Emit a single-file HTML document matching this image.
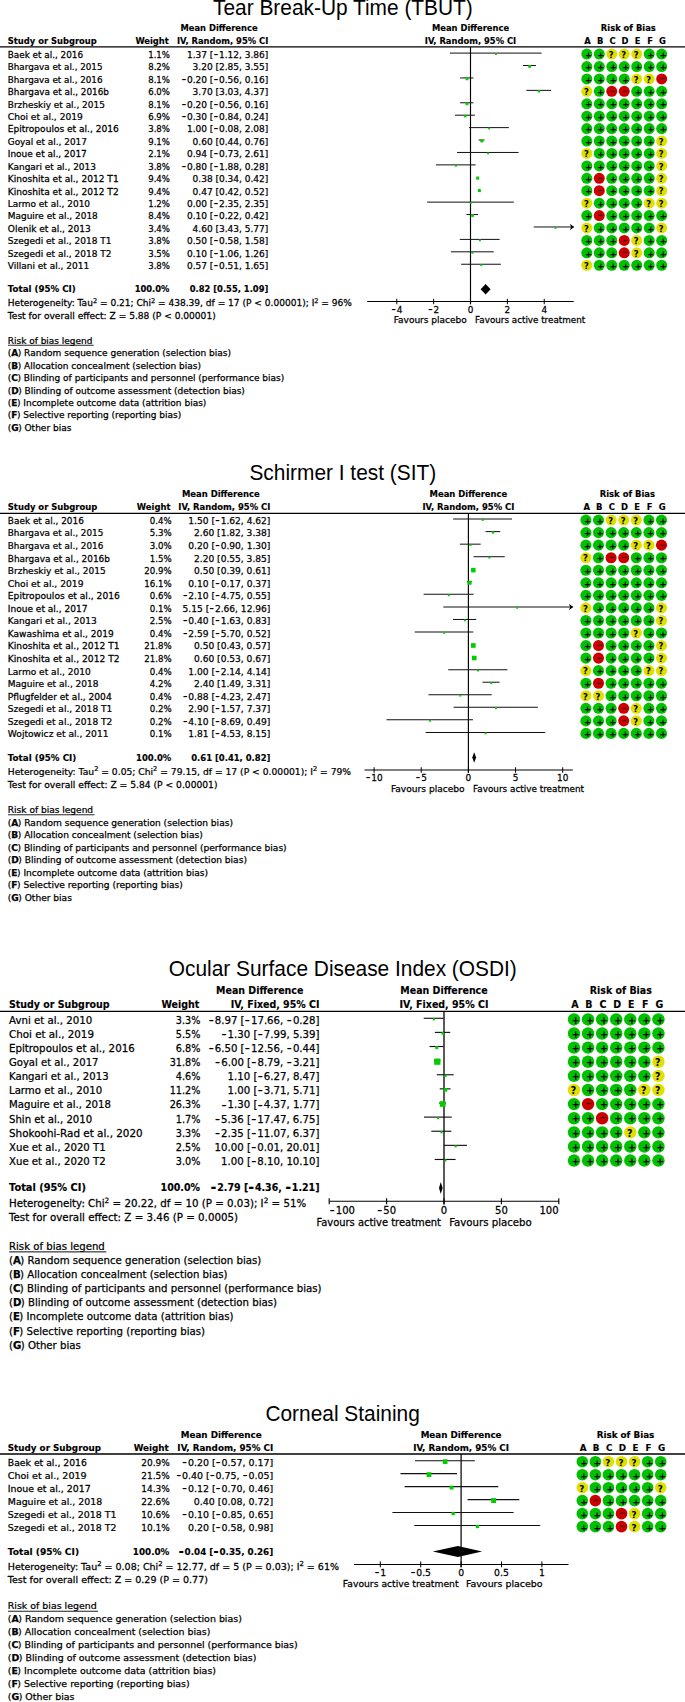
<!DOCTYPE html>
<html lang="en"><head><meta charset="utf-8"><title>Forest plots</title>
<style>html,body{margin:0;padding:0;background:#fff}svg{display:block}text{white-space:pre}</style></head>
<body><svg width="685" height="1702" viewBox="0 0 685 1702">
<rect width="685" height="1702" fill="#fff"/>
<text transform="translate(342.90 14.80) scale(0.9850 1)" font-size="21.20" text-anchor="middle" fill="#000" font-family="'Liberation Sans',sans-serif">Tear Break-Up Time (TBUT)</text>
<line x1="0.00" y1="46.95" x2="685.00" y2="46.95" stroke="#000" stroke-width="1.30"/>
<text transform="translate(7.80 43.70) scale(0.9300 1)" font-size="9.00" font-weight="bold" stroke="#000" stroke-width="0.15" fill="#000" font-family="'DejaVu Sans','Liberation Sans',sans-serif">Study or Subgroup</text>
<text transform="translate(168.80 43.70) scale(0.9300 1)" font-size="9.00" font-weight="bold" stroke="#000" stroke-width="0.15" text-anchor="end" fill="#000" font-family="'DejaVu Sans','Liberation Sans',sans-serif">Weight</text>
<text transform="translate(268.30 43.70) scale(0.9300 1)" font-size="9.00" font-weight="bold" stroke="#000" stroke-width="0.15" text-anchor="end" fill="#000" font-family="'DejaVu Sans','Liberation Sans',sans-serif">IV, Random, 95% CI</text>
<text transform="translate(219.00 31.30) scale(0.9300 1)" font-size="9.00" font-weight="bold" stroke="#000" stroke-width="0.15" text-anchor="middle" fill="#000" font-family="'DejaVu Sans','Liberation Sans',sans-serif">Mean Difference</text>
<text transform="translate(470.50 31.30) scale(0.9300 1)" font-size="9.00" font-weight="bold" stroke="#000" stroke-width="0.15" text-anchor="middle" fill="#000" font-family="'DejaVu Sans','Liberation Sans',sans-serif">Mean Difference</text>
<text transform="translate(470.50 43.70) scale(0.9300 1)" font-size="9.00" font-weight="bold" stroke="#000" stroke-width="0.15" text-anchor="middle" fill="#000" font-family="'DejaVu Sans','Liberation Sans',sans-serif">IV, Random, 95% CI</text>
<text transform="translate(628.30 31.30) scale(0.9300 1)" font-size="9.00" font-weight="bold" stroke="#000" stroke-width="0.15" text-anchor="middle" fill="#000" font-family="'DejaVu Sans','Liberation Sans',sans-serif">Risk of Bias</text>
<text transform="translate(587.60 43.70) scale(0.9300 1)" font-size="9.00" font-weight="bold" stroke="#000" stroke-width="0.15" text-anchor="middle" fill="#000" font-family="'DejaVu Sans','Liberation Sans',sans-serif">A</text>
<text transform="translate(600.08 43.70) scale(0.9300 1)" font-size="9.00" font-weight="bold" stroke="#000" stroke-width="0.15" text-anchor="middle" fill="#000" font-family="'DejaVu Sans','Liberation Sans',sans-serif">B</text>
<text transform="translate(612.56 43.70) scale(0.9300 1)" font-size="9.00" font-weight="bold" stroke="#000" stroke-width="0.15" text-anchor="middle" fill="#000" font-family="'DejaVu Sans','Liberation Sans',sans-serif">C</text>
<text transform="translate(625.04 43.70) scale(0.9300 1)" font-size="9.00" font-weight="bold" stroke="#000" stroke-width="0.15" text-anchor="middle" fill="#000" font-family="'DejaVu Sans','Liberation Sans',sans-serif">D</text>
<text transform="translate(637.52 43.70) scale(0.9300 1)" font-size="9.00" font-weight="bold" stroke="#000" stroke-width="0.15" text-anchor="middle" fill="#000" font-family="'DejaVu Sans','Liberation Sans',sans-serif">E</text>
<text transform="translate(650.00 43.70) scale(0.9300 1)" font-size="9.00" font-weight="bold" stroke="#000" stroke-width="0.15" text-anchor="middle" fill="#000" font-family="'DejaVu Sans','Liberation Sans',sans-serif">F</text>
<text transform="translate(662.48 43.70) scale(0.9300 1)" font-size="9.00" font-weight="bold" stroke="#000" stroke-width="0.15" text-anchor="middle" fill="#000" font-family="'DejaVu Sans','Liberation Sans',sans-serif">G</text>
<line x1="470.50" y1="46.95" x2="470.50" y2="304.30" stroke="#000" stroke-width="1.15"/>
<text transform="translate(7.80 57.90) scale(0.9827 1)" font-size="9.00" stroke="#000" stroke-width="0.25" fill="#000" font-family="'DejaVu Sans','Liberation Sans',sans-serif">Baek et al., 2016</text>
<text transform="translate(169.90 57.90) scale(0.9500 1)" font-size="9.00" stroke="#000" stroke-width="0.25" text-anchor="end" fill="#000" font-family="'DejaVu Sans','Liberation Sans',sans-serif">1.1%</text>
<text x="268.30" y="57.90" font-size="9.00" stroke="#000" stroke-width="0.25" text-anchor="end" fill="#000" font-family="'DejaVu Sans','Liberation Sans',sans-serif">1.37 [<tspan font-size="13.50" dy="1.04" stroke-width="0" letter-spacing="0.72">-</tspan><tspan dy="-1.04">1.12, 3.86]</tspan></text>
<line x1="449.86" y1="53.10" x2="541.64" y2="53.10" stroke="#111" stroke-width="1.00"/>
<rect x="495.00" y="53.05" width="1.90" height="1.90" fill="#00cc00"/>
<circle cx="586.80" cy="54.10" r="5.50" fill="#00c000"/>
<text transform="translate(588.40 57.80) scale(0.9300 1)" font-size="9.00" font-weight="bold" stroke="#000" stroke-width="0.05" text-anchor="middle" fill="#000" font-family="'DejaVu Sans','Liberation Sans',sans-serif">+</text>
<circle cx="599.28" cy="54.10" r="5.50" fill="#00c000"/>
<text transform="translate(600.88 57.80) scale(0.9300 1)" font-size="9.00" font-weight="bold" stroke="#000" stroke-width="0.05" text-anchor="middle" fill="#000" font-family="'DejaVu Sans','Liberation Sans',sans-serif">+</text>
<circle cx="611.76" cy="54.10" r="5.50" fill="#e0e000"/>
<text transform="translate(611.26 57.80) scale(0.9300 1)" font-size="9.00" font-weight="bold" stroke="#000" stroke-width="0.05" text-anchor="middle" fill="#000" font-family="'DejaVu Sans','Liberation Sans',sans-serif">?</text>
<circle cx="624.24" cy="54.10" r="5.50" fill="#e0e000"/>
<text transform="translate(623.74 57.80) scale(0.9300 1)" font-size="9.00" font-weight="bold" stroke="#000" stroke-width="0.05" text-anchor="middle" fill="#000" font-family="'DejaVu Sans','Liberation Sans',sans-serif">?</text>
<circle cx="636.72" cy="54.10" r="5.50" fill="#e0e000"/>
<text transform="translate(636.22 57.80) scale(0.9300 1)" font-size="9.00" font-weight="bold" stroke="#000" stroke-width="0.05" text-anchor="middle" fill="#000" font-family="'DejaVu Sans','Liberation Sans',sans-serif">?</text>
<circle cx="649.20" cy="54.10" r="5.50" fill="#00c000"/>
<text transform="translate(650.80 57.80) scale(0.9300 1)" font-size="9.00" font-weight="bold" stroke="#000" stroke-width="0.05" text-anchor="middle" fill="#000" font-family="'DejaVu Sans','Liberation Sans',sans-serif">+</text>
<circle cx="661.68" cy="54.10" r="5.50" fill="#00c000"/>
<text transform="translate(663.28 57.80) scale(0.9300 1)" font-size="9.00" font-weight="bold" stroke="#000" stroke-width="0.05" text-anchor="middle" fill="#000" font-family="'DejaVu Sans','Liberation Sans',sans-serif">+</text>
<text transform="translate(7.80 70.32) scale(0.9744 1)" font-size="9.00" stroke="#000" stroke-width="0.25" fill="#000" font-family="'DejaVu Sans','Liberation Sans',sans-serif">Bhargava et al., 2015</text>
<text transform="translate(169.90 70.32) scale(0.9500 1)" font-size="9.00" stroke="#000" stroke-width="0.25" text-anchor="end" fill="#000" font-family="'DejaVu Sans','Liberation Sans',sans-serif">8.2%</text>
<text x="268.30" y="70.32" font-size="9.00" stroke="#000" stroke-width="0.25" text-anchor="end" fill="#000" font-family="'DejaVu Sans','Liberation Sans',sans-serif">3.20 [2.85, 3.55]</text>
<line x1="523.03" y1="65.52" x2="535.93" y2="65.52" stroke="#111" stroke-width="1.00"/>
<rect x="528.27" y="65.02" width="2.81" height="2.81" fill="#00cc00"/>
<circle cx="586.80" cy="66.52" r="5.50" fill="#00c000"/>
<text transform="translate(588.40 70.22) scale(0.9300 1)" font-size="9.00" font-weight="bold" stroke="#000" stroke-width="0.05" text-anchor="middle" fill="#000" font-family="'DejaVu Sans','Liberation Sans',sans-serif">+</text>
<circle cx="599.28" cy="66.52" r="5.50" fill="#00c000"/>
<text transform="translate(600.88 70.22) scale(0.9300 1)" font-size="9.00" font-weight="bold" stroke="#000" stroke-width="0.05" text-anchor="middle" fill="#000" font-family="'DejaVu Sans','Liberation Sans',sans-serif">+</text>
<circle cx="611.76" cy="66.52" r="5.50" fill="#00c000"/>
<text transform="translate(613.36 70.22) scale(0.9300 1)" font-size="9.00" font-weight="bold" stroke="#000" stroke-width="0.05" text-anchor="middle" fill="#000" font-family="'DejaVu Sans','Liberation Sans',sans-serif">+</text>
<circle cx="624.24" cy="66.52" r="5.50" fill="#00c000"/>
<text transform="translate(625.84 70.22) scale(0.9300 1)" font-size="9.00" font-weight="bold" stroke="#000" stroke-width="0.05" text-anchor="middle" fill="#000" font-family="'DejaVu Sans','Liberation Sans',sans-serif">+</text>
<circle cx="636.72" cy="66.52" r="5.50" fill="#00c000"/>
<text transform="translate(638.32 70.22) scale(0.9300 1)" font-size="9.00" font-weight="bold" stroke="#000" stroke-width="0.05" text-anchor="middle" fill="#000" font-family="'DejaVu Sans','Liberation Sans',sans-serif">+</text>
<circle cx="649.20" cy="66.52" r="5.50" fill="#00c000"/>
<text transform="translate(650.80 70.22) scale(0.9300 1)" font-size="9.00" font-weight="bold" stroke="#000" stroke-width="0.05" text-anchor="middle" fill="#000" font-family="'DejaVu Sans','Liberation Sans',sans-serif">+</text>
<circle cx="661.68" cy="66.52" r="5.50" fill="#00c000"/>
<text transform="translate(663.28 70.22) scale(0.9300 1)" font-size="9.00" font-weight="bold" stroke="#000" stroke-width="0.05" text-anchor="middle" fill="#000" font-family="'DejaVu Sans','Liberation Sans',sans-serif">+</text>
<text transform="translate(7.80 82.74) scale(0.9744 1)" font-size="9.00" stroke="#000" stroke-width="0.25" fill="#000" font-family="'DejaVu Sans','Liberation Sans',sans-serif">Bhargava et al., 2016</text>
<text transform="translate(169.90 82.74) scale(0.9500 1)" font-size="9.00" stroke="#000" stroke-width="0.25" text-anchor="end" fill="#000" font-family="'DejaVu Sans','Liberation Sans',sans-serif">8.1%</text>
<text x="268.30" y="82.74" font-size="9.00" stroke="#000" stroke-width="0.25" text-anchor="end" fill="#000" font-family="'DejaVu Sans','Liberation Sans',sans-serif"><tspan font-size="13.50" dy="1.04" stroke-width="0" letter-spacing="0.72">-</tspan><tspan dy="-1.04">0.20 [</tspan><tspan font-size="13.50" dy="1.04" stroke-width="0" letter-spacing="0.72">-</tspan><tspan dy="-1.04">0.56, 0.16]</tspan></text>
<line x1="460.18" y1="77.94" x2="473.45" y2="77.94" stroke="#111" stroke-width="1.00"/>
<rect x="465.62" y="77.45" width="2.79" height="2.79" fill="#00cc00"/>
<circle cx="586.80" cy="78.94" r="5.50" fill="#00c000"/>
<text transform="translate(588.40 82.64) scale(0.9300 1)" font-size="9.00" font-weight="bold" stroke="#000" stroke-width="0.05" text-anchor="middle" fill="#000" font-family="'DejaVu Sans','Liberation Sans',sans-serif">+</text>
<circle cx="599.28" cy="78.94" r="5.50" fill="#00c000"/>
<text transform="translate(600.88 82.64) scale(0.9300 1)" font-size="9.00" font-weight="bold" stroke="#000" stroke-width="0.05" text-anchor="middle" fill="#000" font-family="'DejaVu Sans','Liberation Sans',sans-serif">+</text>
<circle cx="611.76" cy="78.94" r="5.50" fill="#00c000"/>
<text transform="translate(613.36 82.64) scale(0.9300 1)" font-size="9.00" font-weight="bold" stroke="#000" stroke-width="0.05" text-anchor="middle" fill="#000" font-family="'DejaVu Sans','Liberation Sans',sans-serif">+</text>
<circle cx="624.24" cy="78.94" r="5.50" fill="#00c000"/>
<text transform="translate(625.84 82.64) scale(0.9300 1)" font-size="9.00" font-weight="bold" stroke="#000" stroke-width="0.05" text-anchor="middle" fill="#000" font-family="'DejaVu Sans','Liberation Sans',sans-serif">+</text>
<circle cx="636.72" cy="78.94" r="5.50" fill="#e0e000"/>
<text transform="translate(636.22 82.64) scale(0.9300 1)" font-size="9.00" font-weight="bold" stroke="#000" stroke-width="0.05" text-anchor="middle" fill="#000" font-family="'DejaVu Sans','Liberation Sans',sans-serif">?</text>
<circle cx="649.20" cy="78.94" r="5.50" fill="#e0e000"/>
<text transform="translate(648.70 82.64) scale(0.9300 1)" font-size="9.00" font-weight="bold" stroke="#000" stroke-width="0.05" text-anchor="middle" fill="#000" font-family="'DejaVu Sans','Liberation Sans',sans-serif">?</text>
<circle cx="661.68" cy="78.94" r="5.50" fill="#cc0000"/>
<text transform="translate(662.38 81.44) scale(0.7800 1)" font-size="9.00" font-weight="bold" text-anchor="middle" fill="#400" font-family="'DejaVu Sans','Liberation Sans',sans-serif">−</text>
<text transform="translate(7.80 95.16) scale(0.9834 1)" font-size="9.00" stroke="#000" stroke-width="0.25" fill="#000" font-family="'DejaVu Sans','Liberation Sans',sans-serif">Bhargava et al., 2016b</text>
<text transform="translate(169.90 95.16) scale(0.9500 1)" font-size="9.00" stroke="#000" stroke-width="0.25" text-anchor="end" fill="#000" font-family="'DejaVu Sans','Liberation Sans',sans-serif">6.0%</text>
<text x="268.30" y="95.16" font-size="9.00" stroke="#000" stroke-width="0.25" text-anchor="end" fill="#000" font-family="'DejaVu Sans','Liberation Sans',sans-serif">3.70 [3.03, 4.37]</text>
<line x1="526.34" y1="90.36" x2="551.04" y2="90.36" stroke="#111" stroke-width="1.00"/>
<rect x="537.69" y="90.06" width="2.40" height="2.40" fill="#00cc00"/>
<circle cx="586.80" cy="91.36" r="5.50" fill="#e0e000"/>
<text transform="translate(586.30 95.06) scale(0.9300 1)" font-size="9.00" font-weight="bold" stroke="#000" stroke-width="0.05" text-anchor="middle" fill="#000" font-family="'DejaVu Sans','Liberation Sans',sans-serif">?</text>
<circle cx="599.28" cy="91.36" r="5.50" fill="#00c000"/>
<text transform="translate(600.88 95.06) scale(0.9300 1)" font-size="9.00" font-weight="bold" stroke="#000" stroke-width="0.05" text-anchor="middle" fill="#000" font-family="'DejaVu Sans','Liberation Sans',sans-serif">+</text>
<circle cx="611.76" cy="91.36" r="5.50" fill="#cc0000"/>
<text transform="translate(612.46 93.86) scale(0.7800 1)" font-size="9.00" font-weight="bold" text-anchor="middle" fill="#400" font-family="'DejaVu Sans','Liberation Sans',sans-serif">−</text>
<circle cx="624.24" cy="91.36" r="5.50" fill="#cc0000"/>
<text transform="translate(624.94 93.86) scale(0.7800 1)" font-size="9.00" font-weight="bold" text-anchor="middle" fill="#400" font-family="'DejaVu Sans','Liberation Sans',sans-serif">−</text>
<circle cx="636.72" cy="91.36" r="5.50" fill="#00c000"/>
<text transform="translate(638.32 95.06) scale(0.9300 1)" font-size="9.00" font-weight="bold" stroke="#000" stroke-width="0.05" text-anchor="middle" fill="#000" font-family="'DejaVu Sans','Liberation Sans',sans-serif">+</text>
<circle cx="649.20" cy="91.36" r="5.50" fill="#00c000"/>
<text transform="translate(650.80 95.06) scale(0.9300 1)" font-size="9.00" font-weight="bold" stroke="#000" stroke-width="0.05" text-anchor="middle" fill="#000" font-family="'DejaVu Sans','Liberation Sans',sans-serif">+</text>
<circle cx="661.68" cy="91.36" r="5.50" fill="#00c000"/>
<text transform="translate(663.28 95.06) scale(0.9300 1)" font-size="9.00" font-weight="bold" stroke="#000" stroke-width="0.05" text-anchor="middle" fill="#000" font-family="'DejaVu Sans','Liberation Sans',sans-serif">+</text>
<text transform="translate(7.80 107.58) scale(0.9933 1)" font-size="9.00" stroke="#000" stroke-width="0.25" fill="#000" font-family="'DejaVu Sans','Liberation Sans',sans-serif">Brzheskiy et al., 2015</text>
<text transform="translate(169.90 107.58) scale(0.9500 1)" font-size="9.00" stroke="#000" stroke-width="0.25" text-anchor="end" fill="#000" font-family="'DejaVu Sans','Liberation Sans',sans-serif">8.1%</text>
<text x="268.30" y="107.58" font-size="9.00" stroke="#000" stroke-width="0.25" text-anchor="end" fill="#000" font-family="'DejaVu Sans','Liberation Sans',sans-serif"><tspan font-size="13.50" dy="1.04" stroke-width="0" letter-spacing="0.72">-</tspan><tspan dy="-1.04">0.20 [</tspan><tspan font-size="13.50" dy="1.04" stroke-width="0" letter-spacing="0.72">-</tspan><tspan dy="-1.04">0.56, 0.16]</tspan></text>
<line x1="460.18" y1="102.78" x2="473.45" y2="102.78" stroke="#111" stroke-width="1.00"/>
<rect x="465.62" y="102.29" width="2.79" height="2.79" fill="#00cc00"/>
<circle cx="586.80" cy="103.78" r="5.50" fill="#00c000"/>
<text transform="translate(588.40 107.48) scale(0.9300 1)" font-size="9.00" font-weight="bold" stroke="#000" stroke-width="0.05" text-anchor="middle" fill="#000" font-family="'DejaVu Sans','Liberation Sans',sans-serif">+</text>
<circle cx="599.28" cy="103.78" r="5.50" fill="#00c000"/>
<text transform="translate(600.88 107.48) scale(0.9300 1)" font-size="9.00" font-weight="bold" stroke="#000" stroke-width="0.05" text-anchor="middle" fill="#000" font-family="'DejaVu Sans','Liberation Sans',sans-serif">+</text>
<circle cx="611.76" cy="103.78" r="5.50" fill="#00c000"/>
<text transform="translate(613.36 107.48) scale(0.9300 1)" font-size="9.00" font-weight="bold" stroke="#000" stroke-width="0.05" text-anchor="middle" fill="#000" font-family="'DejaVu Sans','Liberation Sans',sans-serif">+</text>
<circle cx="624.24" cy="103.78" r="5.50" fill="#00c000"/>
<text transform="translate(625.84 107.48) scale(0.9300 1)" font-size="9.00" font-weight="bold" stroke="#000" stroke-width="0.05" text-anchor="middle" fill="#000" font-family="'DejaVu Sans','Liberation Sans',sans-serif">+</text>
<circle cx="636.72" cy="103.78" r="5.50" fill="#00c000"/>
<text transform="translate(638.32 107.48) scale(0.9300 1)" font-size="9.00" font-weight="bold" stroke="#000" stroke-width="0.05" text-anchor="middle" fill="#000" font-family="'DejaVu Sans','Liberation Sans',sans-serif">+</text>
<circle cx="649.20" cy="103.78" r="5.50" fill="#00c000"/>
<text transform="translate(650.80 107.48) scale(0.9300 1)" font-size="9.00" font-weight="bold" stroke="#000" stroke-width="0.05" text-anchor="middle" fill="#000" font-family="'DejaVu Sans','Liberation Sans',sans-serif">+</text>
<circle cx="661.68" cy="103.78" r="5.50" fill="#00c000"/>
<text transform="translate(663.28 107.48) scale(0.9300 1)" font-size="9.00" font-weight="bold" stroke="#000" stroke-width="0.05" text-anchor="middle" fill="#000" font-family="'DejaVu Sans','Liberation Sans',sans-serif">+</text>
<text transform="translate(7.80 120.00) scale(1.0110 1)" font-size="9.00" stroke="#000" stroke-width="0.25" fill="#000" font-family="'DejaVu Sans','Liberation Sans',sans-serif">Choi et al., 2019</text>
<text transform="translate(169.90 120.00) scale(0.9500 1)" font-size="9.00" stroke="#000" stroke-width="0.25" text-anchor="end" fill="#000" font-family="'DejaVu Sans','Liberation Sans',sans-serif">6.9%</text>
<text x="268.30" y="120.00" font-size="9.00" stroke="#000" stroke-width="0.25" text-anchor="end" fill="#000" font-family="'DejaVu Sans','Liberation Sans',sans-serif"><tspan font-size="13.50" dy="1.04" stroke-width="0" letter-spacing="0.72">-</tspan><tspan dy="-1.04">0.30 [</tspan><tspan font-size="13.50" dy="1.04" stroke-width="0" letter-spacing="0.72">-</tspan><tspan dy="-1.04">0.84, 0.24]</tspan></text>
<line x1="455.02" y1="115.20" x2="474.92" y2="115.20" stroke="#111" stroke-width="1.00"/>
<rect x="463.88" y="114.81" width="2.57" height="2.57" fill="#00cc00"/>
<circle cx="586.80" cy="116.20" r="5.50" fill="#00c000"/>
<text transform="translate(588.40 119.90) scale(0.9300 1)" font-size="9.00" font-weight="bold" stroke="#000" stroke-width="0.05" text-anchor="middle" fill="#000" font-family="'DejaVu Sans','Liberation Sans',sans-serif">+</text>
<circle cx="599.28" cy="116.20" r="5.50" fill="#00c000"/>
<text transform="translate(600.88 119.90) scale(0.9300 1)" font-size="9.00" font-weight="bold" stroke="#000" stroke-width="0.05" text-anchor="middle" fill="#000" font-family="'DejaVu Sans','Liberation Sans',sans-serif">+</text>
<circle cx="611.76" cy="116.20" r="5.50" fill="#00c000"/>
<text transform="translate(613.36 119.90) scale(0.9300 1)" font-size="9.00" font-weight="bold" stroke="#000" stroke-width="0.05" text-anchor="middle" fill="#000" font-family="'DejaVu Sans','Liberation Sans',sans-serif">+</text>
<circle cx="624.24" cy="116.20" r="5.50" fill="#00c000"/>
<text transform="translate(625.84 119.90) scale(0.9300 1)" font-size="9.00" font-weight="bold" stroke="#000" stroke-width="0.05" text-anchor="middle" fill="#000" font-family="'DejaVu Sans','Liberation Sans',sans-serif">+</text>
<circle cx="636.72" cy="116.20" r="5.50" fill="#00c000"/>
<text transform="translate(638.32 119.90) scale(0.9300 1)" font-size="9.00" font-weight="bold" stroke="#000" stroke-width="0.05" text-anchor="middle" fill="#000" font-family="'DejaVu Sans','Liberation Sans',sans-serif">+</text>
<circle cx="649.20" cy="116.20" r="5.50" fill="#00c000"/>
<text transform="translate(650.80 119.90) scale(0.9300 1)" font-size="9.00" font-weight="bold" stroke="#000" stroke-width="0.05" text-anchor="middle" fill="#000" font-family="'DejaVu Sans','Liberation Sans',sans-serif">+</text>
<circle cx="661.68" cy="116.20" r="5.50" fill="#00c000"/>
<text transform="translate(663.28 119.90) scale(0.9300 1)" font-size="9.00" font-weight="bold" stroke="#000" stroke-width="0.05" text-anchor="middle" fill="#000" font-family="'DejaVu Sans','Liberation Sans',sans-serif">+</text>
<text transform="translate(7.80 132.42) scale(1.0068 1)" font-size="9.00" stroke="#000" stroke-width="0.25" fill="#000" font-family="'DejaVu Sans','Liberation Sans',sans-serif">Epitropoulos et al., 2016</text>
<text transform="translate(169.90 132.42) scale(0.9500 1)" font-size="9.00" stroke="#000" stroke-width="0.25" text-anchor="end" fill="#000" font-family="'DejaVu Sans','Liberation Sans',sans-serif">3.8%</text>
<text x="268.30" y="132.42" font-size="9.00" stroke="#000" stroke-width="0.25" text-anchor="end" fill="#000" font-family="'DejaVu Sans','Liberation Sans',sans-serif">1.00 [<tspan font-size="13.50" dy="1.04" stroke-width="0" letter-spacing="0.72">-</tspan><tspan dy="-1.04">0.08, 2.08]</tspan></text>
<line x1="469.03" y1="127.62" x2="508.83" y2="127.62" stroke="#111" stroke-width="1.00"/>
<rect x="488.17" y="127.56" width="1.91" height="1.91" fill="#00cc00"/>
<circle cx="586.80" cy="128.62" r="5.50" fill="#00c000"/>
<text transform="translate(588.40 132.32) scale(0.9300 1)" font-size="9.00" font-weight="bold" stroke="#000" stroke-width="0.05" text-anchor="middle" fill="#000" font-family="'DejaVu Sans','Liberation Sans',sans-serif">+</text>
<circle cx="599.28" cy="128.62" r="5.50" fill="#00c000"/>
<text transform="translate(600.88 132.32) scale(0.9300 1)" font-size="9.00" font-weight="bold" stroke="#000" stroke-width="0.05" text-anchor="middle" fill="#000" font-family="'DejaVu Sans','Liberation Sans',sans-serif">+</text>
<circle cx="611.76" cy="128.62" r="5.50" fill="#00c000"/>
<text transform="translate(613.36 132.32) scale(0.9300 1)" font-size="9.00" font-weight="bold" stroke="#000" stroke-width="0.05" text-anchor="middle" fill="#000" font-family="'DejaVu Sans','Liberation Sans',sans-serif">+</text>
<circle cx="624.24" cy="128.62" r="5.50" fill="#00c000"/>
<text transform="translate(625.84 132.32) scale(0.9300 1)" font-size="9.00" font-weight="bold" stroke="#000" stroke-width="0.05" text-anchor="middle" fill="#000" font-family="'DejaVu Sans','Liberation Sans',sans-serif">+</text>
<circle cx="636.72" cy="128.62" r="5.50" fill="#00c000"/>
<text transform="translate(638.32 132.32) scale(0.9300 1)" font-size="9.00" font-weight="bold" stroke="#000" stroke-width="0.05" text-anchor="middle" fill="#000" font-family="'DejaVu Sans','Liberation Sans',sans-serif">+</text>
<circle cx="649.20" cy="128.62" r="5.50" fill="#00c000"/>
<text transform="translate(650.80 132.32) scale(0.9300 1)" font-size="9.00" font-weight="bold" stroke="#000" stroke-width="0.05" text-anchor="middle" fill="#000" font-family="'DejaVu Sans','Liberation Sans',sans-serif">+</text>
<circle cx="661.68" cy="128.62" r="5.50" fill="#00c000"/>
<text transform="translate(663.28 132.32) scale(0.9300 1)" font-size="9.00" font-weight="bold" stroke="#000" stroke-width="0.05" text-anchor="middle" fill="#000" font-family="'DejaVu Sans','Liberation Sans',sans-serif">+</text>
<text transform="translate(7.80 144.84) scale(0.9874 1)" font-size="9.00" stroke="#000" stroke-width="0.25" fill="#000" font-family="'DejaVu Sans','Liberation Sans',sans-serif">Goyal et al., 2017</text>
<text transform="translate(169.90 144.84) scale(0.9500 1)" font-size="9.00" stroke="#000" stroke-width="0.25" text-anchor="end" fill="#000" font-family="'DejaVu Sans','Liberation Sans',sans-serif">9.1%</text>
<text x="268.30" y="144.84" font-size="9.00" stroke="#000" stroke-width="0.25" text-anchor="end" fill="#000" font-family="'DejaVu Sans','Liberation Sans',sans-serif">0.60 [0.44, 0.76]</text>
<line x1="478.61" y1="140.04" x2="484.51" y2="140.04" stroke="#111" stroke-width="1.00"/>
<rect x="480.28" y="139.46" width="2.96" height="2.96" fill="#00cc00"/>
<circle cx="586.80" cy="141.04" r="5.50" fill="#00c000"/>
<text transform="translate(588.40 144.74) scale(0.9300 1)" font-size="9.00" font-weight="bold" stroke="#000" stroke-width="0.05" text-anchor="middle" fill="#000" font-family="'DejaVu Sans','Liberation Sans',sans-serif">+</text>
<circle cx="599.28" cy="141.04" r="5.50" fill="#00c000"/>
<text transform="translate(600.88 144.74) scale(0.9300 1)" font-size="9.00" font-weight="bold" stroke="#000" stroke-width="0.05" text-anchor="middle" fill="#000" font-family="'DejaVu Sans','Liberation Sans',sans-serif">+</text>
<circle cx="611.76" cy="141.04" r="5.50" fill="#00c000"/>
<text transform="translate(613.36 144.74) scale(0.9300 1)" font-size="9.00" font-weight="bold" stroke="#000" stroke-width="0.05" text-anchor="middle" fill="#000" font-family="'DejaVu Sans','Liberation Sans',sans-serif">+</text>
<circle cx="624.24" cy="141.04" r="5.50" fill="#00c000"/>
<text transform="translate(625.84 144.74) scale(0.9300 1)" font-size="9.00" font-weight="bold" stroke="#000" stroke-width="0.05" text-anchor="middle" fill="#000" font-family="'DejaVu Sans','Liberation Sans',sans-serif">+</text>
<circle cx="636.72" cy="141.04" r="5.50" fill="#00c000"/>
<text transform="translate(638.32 144.74) scale(0.9300 1)" font-size="9.00" font-weight="bold" stroke="#000" stroke-width="0.05" text-anchor="middle" fill="#000" font-family="'DejaVu Sans','Liberation Sans',sans-serif">+</text>
<circle cx="649.20" cy="141.04" r="5.50" fill="#00c000"/>
<text transform="translate(650.80 144.74) scale(0.9300 1)" font-size="9.00" font-weight="bold" stroke="#000" stroke-width="0.05" text-anchor="middle" fill="#000" font-family="'DejaVu Sans','Liberation Sans',sans-serif">+</text>
<circle cx="661.68" cy="141.04" r="5.50" fill="#e0e000"/>
<text transform="translate(661.18 144.74) scale(0.9300 1)" font-size="9.00" font-weight="bold" stroke="#000" stroke-width="0.05" text-anchor="middle" fill="#000" font-family="'DejaVu Sans','Liberation Sans',sans-serif">?</text>
<text transform="translate(7.80 157.26) scale(0.9963 1)" font-size="9.00" stroke="#000" stroke-width="0.25" fill="#000" font-family="'DejaVu Sans','Liberation Sans',sans-serif">Inoue et al., 2017</text>
<text transform="translate(169.90 157.26) scale(0.9500 1)" font-size="9.00" stroke="#000" stroke-width="0.25" text-anchor="end" fill="#000" font-family="'DejaVu Sans','Liberation Sans',sans-serif">2.1%</text>
<text x="268.30" y="157.26" font-size="9.00" stroke="#000" stroke-width="0.25" text-anchor="end" fill="#000" font-family="'DejaVu Sans','Liberation Sans',sans-serif">0.94 [<tspan font-size="13.50" dy="1.04" stroke-width="0" letter-spacing="0.72">-</tspan><tspan dy="-1.04">0.73, 2.61]</tspan></text>
<line x1="457.05" y1="152.46" x2="518.60" y2="152.46" stroke="#111" stroke-width="1.00"/>
<rect x="487.07" y="152.41" width="1.90" height="1.90" fill="#00cc00"/>
<circle cx="586.80" cy="153.46" r="5.50" fill="#e0e000"/>
<text transform="translate(586.30 157.16) scale(0.9300 1)" font-size="9.00" font-weight="bold" stroke="#000" stroke-width="0.05" text-anchor="middle" fill="#000" font-family="'DejaVu Sans','Liberation Sans',sans-serif">?</text>
<circle cx="599.28" cy="153.46" r="5.50" fill="#00c000"/>
<text transform="translate(600.88 157.16) scale(0.9300 1)" font-size="9.00" font-weight="bold" stroke="#000" stroke-width="0.05" text-anchor="middle" fill="#000" font-family="'DejaVu Sans','Liberation Sans',sans-serif">+</text>
<circle cx="611.76" cy="153.46" r="5.50" fill="#00c000"/>
<text transform="translate(613.36 157.16) scale(0.9300 1)" font-size="9.00" font-weight="bold" stroke="#000" stroke-width="0.05" text-anchor="middle" fill="#000" font-family="'DejaVu Sans','Liberation Sans',sans-serif">+</text>
<circle cx="624.24" cy="153.46" r="5.50" fill="#00c000"/>
<text transform="translate(625.84 157.16) scale(0.9300 1)" font-size="9.00" font-weight="bold" stroke="#000" stroke-width="0.05" text-anchor="middle" fill="#000" font-family="'DejaVu Sans','Liberation Sans',sans-serif">+</text>
<circle cx="636.72" cy="153.46" r="5.50" fill="#00c000"/>
<text transform="translate(638.32 157.16) scale(0.9300 1)" font-size="9.00" font-weight="bold" stroke="#000" stroke-width="0.05" text-anchor="middle" fill="#000" font-family="'DejaVu Sans','Liberation Sans',sans-serif">+</text>
<circle cx="649.20" cy="153.46" r="5.50" fill="#00c000"/>
<text transform="translate(650.80 157.16) scale(0.9300 1)" font-size="9.00" font-weight="bold" stroke="#000" stroke-width="0.05" text-anchor="middle" fill="#000" font-family="'DejaVu Sans','Liberation Sans',sans-serif">+</text>
<circle cx="661.68" cy="153.46" r="5.50" fill="#e0e000"/>
<text transform="translate(661.18 157.16) scale(0.9300 1)" font-size="9.00" font-weight="bold" stroke="#000" stroke-width="0.05" text-anchor="middle" fill="#000" font-family="'DejaVu Sans','Liberation Sans',sans-serif">?</text>
<text transform="translate(7.80 169.68) scale(0.9934 1)" font-size="9.00" stroke="#000" stroke-width="0.25" fill="#000" font-family="'DejaVu Sans','Liberation Sans',sans-serif">Kangari et al., 2013</text>
<text transform="translate(169.90 169.68) scale(0.9500 1)" font-size="9.00" stroke="#000" stroke-width="0.25" text-anchor="end" fill="#000" font-family="'DejaVu Sans','Liberation Sans',sans-serif">3.8%</text>
<text x="268.30" y="169.68" font-size="9.00" stroke="#000" stroke-width="0.25" text-anchor="end" fill="#000" font-family="'DejaVu Sans','Liberation Sans',sans-serif"><tspan font-size="13.50" dy="1.04" stroke-width="0" letter-spacing="0.72">-</tspan><tspan dy="-1.04">0.80 [</tspan><tspan font-size="13.50" dy="1.04" stroke-width="0" letter-spacing="0.72">-</tspan><tspan dy="-1.04">1.88, 0.28]</tspan></text>
<line x1="435.85" y1="164.88" x2="475.66" y2="164.88" stroke="#111" stroke-width="1.00"/>
<rect x="455.00" y="164.82" width="1.91" height="1.91" fill="#00cc00"/>
<circle cx="586.80" cy="165.88" r="5.50" fill="#00c000"/>
<text transform="translate(588.40 169.58) scale(0.9300 1)" font-size="9.00" font-weight="bold" stroke="#000" stroke-width="0.05" text-anchor="middle" fill="#000" font-family="'DejaVu Sans','Liberation Sans',sans-serif">+</text>
<circle cx="599.28" cy="165.88" r="5.50" fill="#00c000"/>
<text transform="translate(600.88 169.58) scale(0.9300 1)" font-size="9.00" font-weight="bold" stroke="#000" stroke-width="0.05" text-anchor="middle" fill="#000" font-family="'DejaVu Sans','Liberation Sans',sans-serif">+</text>
<circle cx="611.76" cy="165.88" r="5.50" fill="#00c000"/>
<text transform="translate(613.36 169.58) scale(0.9300 1)" font-size="9.00" font-weight="bold" stroke="#000" stroke-width="0.05" text-anchor="middle" fill="#000" font-family="'DejaVu Sans','Liberation Sans',sans-serif">+</text>
<circle cx="624.24" cy="165.88" r="5.50" fill="#00c000"/>
<text transform="translate(625.84 169.58) scale(0.9300 1)" font-size="9.00" font-weight="bold" stroke="#000" stroke-width="0.05" text-anchor="middle" fill="#000" font-family="'DejaVu Sans','Liberation Sans',sans-serif">+</text>
<circle cx="636.72" cy="165.88" r="5.50" fill="#00c000"/>
<text transform="translate(638.32 169.58) scale(0.9300 1)" font-size="9.00" font-weight="bold" stroke="#000" stroke-width="0.05" text-anchor="middle" fill="#000" font-family="'DejaVu Sans','Liberation Sans',sans-serif">+</text>
<circle cx="649.20" cy="165.88" r="5.50" fill="#00c000"/>
<text transform="translate(650.80 169.58) scale(0.9300 1)" font-size="9.00" font-weight="bold" stroke="#000" stroke-width="0.05" text-anchor="middle" fill="#000" font-family="'DejaVu Sans','Liberation Sans',sans-serif">+</text>
<circle cx="661.68" cy="165.88" r="5.50" fill="#e0e000"/>
<text transform="translate(661.18 169.58) scale(0.9300 1)" font-size="9.00" font-weight="bold" stroke="#000" stroke-width="0.05" text-anchor="middle" fill="#000" font-family="'DejaVu Sans','Liberation Sans',sans-serif">?</text>
<text transform="translate(7.80 182.10) scale(1.0107 1)" font-size="9.00" stroke="#000" stroke-width="0.25" fill="#000" font-family="'DejaVu Sans','Liberation Sans',sans-serif">Kinoshita et al., 2012 T1</text>
<text transform="translate(169.90 182.10) scale(0.9500 1)" font-size="9.00" stroke="#000" stroke-width="0.25" text-anchor="end" fill="#000" font-family="'DejaVu Sans','Liberation Sans',sans-serif">9.4%</text>
<text x="268.30" y="182.10" font-size="9.00" stroke="#000" stroke-width="0.25" text-anchor="end" fill="#000" font-family="'DejaVu Sans','Liberation Sans',sans-serif">0.38 [0.34, 0.42]</text>
<line x1="476.77" y1="177.30" x2="478.24" y2="177.30" stroke="#111" stroke-width="1.00"/>
<rect x="476.20" y="176.70" width="3.00" height="3.00" fill="#00cc00"/>
<circle cx="586.80" cy="178.30" r="5.50" fill="#00c000"/>
<text transform="translate(588.40 182.00) scale(0.9300 1)" font-size="9.00" font-weight="bold" stroke="#000" stroke-width="0.05" text-anchor="middle" fill="#000" font-family="'DejaVu Sans','Liberation Sans',sans-serif">+</text>
<circle cx="599.28" cy="178.30" r="5.50" fill="#cc0000"/>
<text transform="translate(599.98 180.80) scale(0.7800 1)" font-size="9.00" font-weight="bold" text-anchor="middle" fill="#400" font-family="'DejaVu Sans','Liberation Sans',sans-serif">−</text>
<circle cx="611.76" cy="178.30" r="5.50" fill="#00c000"/>
<text transform="translate(613.36 182.00) scale(0.9300 1)" font-size="9.00" font-weight="bold" stroke="#000" stroke-width="0.05" text-anchor="middle" fill="#000" font-family="'DejaVu Sans','Liberation Sans',sans-serif">+</text>
<circle cx="624.24" cy="178.30" r="5.50" fill="#00c000"/>
<text transform="translate(625.84 182.00) scale(0.9300 1)" font-size="9.00" font-weight="bold" stroke="#000" stroke-width="0.05" text-anchor="middle" fill="#000" font-family="'DejaVu Sans','Liberation Sans',sans-serif">+</text>
<circle cx="636.72" cy="178.30" r="5.50" fill="#00c000"/>
<text transform="translate(638.32 182.00) scale(0.9300 1)" font-size="9.00" font-weight="bold" stroke="#000" stroke-width="0.05" text-anchor="middle" fill="#000" font-family="'DejaVu Sans','Liberation Sans',sans-serif">+</text>
<circle cx="649.20" cy="178.30" r="5.50" fill="#00c000"/>
<text transform="translate(650.80 182.00) scale(0.9300 1)" font-size="9.00" font-weight="bold" stroke="#000" stroke-width="0.05" text-anchor="middle" fill="#000" font-family="'DejaVu Sans','Liberation Sans',sans-serif">+</text>
<circle cx="661.68" cy="178.30" r="5.50" fill="#e0e000"/>
<text transform="translate(661.18 182.00) scale(0.9300 1)" font-size="9.00" font-weight="bold" stroke="#000" stroke-width="0.05" text-anchor="middle" fill="#000" font-family="'DejaVu Sans','Liberation Sans',sans-serif">?</text>
<text transform="translate(7.80 194.52) scale(1.0107 1)" font-size="9.00" stroke="#000" stroke-width="0.25" fill="#000" font-family="'DejaVu Sans','Liberation Sans',sans-serif">Kinoshita et al., 2012 T2</text>
<text transform="translate(169.90 194.52) scale(0.9500 1)" font-size="9.00" stroke="#000" stroke-width="0.25" text-anchor="end" fill="#000" font-family="'DejaVu Sans','Liberation Sans',sans-serif">9.4%</text>
<text x="268.30" y="194.52" font-size="9.00" stroke="#000" stroke-width="0.25" text-anchor="end" fill="#000" font-family="'DejaVu Sans','Liberation Sans',sans-serif">0.47 [0.42, 0.52]</text>
<line x1="478.24" y1="189.72" x2="480.08" y2="189.72" stroke="#111" stroke-width="1.00"/>
<rect x="477.86" y="189.12" width="3.00" height="3.00" fill="#00cc00"/>
<circle cx="586.80" cy="190.72" r="5.50" fill="#00c000"/>
<text transform="translate(588.40 194.42) scale(0.9300 1)" font-size="9.00" font-weight="bold" stroke="#000" stroke-width="0.05" text-anchor="middle" fill="#000" font-family="'DejaVu Sans','Liberation Sans',sans-serif">+</text>
<circle cx="599.28" cy="190.72" r="5.50" fill="#cc0000"/>
<text transform="translate(599.98 193.22) scale(0.7800 1)" font-size="9.00" font-weight="bold" text-anchor="middle" fill="#400" font-family="'DejaVu Sans','Liberation Sans',sans-serif">−</text>
<circle cx="611.76" cy="190.72" r="5.50" fill="#00c000"/>
<text transform="translate(613.36 194.42) scale(0.9300 1)" font-size="9.00" font-weight="bold" stroke="#000" stroke-width="0.05" text-anchor="middle" fill="#000" font-family="'DejaVu Sans','Liberation Sans',sans-serif">+</text>
<circle cx="624.24" cy="190.72" r="5.50" fill="#00c000"/>
<text transform="translate(625.84 194.42) scale(0.9300 1)" font-size="9.00" font-weight="bold" stroke="#000" stroke-width="0.05" text-anchor="middle" fill="#000" font-family="'DejaVu Sans','Liberation Sans',sans-serif">+</text>
<circle cx="636.72" cy="190.72" r="5.50" fill="#00c000"/>
<text transform="translate(638.32 194.42) scale(0.9300 1)" font-size="9.00" font-weight="bold" stroke="#000" stroke-width="0.05" text-anchor="middle" fill="#000" font-family="'DejaVu Sans','Liberation Sans',sans-serif">+</text>
<circle cx="649.20" cy="190.72" r="5.50" fill="#00c000"/>
<text transform="translate(650.80 194.42) scale(0.9300 1)" font-size="9.00" font-weight="bold" stroke="#000" stroke-width="0.05" text-anchor="middle" fill="#000" font-family="'DejaVu Sans','Liberation Sans',sans-serif">+</text>
<circle cx="661.68" cy="190.72" r="5.50" fill="#e0e000"/>
<text transform="translate(661.18 194.42) scale(0.9300 1)" font-size="9.00" font-weight="bold" stroke="#000" stroke-width="0.05" text-anchor="middle" fill="#000" font-family="'DejaVu Sans','Liberation Sans',sans-serif">?</text>
<text transform="translate(7.80 206.94) scale(0.9972 1)" font-size="9.00" stroke="#000" stroke-width="0.25" fill="#000" font-family="'DejaVu Sans','Liberation Sans',sans-serif">Larmo et al., 2010</text>
<text transform="translate(169.90 206.94) scale(0.9500 1)" font-size="9.00" stroke="#000" stroke-width="0.25" text-anchor="end" fill="#000" font-family="'DejaVu Sans','Liberation Sans',sans-serif">1.2%</text>
<text x="268.30" y="206.94" font-size="9.00" stroke="#000" stroke-width="0.25" text-anchor="end" fill="#000" font-family="'DejaVu Sans','Liberation Sans',sans-serif">0.00 [<tspan font-size="13.50" dy="1.04" stroke-width="0" letter-spacing="0.72">-</tspan><tspan dy="-1.04">2.35, 2.35]</tspan></text>
<line x1="427.19" y1="202.14" x2="513.81" y2="202.14" stroke="#111" stroke-width="1.00"/>
<rect x="469.75" y="202.09" width="1.90" height="1.90" fill="#00cc00"/>
<circle cx="586.80" cy="203.14" r="5.50" fill="#e0e000"/>
<text transform="translate(586.30 206.84) scale(0.9300 1)" font-size="9.00" font-weight="bold" stroke="#000" stroke-width="0.05" text-anchor="middle" fill="#000" font-family="'DejaVu Sans','Liberation Sans',sans-serif">?</text>
<circle cx="599.28" cy="203.14" r="5.50" fill="#00c000"/>
<text transform="translate(600.88 206.84) scale(0.9300 1)" font-size="9.00" font-weight="bold" stroke="#000" stroke-width="0.05" text-anchor="middle" fill="#000" font-family="'DejaVu Sans','Liberation Sans',sans-serif">+</text>
<circle cx="611.76" cy="203.14" r="5.50" fill="#00c000"/>
<text transform="translate(613.36 206.84) scale(0.9300 1)" font-size="9.00" font-weight="bold" stroke="#000" stroke-width="0.05" text-anchor="middle" fill="#000" font-family="'DejaVu Sans','Liberation Sans',sans-serif">+</text>
<circle cx="624.24" cy="203.14" r="5.50" fill="#00c000"/>
<text transform="translate(625.84 206.84) scale(0.9300 1)" font-size="9.00" font-weight="bold" stroke="#000" stroke-width="0.05" text-anchor="middle" fill="#000" font-family="'DejaVu Sans','Liberation Sans',sans-serif">+</text>
<circle cx="636.72" cy="203.14" r="5.50" fill="#00c000"/>
<text transform="translate(638.32 206.84) scale(0.9300 1)" font-size="9.00" font-weight="bold" stroke="#000" stroke-width="0.05" text-anchor="middle" fill="#000" font-family="'DejaVu Sans','Liberation Sans',sans-serif">+</text>
<circle cx="649.20" cy="203.14" r="5.50" fill="#e0e000"/>
<text transform="translate(648.70 206.84) scale(0.9300 1)" font-size="9.00" font-weight="bold" stroke="#000" stroke-width="0.05" text-anchor="middle" fill="#000" font-family="'DejaVu Sans','Liberation Sans',sans-serif">?</text>
<circle cx="661.68" cy="203.14" r="5.50" fill="#e0e000"/>
<text transform="translate(661.18 206.84) scale(0.9300 1)" font-size="9.00" font-weight="bold" stroke="#000" stroke-width="0.05" text-anchor="middle" fill="#000" font-family="'DejaVu Sans','Liberation Sans',sans-serif">?</text>
<text transform="translate(7.80 219.36) scale(0.9953 1)" font-size="9.00" stroke="#000" stroke-width="0.25" fill="#000" font-family="'DejaVu Sans','Liberation Sans',sans-serif">Maguire et al., 2018</text>
<text transform="translate(169.90 219.36) scale(0.9500 1)" font-size="9.00" stroke="#000" stroke-width="0.25" text-anchor="end" fill="#000" font-family="'DejaVu Sans','Liberation Sans',sans-serif">8.4%</text>
<text x="268.30" y="219.36" font-size="9.00" stroke="#000" stroke-width="0.25" text-anchor="end" fill="#000" font-family="'DejaVu Sans','Liberation Sans',sans-serif">0.10 [<tspan font-size="13.50" dy="1.04" stroke-width="0" letter-spacing="0.72">-</tspan><tspan dy="-1.04">0.22, 0.42]</tspan></text>
<line x1="466.45" y1="214.56" x2="478.24" y2="214.56" stroke="#111" stroke-width="1.00"/>
<rect x="471.12" y="214.04" width="2.84" height="2.84" fill="#00cc00"/>
<circle cx="586.80" cy="215.56" r="5.50" fill="#00c000"/>
<text transform="translate(588.40 219.26) scale(0.9300 1)" font-size="9.00" font-weight="bold" stroke="#000" stroke-width="0.05" text-anchor="middle" fill="#000" font-family="'DejaVu Sans','Liberation Sans',sans-serif">+</text>
<circle cx="599.28" cy="215.56" r="5.50" fill="#cc0000"/>
<text transform="translate(599.98 218.06) scale(0.7800 1)" font-size="9.00" font-weight="bold" text-anchor="middle" fill="#400" font-family="'DejaVu Sans','Liberation Sans',sans-serif">−</text>
<circle cx="611.76" cy="215.56" r="5.50" fill="#00c000"/>
<text transform="translate(613.36 219.26) scale(0.9300 1)" font-size="9.00" font-weight="bold" stroke="#000" stroke-width="0.05" text-anchor="middle" fill="#000" font-family="'DejaVu Sans','Liberation Sans',sans-serif">+</text>
<circle cx="624.24" cy="215.56" r="5.50" fill="#00c000"/>
<text transform="translate(625.84 219.26) scale(0.9300 1)" font-size="9.00" font-weight="bold" stroke="#000" stroke-width="0.05" text-anchor="middle" fill="#000" font-family="'DejaVu Sans','Liberation Sans',sans-serif">+</text>
<circle cx="636.72" cy="215.56" r="5.50" fill="#00c000"/>
<text transform="translate(638.32 219.26) scale(0.9300 1)" font-size="9.00" font-weight="bold" stroke="#000" stroke-width="0.05" text-anchor="middle" fill="#000" font-family="'DejaVu Sans','Liberation Sans',sans-serif">+</text>
<circle cx="649.20" cy="215.56" r="5.50" fill="#00c000"/>
<text transform="translate(650.80 219.26) scale(0.9300 1)" font-size="9.00" font-weight="bold" stroke="#000" stroke-width="0.05" text-anchor="middle" fill="#000" font-family="'DejaVu Sans','Liberation Sans',sans-serif">+</text>
<circle cx="661.68" cy="215.56" r="5.50" fill="#00c000"/>
<text transform="translate(663.28 219.26) scale(0.9300 1)" font-size="9.00" font-weight="bold" stroke="#000" stroke-width="0.05" text-anchor="middle" fill="#000" font-family="'DejaVu Sans','Liberation Sans',sans-serif">+</text>
<text transform="translate(7.80 231.78) scale(1.0009 1)" font-size="9.00" stroke="#000" stroke-width="0.25" fill="#000" font-family="'DejaVu Sans','Liberation Sans',sans-serif">Olenik et al., 2013</text>
<text transform="translate(169.90 231.78) scale(0.9500 1)" font-size="9.00" stroke="#000" stroke-width="0.25" text-anchor="end" fill="#000" font-family="'DejaVu Sans','Liberation Sans',sans-serif">3.4%</text>
<text x="268.30" y="231.78" font-size="9.00" stroke="#000" stroke-width="0.25" text-anchor="end" fill="#000" font-family="'DejaVu Sans','Liberation Sans',sans-serif">4.60 [3.43, 5.77]</text>
<line x1="533.71" y1="226.98" x2="573.70" y2="226.98" stroke="#111" stroke-width="1.00"/>
<path d="M574.10 226.98 l-4.20 -3.20 l1.20 3.20 l-1.20 3.20 z" fill="#000"/>
<rect x="554.53" y="226.93" width="1.90" height="1.90" fill="#00cc00"/>
<circle cx="586.80" cy="227.98" r="5.50" fill="#e0e000"/>
<text transform="translate(586.30 231.68) scale(0.9300 1)" font-size="9.00" font-weight="bold" stroke="#000" stroke-width="0.05" text-anchor="middle" fill="#000" font-family="'DejaVu Sans','Liberation Sans',sans-serif">?</text>
<circle cx="599.28" cy="227.98" r="5.50" fill="#00c000"/>
<text transform="translate(600.88 231.68) scale(0.9300 1)" font-size="9.00" font-weight="bold" stroke="#000" stroke-width="0.05" text-anchor="middle" fill="#000" font-family="'DejaVu Sans','Liberation Sans',sans-serif">+</text>
<circle cx="611.76" cy="227.98" r="5.50" fill="#00c000"/>
<text transform="translate(613.36 231.68) scale(0.9300 1)" font-size="9.00" font-weight="bold" stroke="#000" stroke-width="0.05" text-anchor="middle" fill="#000" font-family="'DejaVu Sans','Liberation Sans',sans-serif">+</text>
<circle cx="624.24" cy="227.98" r="5.50" fill="#00c000"/>
<text transform="translate(625.84 231.68) scale(0.9300 1)" font-size="9.00" font-weight="bold" stroke="#000" stroke-width="0.05" text-anchor="middle" fill="#000" font-family="'DejaVu Sans','Liberation Sans',sans-serif">+</text>
<circle cx="636.72" cy="227.98" r="5.50" fill="#00c000"/>
<text transform="translate(638.32 231.68) scale(0.9300 1)" font-size="9.00" font-weight="bold" stroke="#000" stroke-width="0.05" text-anchor="middle" fill="#000" font-family="'DejaVu Sans','Liberation Sans',sans-serif">+</text>
<circle cx="649.20" cy="227.98" r="5.50" fill="#00c000"/>
<text transform="translate(650.80 231.68) scale(0.9300 1)" font-size="9.00" font-weight="bold" stroke="#000" stroke-width="0.05" text-anchor="middle" fill="#000" font-family="'DejaVu Sans','Liberation Sans',sans-serif">+</text>
<circle cx="661.68" cy="227.98" r="5.50" fill="#e0e000"/>
<text transform="translate(661.18 231.68) scale(0.9300 1)" font-size="9.00" font-weight="bold" stroke="#000" stroke-width="0.05" text-anchor="middle" fill="#000" font-family="'DejaVu Sans','Liberation Sans',sans-serif">?</text>
<text transform="translate(7.80 244.20) scale(0.9999 1)" font-size="9.00" stroke="#000" stroke-width="0.25" fill="#000" font-family="'DejaVu Sans','Liberation Sans',sans-serif">Szegedi et al., 2018 T1</text>
<text transform="translate(169.90 244.20) scale(0.9500 1)" font-size="9.00" stroke="#000" stroke-width="0.25" text-anchor="end" fill="#000" font-family="'DejaVu Sans','Liberation Sans',sans-serif">3.8%</text>
<text x="268.30" y="244.20" font-size="9.00" stroke="#000" stroke-width="0.25" text-anchor="end" fill="#000" font-family="'DejaVu Sans','Liberation Sans',sans-serif">0.50 [<tspan font-size="13.50" dy="1.04" stroke-width="0" letter-spacing="0.72">-</tspan><tspan dy="-1.04">0.58, 1.58]</tspan></text>
<line x1="459.81" y1="239.40" x2="499.62" y2="239.40" stroke="#111" stroke-width="1.00"/>
<rect x="478.96" y="239.34" width="1.91" height="1.91" fill="#00cc00"/>
<circle cx="586.80" cy="240.40" r="5.50" fill="#00c000"/>
<text transform="translate(588.40 244.10) scale(0.9300 1)" font-size="9.00" font-weight="bold" stroke="#000" stroke-width="0.05" text-anchor="middle" fill="#000" font-family="'DejaVu Sans','Liberation Sans',sans-serif">+</text>
<circle cx="599.28" cy="240.40" r="5.50" fill="#00c000"/>
<text transform="translate(600.88 244.10) scale(0.9300 1)" font-size="9.00" font-weight="bold" stroke="#000" stroke-width="0.05" text-anchor="middle" fill="#000" font-family="'DejaVu Sans','Liberation Sans',sans-serif">+</text>
<circle cx="611.76" cy="240.40" r="5.50" fill="#00c000"/>
<text transform="translate(613.36 244.10) scale(0.9300 1)" font-size="9.00" font-weight="bold" stroke="#000" stroke-width="0.05" text-anchor="middle" fill="#000" font-family="'DejaVu Sans','Liberation Sans',sans-serif">+</text>
<circle cx="624.24" cy="240.40" r="5.50" fill="#cc0000"/>
<text transform="translate(624.94 242.90) scale(0.7800 1)" font-size="9.00" font-weight="bold" text-anchor="middle" fill="#400" font-family="'DejaVu Sans','Liberation Sans',sans-serif">−</text>
<circle cx="636.72" cy="240.40" r="5.50" fill="#e0e000"/>
<text transform="translate(636.22 244.10) scale(0.9300 1)" font-size="9.00" font-weight="bold" stroke="#000" stroke-width="0.05" text-anchor="middle" fill="#000" font-family="'DejaVu Sans','Liberation Sans',sans-serif">?</text>
<circle cx="649.20" cy="240.40" r="5.50" fill="#00c000"/>
<text transform="translate(650.80 244.10) scale(0.9300 1)" font-size="9.00" font-weight="bold" stroke="#000" stroke-width="0.05" text-anchor="middle" fill="#000" font-family="'DejaVu Sans','Liberation Sans',sans-serif">+</text>
<circle cx="661.68" cy="240.40" r="5.50" fill="#00c000"/>
<text transform="translate(663.28 244.10) scale(0.9300 1)" font-size="9.00" font-weight="bold" stroke="#000" stroke-width="0.05" text-anchor="middle" fill="#000" font-family="'DejaVu Sans','Liberation Sans',sans-serif">+</text>
<text transform="translate(7.80 256.62) scale(0.9999 1)" font-size="9.00" stroke="#000" stroke-width="0.25" fill="#000" font-family="'DejaVu Sans','Liberation Sans',sans-serif">Szegedi et al., 2018 T2</text>
<text transform="translate(169.90 256.62) scale(0.9500 1)" font-size="9.00" stroke="#000" stroke-width="0.25" text-anchor="end" fill="#000" font-family="'DejaVu Sans','Liberation Sans',sans-serif">3.5%</text>
<text x="268.30" y="256.62" font-size="9.00" stroke="#000" stroke-width="0.25" text-anchor="end" fill="#000" font-family="'DejaVu Sans','Liberation Sans',sans-serif">0.10 [<tspan font-size="13.50" dy="1.04" stroke-width="0" letter-spacing="0.72">-</tspan><tspan dy="-1.04">1.06, 1.26]</tspan></text>
<line x1="450.96" y1="251.82" x2="493.72" y2="251.82" stroke="#111" stroke-width="1.00"/>
<rect x="471.59" y="251.77" width="1.90" height="1.90" fill="#00cc00"/>
<circle cx="586.80" cy="252.82" r="5.50" fill="#00c000"/>
<text transform="translate(588.40 256.52) scale(0.9300 1)" font-size="9.00" font-weight="bold" stroke="#000" stroke-width="0.05" text-anchor="middle" fill="#000" font-family="'DejaVu Sans','Liberation Sans',sans-serif">+</text>
<circle cx="599.28" cy="252.82" r="5.50" fill="#00c000"/>
<text transform="translate(600.88 256.52) scale(0.9300 1)" font-size="9.00" font-weight="bold" stroke="#000" stroke-width="0.05" text-anchor="middle" fill="#000" font-family="'DejaVu Sans','Liberation Sans',sans-serif">+</text>
<circle cx="611.76" cy="252.82" r="5.50" fill="#00c000"/>
<text transform="translate(613.36 256.52) scale(0.9300 1)" font-size="9.00" font-weight="bold" stroke="#000" stroke-width="0.05" text-anchor="middle" fill="#000" font-family="'DejaVu Sans','Liberation Sans',sans-serif">+</text>
<circle cx="624.24" cy="252.82" r="5.50" fill="#cc0000"/>
<text transform="translate(624.94 255.32) scale(0.7800 1)" font-size="9.00" font-weight="bold" text-anchor="middle" fill="#400" font-family="'DejaVu Sans','Liberation Sans',sans-serif">−</text>
<circle cx="636.72" cy="252.82" r="5.50" fill="#e0e000"/>
<text transform="translate(636.22 256.52) scale(0.9300 1)" font-size="9.00" font-weight="bold" stroke="#000" stroke-width="0.05" text-anchor="middle" fill="#000" font-family="'DejaVu Sans','Liberation Sans',sans-serif">?</text>
<circle cx="649.20" cy="252.82" r="5.50" fill="#00c000"/>
<text transform="translate(650.80 256.52) scale(0.9300 1)" font-size="9.00" font-weight="bold" stroke="#000" stroke-width="0.05" text-anchor="middle" fill="#000" font-family="'DejaVu Sans','Liberation Sans',sans-serif">+</text>
<circle cx="661.68" cy="252.82" r="5.50" fill="#00c000"/>
<text transform="translate(663.28 256.52) scale(0.9300 1)" font-size="9.00" font-weight="bold" stroke="#000" stroke-width="0.05" text-anchor="middle" fill="#000" font-family="'DejaVu Sans','Liberation Sans',sans-serif">+</text>
<text transform="translate(7.80 269.04) scale(0.9991 1)" font-size="9.00" stroke="#000" stroke-width="0.25" fill="#000" font-family="'DejaVu Sans','Liberation Sans',sans-serif">Villani et al., 2011</text>
<text transform="translate(169.90 269.04) scale(0.9500 1)" font-size="9.00" stroke="#000" stroke-width="0.25" text-anchor="end" fill="#000" font-family="'DejaVu Sans','Liberation Sans',sans-serif">3.8%</text>
<text x="268.30" y="269.04" font-size="9.00" stroke="#000" stroke-width="0.25" text-anchor="end" fill="#000" font-family="'DejaVu Sans','Liberation Sans',sans-serif">0.57 [<tspan font-size="13.50" dy="1.04" stroke-width="0" letter-spacing="0.72">-</tspan><tspan dy="-1.04">0.51, 1.65]</tspan></text>
<line x1="461.10" y1="264.24" x2="500.91" y2="264.24" stroke="#111" stroke-width="1.00"/>
<rect x="480.25" y="264.18" width="1.91" height="1.91" fill="#00cc00"/>
<circle cx="586.80" cy="265.24" r="5.50" fill="#e0e000"/>
<text transform="translate(586.30 268.94) scale(0.9300 1)" font-size="9.00" font-weight="bold" stroke="#000" stroke-width="0.05" text-anchor="middle" fill="#000" font-family="'DejaVu Sans','Liberation Sans',sans-serif">?</text>
<circle cx="599.28" cy="265.24" r="5.50" fill="#00c000"/>
<text transform="translate(600.88 268.94) scale(0.9300 1)" font-size="9.00" font-weight="bold" stroke="#000" stroke-width="0.05" text-anchor="middle" fill="#000" font-family="'DejaVu Sans','Liberation Sans',sans-serif">+</text>
<circle cx="611.76" cy="265.24" r="5.50" fill="#00c000"/>
<text transform="translate(613.36 268.94) scale(0.9300 1)" font-size="9.00" font-weight="bold" stroke="#000" stroke-width="0.05" text-anchor="middle" fill="#000" font-family="'DejaVu Sans','Liberation Sans',sans-serif">+</text>
<circle cx="624.24" cy="265.24" r="5.50" fill="#00c000"/>
<text transform="translate(625.84 268.94) scale(0.9300 1)" font-size="9.00" font-weight="bold" stroke="#000" stroke-width="0.05" text-anchor="middle" fill="#000" font-family="'DejaVu Sans','Liberation Sans',sans-serif">+</text>
<circle cx="636.72" cy="265.24" r="5.50" fill="#00c000"/>
<text transform="translate(638.32 268.94) scale(0.9300 1)" font-size="9.00" font-weight="bold" stroke="#000" stroke-width="0.05" text-anchor="middle" fill="#000" font-family="'DejaVu Sans','Liberation Sans',sans-serif">+</text>
<circle cx="649.20" cy="265.24" r="5.50" fill="#00c000"/>
<text transform="translate(650.80 268.94) scale(0.9300 1)" font-size="9.00" font-weight="bold" stroke="#000" stroke-width="0.05" text-anchor="middle" fill="#000" font-family="'DejaVu Sans','Liberation Sans',sans-serif">+</text>
<circle cx="661.68" cy="265.24" r="5.50" fill="#00c000"/>
<text transform="translate(663.28 268.94) scale(0.9300 1)" font-size="9.00" font-weight="bold" stroke="#000" stroke-width="0.05" text-anchor="middle" fill="#000" font-family="'DejaVu Sans','Liberation Sans',sans-serif">+</text>
<text transform="translate(7.80 292.10) scale(0.9630 1)" font-size="9.00" font-weight="bold" stroke="#000" stroke-width="0.15" fill="#000" font-family="'DejaVu Sans','Liberation Sans',sans-serif">Total (95% CI)</text>
<text transform="translate(169.50 292.10) scale(0.9300 1)" font-size="9.00" font-weight="bold" stroke="#000" stroke-width="0.15" text-anchor="end" fill="#000" font-family="'DejaVu Sans','Liberation Sans',sans-serif">100.0%</text>
<text transform="translate(268.30 292.10) scale(0.9300 1)" font-size="9.00" font-weight="bold" stroke="#000" stroke-width="0.15" text-anchor="end" fill="#000" font-family="'DejaVu Sans','Liberation Sans',sans-serif">0.82 [0.55, 1.09]</text>
<text transform="translate(7.80 306.40) scale(1.0060 1)" font-size="9.00" stroke="#000" stroke-width="0.25" fill="#000" font-family="'DejaVu Sans','Liberation Sans',sans-serif">Heterogeneity: Tau<tspan dy="-3.70" font-size="6.48">2</tspan><tspan dy="3.70" font-size="6.48">​</tspan> = 0.21; Chi<tspan dy="-3.70" font-size="6.48">2</tspan><tspan dy="3.70" font-size="6.48">​</tspan> = 438.39, df = 17 (P &lt; 0.00001); I<tspan dy="-3.70" font-size="6.48">2</tspan><tspan dy="3.70" font-size="6.48">​</tspan> = 96%</text>
<text transform="translate(7.80 318.70) scale(1.0100 1)" font-size="9.00" stroke="#000" stroke-width="0.25" fill="#000" font-family="'DejaVu Sans','Liberation Sans',sans-serif">Test for overall effect: Z = 5.88 (P &lt; 0.00001)</text>
<line x1="367.20" y1="301.50" x2="573.70" y2="301.50" stroke="#000" stroke-width="1.00"/>
<line x1="396.78" y1="298.80" x2="396.78" y2="304.20" stroke="#000" stroke-width="1.00"/>
<text transform="translate(396.78 312.50) scale(0.9850 1)" font-size="9.00" stroke="#000" stroke-width="0.25" text-anchor="middle" fill="#000" font-family="'DejaVu Sans','Liberation Sans',sans-serif"><tspan font-size="13.50" dy="1.04" stroke-width="0" letter-spacing="0.72">-</tspan><tspan dy="-1.04">4</tspan></text>
<line x1="433.64" y1="298.80" x2="433.64" y2="304.20" stroke="#000" stroke-width="1.00"/>
<text transform="translate(433.64 312.50) scale(0.9850 1)" font-size="9.00" stroke="#000" stroke-width="0.25" text-anchor="middle" fill="#000" font-family="'DejaVu Sans','Liberation Sans',sans-serif"><tspan font-size="13.50" dy="1.04" stroke-width="0" letter-spacing="0.72">-</tspan><tspan dy="-1.04">2</tspan></text>
<line x1="470.50" y1="298.80" x2="470.50" y2="304.20" stroke="#000" stroke-width="1.00"/>
<text transform="translate(470.50 312.50) scale(0.9850 1)" font-size="9.00" stroke="#000" stroke-width="0.25" text-anchor="middle" fill="#000" font-family="'DejaVu Sans','Liberation Sans',sans-serif">0</text>
<line x1="507.36" y1="298.80" x2="507.36" y2="304.20" stroke="#000" stroke-width="1.00"/>
<text transform="translate(507.36 312.50) scale(0.9850 1)" font-size="9.00" stroke="#000" stroke-width="0.25" text-anchor="middle" fill="#000" font-family="'DejaVu Sans','Liberation Sans',sans-serif">2</text>
<line x1="544.22" y1="298.80" x2="544.22" y2="304.20" stroke="#000" stroke-width="1.00"/>
<text transform="translate(544.22 312.50) scale(0.9850 1)" font-size="9.00" stroke="#000" stroke-width="0.25" text-anchor="middle" fill="#000" font-family="'DejaVu Sans','Liberation Sans',sans-serif">4</text>
<text x="466.80" y="323.10" font-size="9.00" stroke="#000" stroke-width="0.25" text-anchor="end" fill="#000" font-family="'DejaVu Sans','Liberation Sans',sans-serif">Favours placebo</text>
<text transform="translate(475.10 323.10) scale(0.9750 1)" font-size="9.00" stroke="#000" stroke-width="0.25" fill="#000" font-family="'DejaVu Sans','Liberation Sans',sans-serif">Favours active treatment</text>
<path d="M480.64 289.20 L485.61 283.90 L490.59 289.20 L485.61 294.50 Z" fill="#000"/>
<text transform="translate(7.80 343.50) scale(0.9960 1)" font-size="9.00" stroke="#000" stroke-width="0.25" fill="#000" font-family="'DejaVu Sans','Liberation Sans',sans-serif">Risk of bias legend</text>
<line x1="8.00" y1="345.25" x2="93.70" y2="345.25" stroke="#000" stroke-width="0.85"/>
<text x="7.80" y="356.30" font-size="9.00" stroke="#000" stroke-width="0.25" fill="#000" font-family="'DejaVu Sans','Liberation Sans',sans-serif">(<tspan font-weight="bold" letter-spacing="-0.55">A</tspan>) Random sequence generation (selection bias)</text>
<text x="7.80" y="368.73" font-size="9.00" stroke="#000" stroke-width="0.25" fill="#000" font-family="'DejaVu Sans','Liberation Sans',sans-serif">(<tspan font-weight="bold" letter-spacing="-0.55">B</tspan>) Allocation concealment (selection bias)</text>
<text x="7.80" y="381.16" font-size="9.00" stroke="#000" stroke-width="0.25" fill="#000" font-family="'DejaVu Sans','Liberation Sans',sans-serif">(<tspan font-weight="bold" letter-spacing="-0.55">C</tspan>) Blinding of participants and personnel (performance bias)</text>
<text x="7.80" y="393.59" font-size="9.00" stroke="#000" stroke-width="0.25" fill="#000" font-family="'DejaVu Sans','Liberation Sans',sans-serif">(<tspan font-weight="bold" letter-spacing="-0.55">D</tspan>) Blinding of outcome assessment (detection bias)</text>
<text x="7.80" y="406.02" font-size="9.00" stroke="#000" stroke-width="0.25" fill="#000" font-family="'DejaVu Sans','Liberation Sans',sans-serif">(<tspan font-weight="bold" letter-spacing="-0.55">E</tspan>) Incomplete outcome data (attrition bias)</text>
<text x="7.80" y="418.45" font-size="9.00" stroke="#000" stroke-width="0.25" fill="#000" font-family="'DejaVu Sans','Liberation Sans',sans-serif">(<tspan font-weight="bold" letter-spacing="-0.55">F</tspan>) Selective reporting (reporting bias)</text>
<text x="7.80" y="430.88" font-size="9.00" stroke="#000" stroke-width="0.25" fill="#000" font-family="'DejaVu Sans','Liberation Sans',sans-serif">(<tspan font-weight="bold" letter-spacing="-0.55">G</tspan>) Other bias</text>
<text transform="translate(342.80 480.20) scale(0.9850 1)" font-size="21.20" text-anchor="middle" fill="#000" font-family="'Liberation Sans',sans-serif">Schirmer I test (SIT)</text>
<line x1="0.00" y1="513.30" x2="685.00" y2="513.30" stroke="#000" stroke-width="1.30"/>
<text transform="translate(7.80 509.70) scale(0.9300 1)" font-size="9.08" font-weight="bold" stroke="#000" stroke-width="0.15" fill="#000" font-family="'DejaVu Sans','Liberation Sans',sans-serif">Study or Subgroup</text>
<text transform="translate(170.50 509.70) scale(0.9300 1)" font-size="9.08" font-weight="bold" stroke="#000" stroke-width="0.15" text-anchor="end" fill="#000" font-family="'DejaVu Sans','Liberation Sans',sans-serif">Weight</text>
<text transform="translate(270.40 509.70) scale(0.9300 1)" font-size="9.08" font-weight="bold" stroke="#000" stroke-width="0.15" text-anchor="end" fill="#000" font-family="'DejaVu Sans','Liberation Sans',sans-serif">IV, Random, 95% CI</text>
<text transform="translate(220.80 497.19) scale(0.9300 1)" font-size="9.08" font-weight="bold" stroke="#000" stroke-width="0.15" text-anchor="middle" fill="#000" font-family="'DejaVu Sans','Liberation Sans',sans-serif">Mean Difference</text>
<text transform="translate(468.40 497.19) scale(0.9300 1)" font-size="9.08" font-weight="bold" stroke="#000" stroke-width="0.15" text-anchor="middle" fill="#000" font-family="'DejaVu Sans','Liberation Sans',sans-serif">Mean Difference</text>
<text transform="translate(468.40 509.70) scale(0.9300 1)" font-size="9.08" font-weight="bold" stroke="#000" stroke-width="0.15" text-anchor="middle" fill="#000" font-family="'DejaVu Sans','Liberation Sans',sans-serif">IV, Random, 95% CI</text>
<text transform="translate(627.40 497.19) scale(0.9300 1)" font-size="9.08" font-weight="bold" stroke="#000" stroke-width="0.15" text-anchor="middle" fill="#000" font-family="'DejaVu Sans','Liberation Sans',sans-serif">Risk of Bias</text>
<text transform="translate(586.71 509.70) scale(0.9300 1)" font-size="9.08" font-weight="bold" stroke="#000" stroke-width="0.15" text-anchor="middle" fill="#000" font-family="'DejaVu Sans','Liberation Sans',sans-serif">A</text>
<text transform="translate(599.31 509.70) scale(0.9300 1)" font-size="9.08" font-weight="bold" stroke="#000" stroke-width="0.15" text-anchor="middle" fill="#000" font-family="'DejaVu Sans','Liberation Sans',sans-serif">B</text>
<text transform="translate(611.91 509.70) scale(0.9300 1)" font-size="9.08" font-weight="bold" stroke="#000" stroke-width="0.15" text-anchor="middle" fill="#000" font-family="'DejaVu Sans','Liberation Sans',sans-serif">C</text>
<text transform="translate(624.51 509.70) scale(0.9300 1)" font-size="9.08" font-weight="bold" stroke="#000" stroke-width="0.15" text-anchor="middle" fill="#000" font-family="'DejaVu Sans','Liberation Sans',sans-serif">D</text>
<text transform="translate(637.11 509.70) scale(0.9300 1)" font-size="9.08" font-weight="bold" stroke="#000" stroke-width="0.15" text-anchor="middle" fill="#000" font-family="'DejaVu Sans','Liberation Sans',sans-serif">E</text>
<text transform="translate(649.71 509.70) scale(0.9300 1)" font-size="9.08" font-weight="bold" stroke="#000" stroke-width="0.15" text-anchor="middle" fill="#000" font-family="'DejaVu Sans','Liberation Sans',sans-serif">F</text>
<text transform="translate(662.31 509.70) scale(0.9300 1)" font-size="9.08" font-weight="bold" stroke="#000" stroke-width="0.15" text-anchor="middle" fill="#000" font-family="'DejaVu Sans','Liberation Sans',sans-serif">G</text>
<line x1="468.40" y1="513.30" x2="468.40" y2="772.83" stroke="#000" stroke-width="1.16"/>
<text transform="translate(7.80 523.90) scale(0.9827 1)" font-size="9.08" stroke="#000" stroke-width="0.25" fill="#000" font-family="'DejaVu Sans','Liberation Sans',sans-serif">Baek et al., 2016</text>
<text transform="translate(171.60 523.90) scale(0.9500 1)" font-size="9.08" stroke="#000" stroke-width="0.25" text-anchor="end" fill="#000" font-family="'DejaVu Sans','Liberation Sans',sans-serif">0.4%</text>
<text x="270.40" y="523.90" font-size="9.08" stroke="#000" stroke-width="0.25" text-anchor="end" fill="#000" font-family="'DejaVu Sans','Liberation Sans',sans-serif">1.50 [<tspan font-size="13.62" dy="1.04" stroke-width="0" letter-spacing="0.73">-</tspan><tspan dy="-1.04">1.62, 4.62]</tspan></text>
<line x1="453.12" y1="519.06" x2="511.97" y2="519.06" stroke="#111" stroke-width="1.01"/>
<rect x="481.79" y="519.01" width="1.92" height="1.92" fill="#00cc00"/>
<circle cx="585.90" cy="520.07" r="5.55" fill="#00c000"/>
<text transform="translate(587.51 523.80) scale(0.9300 1)" font-size="9.08" font-weight="bold" stroke="#000" stroke-width="0.05" text-anchor="middle" fill="#000" font-family="'DejaVu Sans','Liberation Sans',sans-serif">+</text>
<circle cx="598.50" cy="520.07" r="5.55" fill="#00c000"/>
<text transform="translate(600.11 523.80) scale(0.9300 1)" font-size="9.08" font-weight="bold" stroke="#000" stroke-width="0.05" text-anchor="middle" fill="#000" font-family="'DejaVu Sans','Liberation Sans',sans-serif">+</text>
<circle cx="611.10" cy="520.07" r="5.55" fill="#e0e000"/>
<text transform="translate(610.60 523.80) scale(0.9300 1)" font-size="9.08" font-weight="bold" stroke="#000" stroke-width="0.05" text-anchor="middle" fill="#000" font-family="'DejaVu Sans','Liberation Sans',sans-serif">?</text>
<circle cx="623.70" cy="520.07" r="5.55" fill="#e0e000"/>
<text transform="translate(623.20 523.80) scale(0.9300 1)" font-size="9.08" font-weight="bold" stroke="#000" stroke-width="0.05" text-anchor="middle" fill="#000" font-family="'DejaVu Sans','Liberation Sans',sans-serif">?</text>
<circle cx="636.30" cy="520.07" r="5.55" fill="#e0e000"/>
<text transform="translate(635.80 523.80) scale(0.9300 1)" font-size="9.08" font-weight="bold" stroke="#000" stroke-width="0.05" text-anchor="middle" fill="#000" font-family="'DejaVu Sans','Liberation Sans',sans-serif">?</text>
<circle cx="648.90" cy="520.07" r="5.55" fill="#00c000"/>
<text transform="translate(650.51 523.80) scale(0.9300 1)" font-size="9.08" font-weight="bold" stroke="#000" stroke-width="0.05" text-anchor="middle" fill="#000" font-family="'DejaVu Sans','Liberation Sans',sans-serif">+</text>
<circle cx="661.50" cy="520.07" r="5.55" fill="#00c000"/>
<text transform="translate(663.11 523.80) scale(0.9300 1)" font-size="9.08" font-weight="bold" stroke="#000" stroke-width="0.05" text-anchor="middle" fill="#000" font-family="'DejaVu Sans','Liberation Sans',sans-serif">+</text>
<text transform="translate(7.80 536.45) scale(0.9744 1)" font-size="9.08" stroke="#000" stroke-width="0.25" fill="#000" font-family="'DejaVu Sans','Liberation Sans',sans-serif">Bhargava et al., 2015</text>
<text transform="translate(171.60 536.45) scale(0.9500 1)" font-size="9.08" stroke="#000" stroke-width="0.25" text-anchor="end" fill="#000" font-family="'DejaVu Sans','Liberation Sans',sans-serif">5.3%</text>
<text x="270.40" y="536.45" font-size="9.08" stroke="#000" stroke-width="0.25" text-anchor="end" fill="#000" font-family="'DejaVu Sans','Liberation Sans',sans-serif">2.60 [1.82, 3.38]</text>
<line x1="485.56" y1="531.61" x2="500.27" y2="531.61" stroke="#111" stroke-width="1.01"/>
<rect x="491.98" y="531.38" width="2.28" height="2.28" fill="#00cc00"/>
<circle cx="585.90" cy="532.62" r="5.55" fill="#00c000"/>
<text transform="translate(587.51 536.35) scale(0.9300 1)" font-size="9.08" font-weight="bold" stroke="#000" stroke-width="0.05" text-anchor="middle" fill="#000" font-family="'DejaVu Sans','Liberation Sans',sans-serif">+</text>
<circle cx="598.50" cy="532.62" r="5.55" fill="#00c000"/>
<text transform="translate(600.11 536.35) scale(0.9300 1)" font-size="9.08" font-weight="bold" stroke="#000" stroke-width="0.05" text-anchor="middle" fill="#000" font-family="'DejaVu Sans','Liberation Sans',sans-serif">+</text>
<circle cx="611.10" cy="532.62" r="5.55" fill="#00c000"/>
<text transform="translate(612.71 536.35) scale(0.9300 1)" font-size="9.08" font-weight="bold" stroke="#000" stroke-width="0.05" text-anchor="middle" fill="#000" font-family="'DejaVu Sans','Liberation Sans',sans-serif">+</text>
<circle cx="623.70" cy="532.62" r="5.55" fill="#00c000"/>
<text transform="translate(625.31 536.35) scale(0.9300 1)" font-size="9.08" font-weight="bold" stroke="#000" stroke-width="0.05" text-anchor="middle" fill="#000" font-family="'DejaVu Sans','Liberation Sans',sans-serif">+</text>
<circle cx="636.30" cy="532.62" r="5.55" fill="#00c000"/>
<text transform="translate(637.91 536.35) scale(0.9300 1)" font-size="9.08" font-weight="bold" stroke="#000" stroke-width="0.05" text-anchor="middle" fill="#000" font-family="'DejaVu Sans','Liberation Sans',sans-serif">+</text>
<circle cx="648.90" cy="532.62" r="5.55" fill="#00c000"/>
<text transform="translate(650.51 536.35) scale(0.9300 1)" font-size="9.08" font-weight="bold" stroke="#000" stroke-width="0.05" text-anchor="middle" fill="#000" font-family="'DejaVu Sans','Liberation Sans',sans-serif">+</text>
<circle cx="661.50" cy="532.62" r="5.55" fill="#00c000"/>
<text transform="translate(663.11 536.35) scale(0.9300 1)" font-size="9.08" font-weight="bold" stroke="#000" stroke-width="0.05" text-anchor="middle" fill="#000" font-family="'DejaVu Sans','Liberation Sans',sans-serif">+</text>
<text transform="translate(7.80 549.00) scale(0.9744 1)" font-size="9.08" stroke="#000" stroke-width="0.25" fill="#000" font-family="'DejaVu Sans','Liberation Sans',sans-serif">Bhargava et al., 2016</text>
<text transform="translate(171.60 549.00) scale(0.9500 1)" font-size="9.08" stroke="#000" stroke-width="0.25" text-anchor="end" fill="#000" font-family="'DejaVu Sans','Liberation Sans',sans-serif">3.0%</text>
<text x="270.40" y="549.00" font-size="9.08" stroke="#000" stroke-width="0.25" text-anchor="end" fill="#000" font-family="'DejaVu Sans','Liberation Sans',sans-serif">0.20 [<tspan font-size="13.62" dy="1.04" stroke-width="0" letter-spacing="0.73">-</tspan><tspan dy="-1.04">0.90, 1.30]</tspan></text>
<line x1="459.91" y1="544.16" x2="480.66" y2="544.16" stroke="#111" stroke-width="1.01"/>
<rect x="469.53" y="544.11" width="1.92" height="1.92" fill="#00cc00"/>
<circle cx="585.90" cy="545.17" r="5.55" fill="#00c000"/>
<text transform="translate(587.51 548.90) scale(0.9300 1)" font-size="9.08" font-weight="bold" stroke="#000" stroke-width="0.05" text-anchor="middle" fill="#000" font-family="'DejaVu Sans','Liberation Sans',sans-serif">+</text>
<circle cx="598.50" cy="545.17" r="5.55" fill="#00c000"/>
<text transform="translate(600.11 548.90) scale(0.9300 1)" font-size="9.08" font-weight="bold" stroke="#000" stroke-width="0.05" text-anchor="middle" fill="#000" font-family="'DejaVu Sans','Liberation Sans',sans-serif">+</text>
<circle cx="611.10" cy="545.17" r="5.55" fill="#00c000"/>
<text transform="translate(612.71 548.90) scale(0.9300 1)" font-size="9.08" font-weight="bold" stroke="#000" stroke-width="0.05" text-anchor="middle" fill="#000" font-family="'DejaVu Sans','Liberation Sans',sans-serif">+</text>
<circle cx="623.70" cy="545.17" r="5.55" fill="#00c000"/>
<text transform="translate(625.31 548.90) scale(0.9300 1)" font-size="9.08" font-weight="bold" stroke="#000" stroke-width="0.05" text-anchor="middle" fill="#000" font-family="'DejaVu Sans','Liberation Sans',sans-serif">+</text>
<circle cx="636.30" cy="545.17" r="5.55" fill="#e0e000"/>
<text transform="translate(635.80 548.90) scale(0.9300 1)" font-size="9.08" font-weight="bold" stroke="#000" stroke-width="0.05" text-anchor="middle" fill="#000" font-family="'DejaVu Sans','Liberation Sans',sans-serif">?</text>
<circle cx="648.90" cy="545.17" r="5.55" fill="#e0e000"/>
<text transform="translate(648.40 548.90) scale(0.9300 1)" font-size="9.08" font-weight="bold" stroke="#000" stroke-width="0.05" text-anchor="middle" fill="#000" font-family="'DejaVu Sans','Liberation Sans',sans-serif">?</text>
<circle cx="661.50" cy="545.17" r="5.55" fill="#cc0000"/>
<text transform="translate(662.21 547.69) scale(0.7800 1)" font-size="9.08" font-weight="bold" text-anchor="middle" fill="#400" font-family="'DejaVu Sans','Liberation Sans',sans-serif">−</text>
<text transform="translate(7.80 561.55) scale(0.9834 1)" font-size="9.08" stroke="#000" stroke-width="0.25" fill="#000" font-family="'DejaVu Sans','Liberation Sans',sans-serif">Bhargava et al., 2016b</text>
<text transform="translate(171.60 561.55) scale(0.9500 1)" font-size="9.08" stroke="#000" stroke-width="0.25" text-anchor="end" fill="#000" font-family="'DejaVu Sans','Liberation Sans',sans-serif">1.5%</text>
<text x="270.40" y="561.55" font-size="9.08" stroke="#000" stroke-width="0.25" text-anchor="end" fill="#000" font-family="'DejaVu Sans','Liberation Sans',sans-serif">2.20 [0.55, 3.85]</text>
<line x1="473.59" y1="556.71" x2="504.71" y2="556.71" stroke="#111" stroke-width="1.01"/>
<rect x="488.39" y="556.66" width="1.92" height="1.92" fill="#00cc00"/>
<circle cx="585.90" cy="557.72" r="5.55" fill="#e0e000"/>
<text transform="translate(585.40 561.45) scale(0.9300 1)" font-size="9.08" font-weight="bold" stroke="#000" stroke-width="0.05" text-anchor="middle" fill="#000" font-family="'DejaVu Sans','Liberation Sans',sans-serif">?</text>
<circle cx="598.50" cy="557.72" r="5.55" fill="#00c000"/>
<text transform="translate(600.11 561.45) scale(0.9300 1)" font-size="9.08" font-weight="bold" stroke="#000" stroke-width="0.05" text-anchor="middle" fill="#000" font-family="'DejaVu Sans','Liberation Sans',sans-serif">+</text>
<circle cx="611.10" cy="557.72" r="5.55" fill="#cc0000"/>
<text transform="translate(611.81 560.24) scale(0.7800 1)" font-size="9.08" font-weight="bold" text-anchor="middle" fill="#400" font-family="'DejaVu Sans','Liberation Sans',sans-serif">−</text>
<circle cx="623.70" cy="557.72" r="5.55" fill="#cc0000"/>
<text transform="translate(624.41 560.24) scale(0.7800 1)" font-size="9.08" font-weight="bold" text-anchor="middle" fill="#400" font-family="'DejaVu Sans','Liberation Sans',sans-serif">−</text>
<circle cx="636.30" cy="557.72" r="5.55" fill="#00c000"/>
<text transform="translate(637.91 561.45) scale(0.9300 1)" font-size="9.08" font-weight="bold" stroke="#000" stroke-width="0.05" text-anchor="middle" fill="#000" font-family="'DejaVu Sans','Liberation Sans',sans-serif">+</text>
<circle cx="648.90" cy="557.72" r="5.55" fill="#00c000"/>
<text transform="translate(650.51 561.45) scale(0.9300 1)" font-size="9.08" font-weight="bold" stroke="#000" stroke-width="0.05" text-anchor="middle" fill="#000" font-family="'DejaVu Sans','Liberation Sans',sans-serif">+</text>
<circle cx="661.50" cy="557.72" r="5.55" fill="#00c000"/>
<text transform="translate(663.11 561.45) scale(0.9300 1)" font-size="9.08" font-weight="bold" stroke="#000" stroke-width="0.05" text-anchor="middle" fill="#000" font-family="'DejaVu Sans','Liberation Sans',sans-serif">+</text>
<text transform="translate(7.80 574.10) scale(0.9933 1)" font-size="9.08" stroke="#000" stroke-width="0.25" fill="#000" font-family="'DejaVu Sans','Liberation Sans',sans-serif">Brzheskiy et al., 2015</text>
<text transform="translate(171.60 574.10) scale(0.9500 1)" font-size="9.08" stroke="#000" stroke-width="0.25" text-anchor="end" fill="#000" font-family="'DejaVu Sans','Liberation Sans',sans-serif">20.9%</text>
<text x="270.40" y="574.10" font-size="9.08" stroke="#000" stroke-width="0.25" text-anchor="end" fill="#000" font-family="'DejaVu Sans','Liberation Sans',sans-serif">0.50 [0.39, 0.61]</text>
<line x1="472.08" y1="569.26" x2="474.15" y2="569.26" stroke="#111" stroke-width="1.01"/>
<rect x="471.05" y="567.90" width="4.52" height="4.52" fill="#00cc00"/>
<circle cx="585.90" cy="570.27" r="5.55" fill="#00c000"/>
<text transform="translate(587.51 574.00) scale(0.9300 1)" font-size="9.08" font-weight="bold" stroke="#000" stroke-width="0.05" text-anchor="middle" fill="#000" font-family="'DejaVu Sans','Liberation Sans',sans-serif">+</text>
<circle cx="598.50" cy="570.27" r="5.55" fill="#00c000"/>
<text transform="translate(600.11 574.00) scale(0.9300 1)" font-size="9.08" font-weight="bold" stroke="#000" stroke-width="0.05" text-anchor="middle" fill="#000" font-family="'DejaVu Sans','Liberation Sans',sans-serif">+</text>
<circle cx="611.10" cy="570.27" r="5.55" fill="#00c000"/>
<text transform="translate(612.71 574.00) scale(0.9300 1)" font-size="9.08" font-weight="bold" stroke="#000" stroke-width="0.05" text-anchor="middle" fill="#000" font-family="'DejaVu Sans','Liberation Sans',sans-serif">+</text>
<circle cx="623.70" cy="570.27" r="5.55" fill="#00c000"/>
<text transform="translate(625.31 574.00) scale(0.9300 1)" font-size="9.08" font-weight="bold" stroke="#000" stroke-width="0.05" text-anchor="middle" fill="#000" font-family="'DejaVu Sans','Liberation Sans',sans-serif">+</text>
<circle cx="636.30" cy="570.27" r="5.55" fill="#00c000"/>
<text transform="translate(637.91 574.00) scale(0.9300 1)" font-size="9.08" font-weight="bold" stroke="#000" stroke-width="0.05" text-anchor="middle" fill="#000" font-family="'DejaVu Sans','Liberation Sans',sans-serif">+</text>
<circle cx="648.90" cy="570.27" r="5.55" fill="#00c000"/>
<text transform="translate(650.51 574.00) scale(0.9300 1)" font-size="9.08" font-weight="bold" stroke="#000" stroke-width="0.05" text-anchor="middle" fill="#000" font-family="'DejaVu Sans','Liberation Sans',sans-serif">+</text>
<circle cx="661.50" cy="570.27" r="5.55" fill="#00c000"/>
<text transform="translate(663.11 574.00) scale(0.9300 1)" font-size="9.08" font-weight="bold" stroke="#000" stroke-width="0.05" text-anchor="middle" fill="#000" font-family="'DejaVu Sans','Liberation Sans',sans-serif">+</text>
<text transform="translate(7.80 586.65) scale(1.0110 1)" font-size="9.08" stroke="#000" stroke-width="0.25" fill="#000" font-family="'DejaVu Sans','Liberation Sans',sans-serif">Choi et al., 2019</text>
<text transform="translate(171.60 586.65) scale(0.9500 1)" font-size="9.08" stroke="#000" stroke-width="0.25" text-anchor="end" fill="#000" font-family="'DejaVu Sans','Liberation Sans',sans-serif">16.1%</text>
<text x="270.40" y="586.65" font-size="9.08" stroke="#000" stroke-width="0.25" text-anchor="end" fill="#000" font-family="'DejaVu Sans','Liberation Sans',sans-serif">0.10 [<tspan font-size="13.62" dy="1.04" stroke-width="0" letter-spacing="0.73">-</tspan><tspan dy="-1.04">0.17, 0.37]</tspan></text>
<line x1="466.80" y1="581.81" x2="471.89" y2="581.81" stroke="#111" stroke-width="1.01"/>
<rect x="467.56" y="580.73" width="3.97" height="3.97" fill="#00cc00"/>
<circle cx="585.90" cy="582.82" r="5.55" fill="#00c000"/>
<text transform="translate(587.51 586.55) scale(0.9300 1)" font-size="9.08" font-weight="bold" stroke="#000" stroke-width="0.05" text-anchor="middle" fill="#000" font-family="'DejaVu Sans','Liberation Sans',sans-serif">+</text>
<circle cx="598.50" cy="582.82" r="5.55" fill="#00c000"/>
<text transform="translate(600.11 586.55) scale(0.9300 1)" font-size="9.08" font-weight="bold" stroke="#000" stroke-width="0.05" text-anchor="middle" fill="#000" font-family="'DejaVu Sans','Liberation Sans',sans-serif">+</text>
<circle cx="611.10" cy="582.82" r="5.55" fill="#00c000"/>
<text transform="translate(612.71 586.55) scale(0.9300 1)" font-size="9.08" font-weight="bold" stroke="#000" stroke-width="0.05" text-anchor="middle" fill="#000" font-family="'DejaVu Sans','Liberation Sans',sans-serif">+</text>
<circle cx="623.70" cy="582.82" r="5.55" fill="#00c000"/>
<text transform="translate(625.31 586.55) scale(0.9300 1)" font-size="9.08" font-weight="bold" stroke="#000" stroke-width="0.05" text-anchor="middle" fill="#000" font-family="'DejaVu Sans','Liberation Sans',sans-serif">+</text>
<circle cx="636.30" cy="582.82" r="5.55" fill="#00c000"/>
<text transform="translate(637.91 586.55) scale(0.9300 1)" font-size="9.08" font-weight="bold" stroke="#000" stroke-width="0.05" text-anchor="middle" fill="#000" font-family="'DejaVu Sans','Liberation Sans',sans-serif">+</text>
<circle cx="648.90" cy="582.82" r="5.55" fill="#00c000"/>
<text transform="translate(650.51 586.55) scale(0.9300 1)" font-size="9.08" font-weight="bold" stroke="#000" stroke-width="0.05" text-anchor="middle" fill="#000" font-family="'DejaVu Sans','Liberation Sans',sans-serif">+</text>
<circle cx="661.50" cy="582.82" r="5.55" fill="#00c000"/>
<text transform="translate(663.11 586.55) scale(0.9300 1)" font-size="9.08" font-weight="bold" stroke="#000" stroke-width="0.05" text-anchor="middle" fill="#000" font-family="'DejaVu Sans','Liberation Sans',sans-serif">+</text>
<text transform="translate(7.80 599.20) scale(1.0068 1)" font-size="9.08" stroke="#000" stroke-width="0.25" fill="#000" font-family="'DejaVu Sans','Liberation Sans',sans-serif">Epitropoulos et al., 2016</text>
<text transform="translate(171.60 599.20) scale(0.9500 1)" font-size="9.08" stroke="#000" stroke-width="0.25" text-anchor="end" fill="#000" font-family="'DejaVu Sans','Liberation Sans',sans-serif">0.6%</text>
<text x="270.40" y="599.20" font-size="9.08" stroke="#000" stroke-width="0.25" text-anchor="end" fill="#000" font-family="'DejaVu Sans','Liberation Sans',sans-serif"><tspan font-size="13.62" dy="1.04" stroke-width="0" letter-spacing="0.73">-</tspan><tspan dy="-1.04">2.10 [</tspan><tspan font-size="13.62" dy="1.04" stroke-width="0" letter-spacing="0.73">-</tspan><tspan dy="-1.04">4.75, 0.55]</tspan></text>
<line x1="423.61" y1="594.36" x2="473.59" y2="594.36" stroke="#111" stroke-width="1.01"/>
<rect x="447.84" y="594.31" width="1.92" height="1.92" fill="#00cc00"/>
<circle cx="585.90" cy="595.37" r="5.55" fill="#00c000"/>
<text transform="translate(587.51 599.10) scale(0.9300 1)" font-size="9.08" font-weight="bold" stroke="#000" stroke-width="0.05" text-anchor="middle" fill="#000" font-family="'DejaVu Sans','Liberation Sans',sans-serif">+</text>
<circle cx="598.50" cy="595.37" r="5.55" fill="#00c000"/>
<text transform="translate(600.11 599.10) scale(0.9300 1)" font-size="9.08" font-weight="bold" stroke="#000" stroke-width="0.05" text-anchor="middle" fill="#000" font-family="'DejaVu Sans','Liberation Sans',sans-serif">+</text>
<circle cx="611.10" cy="595.37" r="5.55" fill="#00c000"/>
<text transform="translate(612.71 599.10) scale(0.9300 1)" font-size="9.08" font-weight="bold" stroke="#000" stroke-width="0.05" text-anchor="middle" fill="#000" font-family="'DejaVu Sans','Liberation Sans',sans-serif">+</text>
<circle cx="623.70" cy="595.37" r="5.55" fill="#00c000"/>
<text transform="translate(625.31 599.10) scale(0.9300 1)" font-size="9.08" font-weight="bold" stroke="#000" stroke-width="0.05" text-anchor="middle" fill="#000" font-family="'DejaVu Sans','Liberation Sans',sans-serif">+</text>
<circle cx="636.30" cy="595.37" r="5.55" fill="#00c000"/>
<text transform="translate(637.91 599.10) scale(0.9300 1)" font-size="9.08" font-weight="bold" stroke="#000" stroke-width="0.05" text-anchor="middle" fill="#000" font-family="'DejaVu Sans','Liberation Sans',sans-serif">+</text>
<circle cx="648.90" cy="595.37" r="5.55" fill="#00c000"/>
<text transform="translate(650.51 599.10) scale(0.9300 1)" font-size="9.08" font-weight="bold" stroke="#000" stroke-width="0.05" text-anchor="middle" fill="#000" font-family="'DejaVu Sans','Liberation Sans',sans-serif">+</text>
<circle cx="661.50" cy="595.37" r="5.55" fill="#00c000"/>
<text transform="translate(663.11 599.10) scale(0.9300 1)" font-size="9.08" font-weight="bold" stroke="#000" stroke-width="0.05" text-anchor="middle" fill="#000" font-family="'DejaVu Sans','Liberation Sans',sans-serif">+</text>
<text transform="translate(7.80 611.75) scale(0.9963 1)" font-size="9.08" stroke="#000" stroke-width="0.25" fill="#000" font-family="'DejaVu Sans','Liberation Sans',sans-serif">Inoue et al., 2017</text>
<text transform="translate(171.60 611.75) scale(0.9500 1)" font-size="9.08" stroke="#000" stroke-width="0.25" text-anchor="end" fill="#000" font-family="'DejaVu Sans','Liberation Sans',sans-serif">0.1%</text>
<text x="270.40" y="611.75" font-size="9.08" stroke="#000" stroke-width="0.25" text-anchor="end" fill="#000" font-family="'DejaVu Sans','Liberation Sans',sans-serif">5.15 [<tspan font-size="13.62" dy="1.04" stroke-width="0" letter-spacing="0.73">-</tspan><tspan dy="-1.04">2.66, 12.96]</tspan></text>
<line x1="443.32" y1="606.91" x2="572.80" y2="606.91" stroke="#111" stroke-width="1.01"/>
<path d="M573.20 606.91 l-4.24 -3.23 l1.21 3.23 l-1.21 3.23 z" fill="#000"/>
<rect x="516.21" y="606.86" width="1.92" height="1.92" fill="#00cc00"/>
<circle cx="585.90" cy="607.92" r="5.55" fill="#e0e000"/>
<text transform="translate(585.40 611.65) scale(0.9300 1)" font-size="9.08" font-weight="bold" stroke="#000" stroke-width="0.05" text-anchor="middle" fill="#000" font-family="'DejaVu Sans','Liberation Sans',sans-serif">?</text>
<circle cx="598.50" cy="607.92" r="5.55" fill="#00c000"/>
<text transform="translate(600.11 611.65) scale(0.9300 1)" font-size="9.08" font-weight="bold" stroke="#000" stroke-width="0.05" text-anchor="middle" fill="#000" font-family="'DejaVu Sans','Liberation Sans',sans-serif">+</text>
<circle cx="611.10" cy="607.92" r="5.55" fill="#00c000"/>
<text transform="translate(612.71 611.65) scale(0.9300 1)" font-size="9.08" font-weight="bold" stroke="#000" stroke-width="0.05" text-anchor="middle" fill="#000" font-family="'DejaVu Sans','Liberation Sans',sans-serif">+</text>
<circle cx="623.70" cy="607.92" r="5.55" fill="#00c000"/>
<text transform="translate(625.31 611.65) scale(0.9300 1)" font-size="9.08" font-weight="bold" stroke="#000" stroke-width="0.05" text-anchor="middle" fill="#000" font-family="'DejaVu Sans','Liberation Sans',sans-serif">+</text>
<circle cx="636.30" cy="607.92" r="5.55" fill="#00c000"/>
<text transform="translate(637.91 611.65) scale(0.9300 1)" font-size="9.08" font-weight="bold" stroke="#000" stroke-width="0.05" text-anchor="middle" fill="#000" font-family="'DejaVu Sans','Liberation Sans',sans-serif">+</text>
<circle cx="648.90" cy="607.92" r="5.55" fill="#00c000"/>
<text transform="translate(650.51 611.65) scale(0.9300 1)" font-size="9.08" font-weight="bold" stroke="#000" stroke-width="0.05" text-anchor="middle" fill="#000" font-family="'DejaVu Sans','Liberation Sans',sans-serif">+</text>
<circle cx="661.50" cy="607.92" r="5.55" fill="#e0e000"/>
<text transform="translate(661.00 611.65) scale(0.9300 1)" font-size="9.08" font-weight="bold" stroke="#000" stroke-width="0.05" text-anchor="middle" fill="#000" font-family="'DejaVu Sans','Liberation Sans',sans-serif">?</text>
<text transform="translate(7.80 624.30) scale(0.9934 1)" font-size="9.08" stroke="#000" stroke-width="0.25" fill="#000" font-family="'DejaVu Sans','Liberation Sans',sans-serif">Kangari et al., 2013</text>
<text transform="translate(171.60 624.30) scale(0.9500 1)" font-size="9.08" stroke="#000" stroke-width="0.25" text-anchor="end" fill="#000" font-family="'DejaVu Sans','Liberation Sans',sans-serif">2.5%</text>
<text x="270.40" y="624.30" font-size="9.08" stroke="#000" stroke-width="0.25" text-anchor="end" fill="#000" font-family="'DejaVu Sans','Liberation Sans',sans-serif"><tspan font-size="13.62" dy="1.04" stroke-width="0" letter-spacing="0.73">-</tspan><tspan dy="-1.04">0.40 [</tspan><tspan font-size="13.62" dy="1.04" stroke-width="0" letter-spacing="0.73">-</tspan><tspan dy="-1.04">1.63, 0.83]</tspan></text>
<line x1="453.03" y1="619.46" x2="476.23" y2="619.46" stroke="#111" stroke-width="1.01"/>
<rect x="463.87" y="619.41" width="1.92" height="1.92" fill="#00cc00"/>
<circle cx="585.90" cy="620.47" r="5.55" fill="#00c000"/>
<text transform="translate(587.51 624.20) scale(0.9300 1)" font-size="9.08" font-weight="bold" stroke="#000" stroke-width="0.05" text-anchor="middle" fill="#000" font-family="'DejaVu Sans','Liberation Sans',sans-serif">+</text>
<circle cx="598.50" cy="620.47" r="5.55" fill="#00c000"/>
<text transform="translate(600.11 624.20) scale(0.9300 1)" font-size="9.08" font-weight="bold" stroke="#000" stroke-width="0.05" text-anchor="middle" fill="#000" font-family="'DejaVu Sans','Liberation Sans',sans-serif">+</text>
<circle cx="611.10" cy="620.47" r="5.55" fill="#00c000"/>
<text transform="translate(612.71 624.20) scale(0.9300 1)" font-size="9.08" font-weight="bold" stroke="#000" stroke-width="0.05" text-anchor="middle" fill="#000" font-family="'DejaVu Sans','Liberation Sans',sans-serif">+</text>
<circle cx="623.70" cy="620.47" r="5.55" fill="#00c000"/>
<text transform="translate(625.31 624.20) scale(0.9300 1)" font-size="9.08" font-weight="bold" stroke="#000" stroke-width="0.05" text-anchor="middle" fill="#000" font-family="'DejaVu Sans','Liberation Sans',sans-serif">+</text>
<circle cx="636.30" cy="620.47" r="5.55" fill="#00c000"/>
<text transform="translate(637.91 624.20) scale(0.9300 1)" font-size="9.08" font-weight="bold" stroke="#000" stroke-width="0.05" text-anchor="middle" fill="#000" font-family="'DejaVu Sans','Liberation Sans',sans-serif">+</text>
<circle cx="648.90" cy="620.47" r="5.55" fill="#00c000"/>
<text transform="translate(650.51 624.20) scale(0.9300 1)" font-size="9.08" font-weight="bold" stroke="#000" stroke-width="0.05" text-anchor="middle" fill="#000" font-family="'DejaVu Sans','Liberation Sans',sans-serif">+</text>
<circle cx="661.50" cy="620.47" r="5.55" fill="#e0e000"/>
<text transform="translate(661.00 624.20) scale(0.9300 1)" font-size="9.08" font-weight="bold" stroke="#000" stroke-width="0.05" text-anchor="middle" fill="#000" font-family="'DejaVu Sans','Liberation Sans',sans-serif">?</text>
<text transform="translate(7.80 636.85) scale(0.9962 1)" font-size="9.08" stroke="#000" stroke-width="0.25" fill="#000" font-family="'DejaVu Sans','Liberation Sans',sans-serif">Kawashima et al., 2019</text>
<text transform="translate(171.60 636.85) scale(0.9500 1)" font-size="9.08" stroke="#000" stroke-width="0.25" text-anchor="end" fill="#000" font-family="'DejaVu Sans','Liberation Sans',sans-serif">0.4%</text>
<text x="270.40" y="636.85" font-size="9.08" stroke="#000" stroke-width="0.25" text-anchor="end" fill="#000" font-family="'DejaVu Sans','Liberation Sans',sans-serif"><tspan font-size="13.62" dy="1.04" stroke-width="0" letter-spacing="0.73">-</tspan><tspan dy="-1.04">2.59 [</tspan><tspan font-size="13.62" dy="1.04" stroke-width="0" letter-spacing="0.73">-</tspan><tspan dy="-1.04">5.70, 0.52]</tspan></text>
<line x1="414.65" y1="632.01" x2="473.30" y2="632.01" stroke="#111" stroke-width="1.01"/>
<rect x="443.22" y="631.96" width="1.92" height="1.92" fill="#00cc00"/>
<circle cx="585.90" cy="633.02" r="5.55" fill="#00c000"/>
<text transform="translate(587.51 636.75) scale(0.9300 1)" font-size="9.08" font-weight="bold" stroke="#000" stroke-width="0.05" text-anchor="middle" fill="#000" font-family="'DejaVu Sans','Liberation Sans',sans-serif">+</text>
<circle cx="598.50" cy="633.02" r="5.55" fill="#00c000"/>
<text transform="translate(600.11 636.75) scale(0.9300 1)" font-size="9.08" font-weight="bold" stroke="#000" stroke-width="0.05" text-anchor="middle" fill="#000" font-family="'DejaVu Sans','Liberation Sans',sans-serif">+</text>
<circle cx="611.10" cy="633.02" r="5.55" fill="#00c000"/>
<text transform="translate(612.71 636.75) scale(0.9300 1)" font-size="9.08" font-weight="bold" stroke="#000" stroke-width="0.05" text-anchor="middle" fill="#000" font-family="'DejaVu Sans','Liberation Sans',sans-serif">+</text>
<circle cx="623.70" cy="633.02" r="5.55" fill="#00c000"/>
<text transform="translate(625.31 636.75) scale(0.9300 1)" font-size="9.08" font-weight="bold" stroke="#000" stroke-width="0.05" text-anchor="middle" fill="#000" font-family="'DejaVu Sans','Liberation Sans',sans-serif">+</text>
<circle cx="636.30" cy="633.02" r="5.55" fill="#e0e000"/>
<text transform="translate(635.80 636.75) scale(0.9300 1)" font-size="9.08" font-weight="bold" stroke="#000" stroke-width="0.05" text-anchor="middle" fill="#000" font-family="'DejaVu Sans','Liberation Sans',sans-serif">?</text>
<circle cx="648.90" cy="633.02" r="5.55" fill="#00c000"/>
<text transform="translate(650.51 636.75) scale(0.9300 1)" font-size="9.08" font-weight="bold" stroke="#000" stroke-width="0.05" text-anchor="middle" fill="#000" font-family="'DejaVu Sans','Liberation Sans',sans-serif">+</text>
<circle cx="661.50" cy="633.02" r="5.55" fill="#00c000"/>
<text transform="translate(663.11 636.75) scale(0.9300 1)" font-size="9.08" font-weight="bold" stroke="#000" stroke-width="0.05" text-anchor="middle" fill="#000" font-family="'DejaVu Sans','Liberation Sans',sans-serif">+</text>
<text transform="translate(7.80 649.40) scale(1.0107 1)" font-size="9.08" stroke="#000" stroke-width="0.25" fill="#000" font-family="'DejaVu Sans','Liberation Sans',sans-serif">Kinoshita et al., 2012 T1</text>
<text transform="translate(171.60 649.40) scale(0.9500 1)" font-size="9.08" stroke="#000" stroke-width="0.25" text-anchor="end" fill="#000" font-family="'DejaVu Sans','Liberation Sans',sans-serif">21.8%</text>
<text x="270.40" y="649.40" font-size="9.08" stroke="#000" stroke-width="0.25" text-anchor="end" fill="#000" font-family="'DejaVu Sans','Liberation Sans',sans-serif">0.50 [0.43, 0.57]</text>
<line x1="472.45" y1="644.56" x2="473.78" y2="644.56" stroke="#111" stroke-width="1.01"/>
<rect x="471.01" y="643.16" width="4.62" height="4.62" fill="#00cc00"/>
<circle cx="585.90" cy="645.57" r="5.55" fill="#00c000"/>
<text transform="translate(587.51 649.30) scale(0.9300 1)" font-size="9.08" font-weight="bold" stroke="#000" stroke-width="0.05" text-anchor="middle" fill="#000" font-family="'DejaVu Sans','Liberation Sans',sans-serif">+</text>
<circle cx="598.50" cy="645.57" r="5.55" fill="#cc0000"/>
<text transform="translate(599.21 648.09) scale(0.7800 1)" font-size="9.08" font-weight="bold" text-anchor="middle" fill="#400" font-family="'DejaVu Sans','Liberation Sans',sans-serif">−</text>
<circle cx="611.10" cy="645.57" r="5.55" fill="#00c000"/>
<text transform="translate(612.71 649.30) scale(0.9300 1)" font-size="9.08" font-weight="bold" stroke="#000" stroke-width="0.05" text-anchor="middle" fill="#000" font-family="'DejaVu Sans','Liberation Sans',sans-serif">+</text>
<circle cx="623.70" cy="645.57" r="5.55" fill="#00c000"/>
<text transform="translate(625.31 649.30) scale(0.9300 1)" font-size="9.08" font-weight="bold" stroke="#000" stroke-width="0.05" text-anchor="middle" fill="#000" font-family="'DejaVu Sans','Liberation Sans',sans-serif">+</text>
<circle cx="636.30" cy="645.57" r="5.55" fill="#00c000"/>
<text transform="translate(637.91 649.30) scale(0.9300 1)" font-size="9.08" font-weight="bold" stroke="#000" stroke-width="0.05" text-anchor="middle" fill="#000" font-family="'DejaVu Sans','Liberation Sans',sans-serif">+</text>
<circle cx="648.90" cy="645.57" r="5.55" fill="#00c000"/>
<text transform="translate(650.51 649.30) scale(0.9300 1)" font-size="9.08" font-weight="bold" stroke="#000" stroke-width="0.05" text-anchor="middle" fill="#000" font-family="'DejaVu Sans','Liberation Sans',sans-serif">+</text>
<circle cx="661.50" cy="645.57" r="5.55" fill="#e0e000"/>
<text transform="translate(661.00 649.30) scale(0.9300 1)" font-size="9.08" font-weight="bold" stroke="#000" stroke-width="0.05" text-anchor="middle" fill="#000" font-family="'DejaVu Sans','Liberation Sans',sans-serif">?</text>
<text transform="translate(7.80 661.95) scale(1.0107 1)" font-size="9.08" stroke="#000" stroke-width="0.25" fill="#000" font-family="'DejaVu Sans','Liberation Sans',sans-serif">Kinoshita et al., 2012 T2</text>
<text transform="translate(171.60 661.95) scale(0.9500 1)" font-size="9.08" stroke="#000" stroke-width="0.25" text-anchor="end" fill="#000" font-family="'DejaVu Sans','Liberation Sans',sans-serif">21.8%</text>
<text x="270.40" y="661.95" font-size="9.08" stroke="#000" stroke-width="0.25" text-anchor="end" fill="#000" font-family="'DejaVu Sans','Liberation Sans',sans-serif">0.60 [0.53, 0.67]</text>
<line x1="473.40" y1="657.11" x2="474.72" y2="657.11" stroke="#111" stroke-width="1.01"/>
<rect x="471.95" y="655.71" width="4.62" height="4.62" fill="#00cc00"/>
<circle cx="585.90" cy="658.12" r="5.55" fill="#00c000"/>
<text transform="translate(587.51 661.85) scale(0.9300 1)" font-size="9.08" font-weight="bold" stroke="#000" stroke-width="0.05" text-anchor="middle" fill="#000" font-family="'DejaVu Sans','Liberation Sans',sans-serif">+</text>
<circle cx="598.50" cy="658.12" r="5.55" fill="#cc0000"/>
<text transform="translate(599.21 660.64) scale(0.7800 1)" font-size="9.08" font-weight="bold" text-anchor="middle" fill="#400" font-family="'DejaVu Sans','Liberation Sans',sans-serif">−</text>
<circle cx="611.10" cy="658.12" r="5.55" fill="#00c000"/>
<text transform="translate(612.71 661.85) scale(0.9300 1)" font-size="9.08" font-weight="bold" stroke="#000" stroke-width="0.05" text-anchor="middle" fill="#000" font-family="'DejaVu Sans','Liberation Sans',sans-serif">+</text>
<circle cx="623.70" cy="658.12" r="5.55" fill="#00c000"/>
<text transform="translate(625.31 661.85) scale(0.9300 1)" font-size="9.08" font-weight="bold" stroke="#000" stroke-width="0.05" text-anchor="middle" fill="#000" font-family="'DejaVu Sans','Liberation Sans',sans-serif">+</text>
<circle cx="636.30" cy="658.12" r="5.55" fill="#00c000"/>
<text transform="translate(637.91 661.85) scale(0.9300 1)" font-size="9.08" font-weight="bold" stroke="#000" stroke-width="0.05" text-anchor="middle" fill="#000" font-family="'DejaVu Sans','Liberation Sans',sans-serif">+</text>
<circle cx="648.90" cy="658.12" r="5.55" fill="#00c000"/>
<text transform="translate(650.51 661.85) scale(0.9300 1)" font-size="9.08" font-weight="bold" stroke="#000" stroke-width="0.05" text-anchor="middle" fill="#000" font-family="'DejaVu Sans','Liberation Sans',sans-serif">+</text>
<circle cx="661.50" cy="658.12" r="5.55" fill="#e0e000"/>
<text transform="translate(661.00 661.85) scale(0.9300 1)" font-size="9.08" font-weight="bold" stroke="#000" stroke-width="0.05" text-anchor="middle" fill="#000" font-family="'DejaVu Sans','Liberation Sans',sans-serif">?</text>
<text transform="translate(7.80 674.50) scale(0.9972 1)" font-size="9.08" stroke="#000" stroke-width="0.25" fill="#000" font-family="'DejaVu Sans','Liberation Sans',sans-serif">Larmo et al., 2010</text>
<text transform="translate(171.60 674.50) scale(0.9500 1)" font-size="9.08" stroke="#000" stroke-width="0.25" text-anchor="end" fill="#000" font-family="'DejaVu Sans','Liberation Sans',sans-serif">0.4%</text>
<text x="270.40" y="674.50" font-size="9.08" stroke="#000" stroke-width="0.25" text-anchor="end" fill="#000" font-family="'DejaVu Sans','Liberation Sans',sans-serif">1.00 [<tspan font-size="13.62" dy="1.04" stroke-width="0" letter-spacing="0.73">-</tspan><tspan dy="-1.04">2.14, 4.14]</tspan></text>
<line x1="448.22" y1="669.66" x2="507.44" y2="669.66" stroke="#111" stroke-width="1.01"/>
<rect x="477.07" y="669.61" width="1.92" height="1.92" fill="#00cc00"/>
<circle cx="585.90" cy="670.67" r="5.55" fill="#e0e000"/>
<text transform="translate(585.40 674.40) scale(0.9300 1)" font-size="9.08" font-weight="bold" stroke="#000" stroke-width="0.05" text-anchor="middle" fill="#000" font-family="'DejaVu Sans','Liberation Sans',sans-serif">?</text>
<circle cx="598.50" cy="670.67" r="5.55" fill="#00c000"/>
<text transform="translate(600.11 674.40) scale(0.9300 1)" font-size="9.08" font-weight="bold" stroke="#000" stroke-width="0.05" text-anchor="middle" fill="#000" font-family="'DejaVu Sans','Liberation Sans',sans-serif">+</text>
<circle cx="611.10" cy="670.67" r="5.55" fill="#00c000"/>
<text transform="translate(612.71 674.40) scale(0.9300 1)" font-size="9.08" font-weight="bold" stroke="#000" stroke-width="0.05" text-anchor="middle" fill="#000" font-family="'DejaVu Sans','Liberation Sans',sans-serif">+</text>
<circle cx="623.70" cy="670.67" r="5.55" fill="#00c000"/>
<text transform="translate(625.31 674.40) scale(0.9300 1)" font-size="9.08" font-weight="bold" stroke="#000" stroke-width="0.05" text-anchor="middle" fill="#000" font-family="'DejaVu Sans','Liberation Sans',sans-serif">+</text>
<circle cx="636.30" cy="670.67" r="5.55" fill="#00c000"/>
<text transform="translate(637.91 674.40) scale(0.9300 1)" font-size="9.08" font-weight="bold" stroke="#000" stroke-width="0.05" text-anchor="middle" fill="#000" font-family="'DejaVu Sans','Liberation Sans',sans-serif">+</text>
<circle cx="648.90" cy="670.67" r="5.55" fill="#e0e000"/>
<text transform="translate(648.40 674.40) scale(0.9300 1)" font-size="9.08" font-weight="bold" stroke="#000" stroke-width="0.05" text-anchor="middle" fill="#000" font-family="'DejaVu Sans','Liberation Sans',sans-serif">?</text>
<circle cx="661.50" cy="670.67" r="5.55" fill="#e0e000"/>
<text transform="translate(661.00 674.40) scale(0.9300 1)" font-size="9.08" font-weight="bold" stroke="#000" stroke-width="0.05" text-anchor="middle" fill="#000" font-family="'DejaVu Sans','Liberation Sans',sans-serif">?</text>
<text transform="translate(7.80 687.05) scale(0.9953 1)" font-size="9.08" stroke="#000" stroke-width="0.25" fill="#000" font-family="'DejaVu Sans','Liberation Sans',sans-serif">Maguire et al., 2018</text>
<text transform="translate(171.60 687.05) scale(0.9500 1)" font-size="9.08" stroke="#000" stroke-width="0.25" text-anchor="end" fill="#000" font-family="'DejaVu Sans','Liberation Sans',sans-serif">4.2%</text>
<text x="270.40" y="687.05" font-size="9.08" stroke="#000" stroke-width="0.25" text-anchor="end" fill="#000" font-family="'DejaVu Sans','Liberation Sans',sans-serif">2.40 [1.49, 3.31]</text>
<line x1="482.45" y1="682.21" x2="499.61" y2="682.21" stroke="#111" stroke-width="1.01"/>
<rect x="490.22" y="682.10" width="2.03" height="2.03" fill="#00cc00"/>
<circle cx="585.90" cy="683.22" r="5.55" fill="#00c000"/>
<text transform="translate(587.51 686.95) scale(0.9300 1)" font-size="9.08" font-weight="bold" stroke="#000" stroke-width="0.05" text-anchor="middle" fill="#000" font-family="'DejaVu Sans','Liberation Sans',sans-serif">+</text>
<circle cx="598.50" cy="683.22" r="5.55" fill="#cc0000"/>
<text transform="translate(599.21 685.74) scale(0.7800 1)" font-size="9.08" font-weight="bold" text-anchor="middle" fill="#400" font-family="'DejaVu Sans','Liberation Sans',sans-serif">−</text>
<circle cx="611.10" cy="683.22" r="5.55" fill="#00c000"/>
<text transform="translate(612.71 686.95) scale(0.9300 1)" font-size="9.08" font-weight="bold" stroke="#000" stroke-width="0.05" text-anchor="middle" fill="#000" font-family="'DejaVu Sans','Liberation Sans',sans-serif">+</text>
<circle cx="623.70" cy="683.22" r="5.55" fill="#00c000"/>
<text transform="translate(625.31 686.95) scale(0.9300 1)" font-size="9.08" font-weight="bold" stroke="#000" stroke-width="0.05" text-anchor="middle" fill="#000" font-family="'DejaVu Sans','Liberation Sans',sans-serif">+</text>
<circle cx="636.30" cy="683.22" r="5.55" fill="#00c000"/>
<text transform="translate(637.91 686.95) scale(0.9300 1)" font-size="9.08" font-weight="bold" stroke="#000" stroke-width="0.05" text-anchor="middle" fill="#000" font-family="'DejaVu Sans','Liberation Sans',sans-serif">+</text>
<circle cx="648.90" cy="683.22" r="5.55" fill="#00c000"/>
<text transform="translate(650.51 686.95) scale(0.9300 1)" font-size="9.08" font-weight="bold" stroke="#000" stroke-width="0.05" text-anchor="middle" fill="#000" font-family="'DejaVu Sans','Liberation Sans',sans-serif">+</text>
<circle cx="661.50" cy="683.22" r="5.55" fill="#00c000"/>
<text transform="translate(663.11 686.95) scale(0.9300 1)" font-size="9.08" font-weight="bold" stroke="#000" stroke-width="0.05" text-anchor="middle" fill="#000" font-family="'DejaVu Sans','Liberation Sans',sans-serif">+</text>
<text transform="translate(7.80 699.60) scale(1.0004 1)" font-size="9.08" stroke="#000" stroke-width="0.25" fill="#000" font-family="'DejaVu Sans','Liberation Sans',sans-serif">Pflugfelder et al., 2004</text>
<text transform="translate(171.60 699.60) scale(0.9500 1)" font-size="9.08" stroke="#000" stroke-width="0.25" text-anchor="end" fill="#000" font-family="'DejaVu Sans','Liberation Sans',sans-serif">0.4%</text>
<text x="270.40" y="699.60" font-size="9.08" stroke="#000" stroke-width="0.25" text-anchor="end" fill="#000" font-family="'DejaVu Sans','Liberation Sans',sans-serif"><tspan font-size="13.62" dy="1.04" stroke-width="0" letter-spacing="0.73">-</tspan><tspan dy="-1.04">0.88 [</tspan><tspan font-size="13.62" dy="1.04" stroke-width="0" letter-spacing="0.73">-</tspan><tspan dy="-1.04">4.23, 2.47]</tspan></text>
<line x1="428.51" y1="694.76" x2="491.69" y2="694.76" stroke="#111" stroke-width="1.01"/>
<rect x="459.34" y="694.71" width="1.92" height="1.92" fill="#00cc00"/>
<circle cx="585.90" cy="695.77" r="5.55" fill="#e0e000"/>
<text transform="translate(585.40 699.50) scale(0.9300 1)" font-size="9.08" font-weight="bold" stroke="#000" stroke-width="0.05" text-anchor="middle" fill="#000" font-family="'DejaVu Sans','Liberation Sans',sans-serif">?</text>
<circle cx="598.50" cy="695.77" r="5.55" fill="#e0e000"/>
<text transform="translate(598.00 699.50) scale(0.9300 1)" font-size="9.08" font-weight="bold" stroke="#000" stroke-width="0.05" text-anchor="middle" fill="#000" font-family="'DejaVu Sans','Liberation Sans',sans-serif">?</text>
<circle cx="611.10" cy="695.77" r="5.55" fill="#00c000"/>
<text transform="translate(612.71 699.50) scale(0.9300 1)" font-size="9.08" font-weight="bold" stroke="#000" stroke-width="0.05" text-anchor="middle" fill="#000" font-family="'DejaVu Sans','Liberation Sans',sans-serif">+</text>
<circle cx="623.70" cy="695.77" r="5.55" fill="#00c000"/>
<text transform="translate(625.31 699.50) scale(0.9300 1)" font-size="9.08" font-weight="bold" stroke="#000" stroke-width="0.05" text-anchor="middle" fill="#000" font-family="'DejaVu Sans','Liberation Sans',sans-serif">+</text>
<circle cx="636.30" cy="695.77" r="5.55" fill="#00c000"/>
<text transform="translate(637.91 699.50) scale(0.9300 1)" font-size="9.08" font-weight="bold" stroke="#000" stroke-width="0.05" text-anchor="middle" fill="#000" font-family="'DejaVu Sans','Liberation Sans',sans-serif">+</text>
<circle cx="648.90" cy="695.77" r="5.55" fill="#00c000"/>
<text transform="translate(650.51 699.50) scale(0.9300 1)" font-size="9.08" font-weight="bold" stroke="#000" stroke-width="0.05" text-anchor="middle" fill="#000" font-family="'DejaVu Sans','Liberation Sans',sans-serif">+</text>
<circle cx="661.50" cy="695.77" r="5.55" fill="#00c000"/>
<text transform="translate(663.11 699.50) scale(0.9300 1)" font-size="9.08" font-weight="bold" stroke="#000" stroke-width="0.05" text-anchor="middle" fill="#000" font-family="'DejaVu Sans','Liberation Sans',sans-serif">+</text>
<text transform="translate(7.80 712.15) scale(0.9999 1)" font-size="9.08" stroke="#000" stroke-width="0.25" fill="#000" font-family="'DejaVu Sans','Liberation Sans',sans-serif">Szegedi et al., 2018 T1</text>
<text transform="translate(171.60 712.15) scale(0.9500 1)" font-size="9.08" stroke="#000" stroke-width="0.25" text-anchor="end" fill="#000" font-family="'DejaVu Sans','Liberation Sans',sans-serif">0.2%</text>
<text x="270.40" y="712.15" font-size="9.08" stroke="#000" stroke-width="0.25" text-anchor="end" fill="#000" font-family="'DejaVu Sans','Liberation Sans',sans-serif">2.90 [<tspan font-size="13.62" dy="1.04" stroke-width="0" letter-spacing="0.73">-</tspan><tspan dy="-1.04">1.57, 7.37]</tspan></text>
<line x1="453.59" y1="707.31" x2="537.90" y2="707.31" stroke="#111" stroke-width="1.01"/>
<rect x="494.99" y="707.26" width="1.92" height="1.92" fill="#00cc00"/>
<circle cx="585.90" cy="708.32" r="5.55" fill="#00c000"/>
<text transform="translate(587.51 712.05) scale(0.9300 1)" font-size="9.08" font-weight="bold" stroke="#000" stroke-width="0.05" text-anchor="middle" fill="#000" font-family="'DejaVu Sans','Liberation Sans',sans-serif">+</text>
<circle cx="598.50" cy="708.32" r="5.55" fill="#00c000"/>
<text transform="translate(600.11 712.05) scale(0.9300 1)" font-size="9.08" font-weight="bold" stroke="#000" stroke-width="0.05" text-anchor="middle" fill="#000" font-family="'DejaVu Sans','Liberation Sans',sans-serif">+</text>
<circle cx="611.10" cy="708.32" r="5.55" fill="#00c000"/>
<text transform="translate(612.71 712.05) scale(0.9300 1)" font-size="9.08" font-weight="bold" stroke="#000" stroke-width="0.05" text-anchor="middle" fill="#000" font-family="'DejaVu Sans','Liberation Sans',sans-serif">+</text>
<circle cx="623.70" cy="708.32" r="5.55" fill="#cc0000"/>
<text transform="translate(624.41 710.84) scale(0.7800 1)" font-size="9.08" font-weight="bold" text-anchor="middle" fill="#400" font-family="'DejaVu Sans','Liberation Sans',sans-serif">−</text>
<circle cx="636.30" cy="708.32" r="5.55" fill="#e0e000"/>
<text transform="translate(635.80 712.05) scale(0.9300 1)" font-size="9.08" font-weight="bold" stroke="#000" stroke-width="0.05" text-anchor="middle" fill="#000" font-family="'DejaVu Sans','Liberation Sans',sans-serif">?</text>
<circle cx="648.90" cy="708.32" r="5.55" fill="#00c000"/>
<text transform="translate(650.51 712.05) scale(0.9300 1)" font-size="9.08" font-weight="bold" stroke="#000" stroke-width="0.05" text-anchor="middle" fill="#000" font-family="'DejaVu Sans','Liberation Sans',sans-serif">+</text>
<circle cx="661.50" cy="708.32" r="5.55" fill="#00c000"/>
<text transform="translate(663.11 712.05) scale(0.9300 1)" font-size="9.08" font-weight="bold" stroke="#000" stroke-width="0.05" text-anchor="middle" fill="#000" font-family="'DejaVu Sans','Liberation Sans',sans-serif">+</text>
<text transform="translate(7.80 724.70) scale(0.9999 1)" font-size="9.08" stroke="#000" stroke-width="0.25" fill="#000" font-family="'DejaVu Sans','Liberation Sans',sans-serif">Szegedi et al., 2018 T2</text>
<text transform="translate(171.60 724.70) scale(0.9500 1)" font-size="9.08" stroke="#000" stroke-width="0.25" text-anchor="end" fill="#000" font-family="'DejaVu Sans','Liberation Sans',sans-serif">0.2%</text>
<text x="270.40" y="724.70" font-size="9.08" stroke="#000" stroke-width="0.25" text-anchor="end" fill="#000" font-family="'DejaVu Sans','Liberation Sans',sans-serif"><tspan font-size="13.62" dy="1.04" stroke-width="0" letter-spacing="0.73">-</tspan><tspan dy="-1.04">4.10 [</tspan><tspan font-size="13.62" dy="1.04" stroke-width="0" letter-spacing="0.73">-</tspan><tspan dy="-1.04">8.69, 0.49]</tspan></text>
<line x1="386.45" y1="719.86" x2="473.02" y2="719.86" stroke="#111" stroke-width="1.01"/>
<rect x="428.98" y="719.81" width="1.92" height="1.92" fill="#00cc00"/>
<circle cx="585.90" cy="720.87" r="5.55" fill="#00c000"/>
<text transform="translate(587.51 724.60) scale(0.9300 1)" font-size="9.08" font-weight="bold" stroke="#000" stroke-width="0.05" text-anchor="middle" fill="#000" font-family="'DejaVu Sans','Liberation Sans',sans-serif">+</text>
<circle cx="598.50" cy="720.87" r="5.55" fill="#00c000"/>
<text transform="translate(600.11 724.60) scale(0.9300 1)" font-size="9.08" font-weight="bold" stroke="#000" stroke-width="0.05" text-anchor="middle" fill="#000" font-family="'DejaVu Sans','Liberation Sans',sans-serif">+</text>
<circle cx="611.10" cy="720.87" r="5.55" fill="#00c000"/>
<text transform="translate(612.71 724.60) scale(0.9300 1)" font-size="9.08" font-weight="bold" stroke="#000" stroke-width="0.05" text-anchor="middle" fill="#000" font-family="'DejaVu Sans','Liberation Sans',sans-serif">+</text>
<circle cx="623.70" cy="720.87" r="5.55" fill="#cc0000"/>
<text transform="translate(624.41 723.39) scale(0.7800 1)" font-size="9.08" font-weight="bold" text-anchor="middle" fill="#400" font-family="'DejaVu Sans','Liberation Sans',sans-serif">−</text>
<circle cx="636.30" cy="720.87" r="5.55" fill="#e0e000"/>
<text transform="translate(635.80 724.60) scale(0.9300 1)" font-size="9.08" font-weight="bold" stroke="#000" stroke-width="0.05" text-anchor="middle" fill="#000" font-family="'DejaVu Sans','Liberation Sans',sans-serif">?</text>
<circle cx="648.90" cy="720.87" r="5.55" fill="#00c000"/>
<text transform="translate(650.51 724.60) scale(0.9300 1)" font-size="9.08" font-weight="bold" stroke="#000" stroke-width="0.05" text-anchor="middle" fill="#000" font-family="'DejaVu Sans','Liberation Sans',sans-serif">+</text>
<circle cx="661.50" cy="720.87" r="5.55" fill="#00c000"/>
<text transform="translate(663.11 724.60) scale(0.9300 1)" font-size="9.08" font-weight="bold" stroke="#000" stroke-width="0.05" text-anchor="middle" fill="#000" font-family="'DejaVu Sans','Liberation Sans',sans-serif">+</text>
<text transform="translate(7.80 737.25) scale(1.0057 1)" font-size="9.08" stroke="#000" stroke-width="0.25" fill="#000" font-family="'DejaVu Sans','Liberation Sans',sans-serif">Wojtowicz et al., 2011</text>
<text transform="translate(171.60 737.25) scale(0.9500 1)" font-size="9.08" stroke="#000" stroke-width="0.25" text-anchor="end" fill="#000" font-family="'DejaVu Sans','Liberation Sans',sans-serif">0.1%</text>
<text x="270.40" y="737.25" font-size="9.08" stroke="#000" stroke-width="0.25" text-anchor="end" fill="#000" font-family="'DejaVu Sans','Liberation Sans',sans-serif">1.81 [<tspan font-size="13.62" dy="1.04" stroke-width="0" letter-spacing="0.73">-</tspan><tspan dy="-1.04">4.53, 8.15]</tspan></text>
<line x1="425.68" y1="732.41" x2="545.25" y2="732.41" stroke="#111" stroke-width="1.01"/>
<rect x="484.71" y="732.36" width="1.92" height="1.92" fill="#00cc00"/>
<circle cx="585.90" cy="733.42" r="5.55" fill="#00c000"/>
<text transform="translate(587.51 737.15) scale(0.9300 1)" font-size="9.08" font-weight="bold" stroke="#000" stroke-width="0.05" text-anchor="middle" fill="#000" font-family="'DejaVu Sans','Liberation Sans',sans-serif">+</text>
<circle cx="598.50" cy="733.42" r="5.55" fill="#00c000"/>
<text transform="translate(600.11 737.15) scale(0.9300 1)" font-size="9.08" font-weight="bold" stroke="#000" stroke-width="0.05" text-anchor="middle" fill="#000" font-family="'DejaVu Sans','Liberation Sans',sans-serif">+</text>
<circle cx="611.10" cy="733.42" r="5.55" fill="#00c000"/>
<text transform="translate(612.71 737.15) scale(0.9300 1)" font-size="9.08" font-weight="bold" stroke="#000" stroke-width="0.05" text-anchor="middle" fill="#000" font-family="'DejaVu Sans','Liberation Sans',sans-serif">+</text>
<circle cx="623.70" cy="733.42" r="5.55" fill="#00c000"/>
<text transform="translate(625.31 737.15) scale(0.9300 1)" font-size="9.08" font-weight="bold" stroke="#000" stroke-width="0.05" text-anchor="middle" fill="#000" font-family="'DejaVu Sans','Liberation Sans',sans-serif">+</text>
<circle cx="636.30" cy="733.42" r="5.55" fill="#00c000"/>
<text transform="translate(637.91 737.15) scale(0.9300 1)" font-size="9.08" font-weight="bold" stroke="#000" stroke-width="0.05" text-anchor="middle" fill="#000" font-family="'DejaVu Sans','Liberation Sans',sans-serif">+</text>
<circle cx="648.90" cy="733.42" r="5.55" fill="#00c000"/>
<text transform="translate(650.51 737.15) scale(0.9300 1)" font-size="9.08" font-weight="bold" stroke="#000" stroke-width="0.05" text-anchor="middle" fill="#000" font-family="'DejaVu Sans','Liberation Sans',sans-serif">+</text>
<circle cx="661.50" cy="733.42" r="5.55" fill="#00c000"/>
<text transform="translate(663.11 737.15) scale(0.9300 1)" font-size="9.08" font-weight="bold" stroke="#000" stroke-width="0.05" text-anchor="middle" fill="#000" font-family="'DejaVu Sans','Liberation Sans',sans-serif">+</text>
<text transform="translate(7.80 760.90) scale(0.9630 1)" font-size="9.08" font-weight="bold" stroke="#000" stroke-width="0.15" fill="#000" font-family="'DejaVu Sans','Liberation Sans',sans-serif">Total (95% CI)</text>
<text transform="translate(171.20 760.90) scale(0.9300 1)" font-size="9.08" font-weight="bold" stroke="#000" stroke-width="0.15" text-anchor="end" fill="#000" font-family="'DejaVu Sans','Liberation Sans',sans-serif">100.0%</text>
<text transform="translate(270.40 760.90) scale(0.9300 1)" font-size="9.08" font-weight="bold" stroke="#000" stroke-width="0.15" text-anchor="end" fill="#000" font-family="'DejaVu Sans','Liberation Sans',sans-serif">0.61 [0.41, 0.82]</text>
<text transform="translate(7.80 774.80) scale(1.0110 1)" font-size="9.08" stroke="#000" stroke-width="0.25" fill="#000" font-family="'DejaVu Sans','Liberation Sans',sans-serif">Heterogeneity: Tau<tspan dy="-3.73" font-size="6.54">2</tspan><tspan dy="3.73" font-size="6.54">​</tspan> = 0.05; Chi<tspan dy="-3.73" font-size="6.54">2</tspan><tspan dy="3.73" font-size="6.54">​</tspan> = 79.15, df = 17 (P &lt; 0.00001); I<tspan dy="-3.73" font-size="6.54">2</tspan><tspan dy="3.73" font-size="6.54">​</tspan> = 79%</text>
<text transform="translate(7.80 787.70) scale(1.0100 1)" font-size="9.08" stroke="#000" stroke-width="0.25" fill="#000" font-family="'DejaVu Sans','Liberation Sans',sans-serif">Test for overall effect: Z = 5.84 (P &lt; 0.00001)</text>
<line x1="364.50" y1="770.00" x2="572.80" y2="770.00" stroke="#000" stroke-width="1.01"/>
<line x1="374.10" y1="767.28" x2="374.10" y2="772.72" stroke="#000" stroke-width="1.01"/>
<text transform="translate(374.10 781.10) scale(0.9850 1)" font-size="9.08" stroke="#000" stroke-width="0.25" text-anchor="middle" fill="#000" font-family="'DejaVu Sans','Liberation Sans',sans-serif"><tspan font-size="13.62" dy="1.04" stroke-width="0" letter-spacing="0.73">-</tspan><tspan dy="-1.04">10</tspan></text>
<line x1="421.25" y1="767.28" x2="421.25" y2="772.72" stroke="#000" stroke-width="1.01"/>
<text transform="translate(421.25 781.10) scale(0.9850 1)" font-size="9.08" stroke="#000" stroke-width="0.25" text-anchor="middle" fill="#000" font-family="'DejaVu Sans','Liberation Sans',sans-serif"><tspan font-size="13.62" dy="1.04" stroke-width="0" letter-spacing="0.73">-</tspan><tspan dy="-1.04">5</tspan></text>
<line x1="468.40" y1="767.28" x2="468.40" y2="772.72" stroke="#000" stroke-width="1.01"/>
<text transform="translate(468.40 781.10) scale(0.9850 1)" font-size="9.08" stroke="#000" stroke-width="0.25" text-anchor="middle" fill="#000" font-family="'DejaVu Sans','Liberation Sans',sans-serif">0</text>
<line x1="515.55" y1="767.28" x2="515.55" y2="772.72" stroke="#000" stroke-width="1.01"/>
<text transform="translate(515.55 781.10) scale(0.9850 1)" font-size="9.08" stroke="#000" stroke-width="0.25" text-anchor="middle" fill="#000" font-family="'DejaVu Sans','Liberation Sans',sans-serif">5</text>
<line x1="562.70" y1="767.28" x2="562.70" y2="772.72" stroke="#000" stroke-width="1.01"/>
<text transform="translate(562.70 781.10) scale(0.9850 1)" font-size="9.08" stroke="#000" stroke-width="0.25" text-anchor="middle" fill="#000" font-family="'DejaVu Sans','Liberation Sans',sans-serif">10</text>
<text x="464.67" y="791.79" font-size="9.08" stroke="#000" stroke-width="0.25" text-anchor="end" fill="#000" font-family="'DejaVu Sans','Liberation Sans',sans-serif">Favours placebo</text>
<text transform="translate(473.04 791.79) scale(0.9750 1)" font-size="9.08" stroke="#000" stroke-width="0.25" fill="#000" font-family="'DejaVu Sans','Liberation Sans',sans-serif">Favours active treatment</text>
<path d="M472.27 757.50 L474.15 752.15 L476.13 757.50 L474.15 762.85 Z" fill="#000"/>
<text transform="translate(7.80 813.00) scale(0.9960 1)" font-size="9.08" stroke="#000" stroke-width="0.25" fill="#000" font-family="'DejaVu Sans','Liberation Sans',sans-serif">Risk of bias legend</text>
<line x1="8.00" y1="814.77" x2="94.47" y2="814.77" stroke="#000" stroke-width="0.86"/>
<text x="7.80" y="825.60" font-size="9.08" stroke="#000" stroke-width="0.25" fill="#000" font-family="'DejaVu Sans','Liberation Sans',sans-serif">(<tspan font-weight="bold" letter-spacing="-0.55">A</tspan>) Random sequence generation (selection bias)</text>
<text x="7.80" y="838.12" font-size="9.08" stroke="#000" stroke-width="0.25" fill="#000" font-family="'DejaVu Sans','Liberation Sans',sans-serif">(<tspan font-weight="bold" letter-spacing="-0.55">B</tspan>) Allocation concealment (selection bias)</text>
<text x="7.80" y="850.64" font-size="9.08" stroke="#000" stroke-width="0.25" fill="#000" font-family="'DejaVu Sans','Liberation Sans',sans-serif">(<tspan font-weight="bold" letter-spacing="-0.55">C</tspan>) Blinding of participants and personnel (performance bias)</text>
<text x="7.80" y="863.16" font-size="9.08" stroke="#000" stroke-width="0.25" fill="#000" font-family="'DejaVu Sans','Liberation Sans',sans-serif">(<tspan font-weight="bold" letter-spacing="-0.55">D</tspan>) Blinding of outcome assessment (detection bias)</text>
<text x="7.80" y="875.68" font-size="9.08" stroke="#000" stroke-width="0.25" fill="#000" font-family="'DejaVu Sans','Liberation Sans',sans-serif">(<tspan font-weight="bold" letter-spacing="-0.55">E</tspan>) Incomplete outcome data (attrition bias)</text>
<text x="7.80" y="888.20" font-size="9.08" stroke="#000" stroke-width="0.25" fill="#000" font-family="'DejaVu Sans','Liberation Sans',sans-serif">(<tspan font-weight="bold" letter-spacing="-0.55">F</tspan>) Selective reporting (reporting bias)</text>
<text x="7.80" y="900.72" font-size="9.08" stroke="#000" stroke-width="0.25" fill="#000" font-family="'DejaVu Sans','Liberation Sans',sans-serif">(<tspan font-weight="bold" letter-spacing="-0.55">G</tspan>) Other bias</text>
<text transform="translate(342.80 975.80) scale(0.9850 1)" font-size="21.20" text-anchor="middle" fill="#000" font-family="'Liberation Sans',sans-serif">Ocular Surface Disease Index (OSDI)</text>
<line x1="0.00" y1="1011.45" x2="685.00" y2="1011.45" stroke="#000" stroke-width="1.30"/>
<text transform="translate(9.00 1007.80) scale(0.9300 1)" font-size="10.19" font-weight="bold" stroke="#000" stroke-width="0.15" fill="#000" font-family="'DejaVu Sans','Liberation Sans',sans-serif">Study or Subgroup</text>
<text transform="translate(199.30 1007.80) scale(0.9300 1)" font-size="10.19" font-weight="bold" stroke="#000" stroke-width="0.15" text-anchor="end" fill="#000" font-family="'DejaVu Sans','Liberation Sans',sans-serif">Weight</text>
<text transform="translate(319.50 1007.80) scale(0.9300 1)" font-size="10.19" font-weight="bold" stroke="#000" stroke-width="0.15" text-anchor="end" fill="#000" font-family="'DejaVu Sans','Liberation Sans',sans-serif">IV, Fixed, 95% CI</text>
<text transform="translate(259.70 993.76) scale(0.9300 1)" font-size="10.19" font-weight="bold" stroke="#000" stroke-width="0.15" text-anchor="middle" fill="#000" font-family="'DejaVu Sans','Liberation Sans',sans-serif">Mean Difference</text>
<text transform="translate(444.00 993.76) scale(0.9300 1)" font-size="10.19" font-weight="bold" stroke="#000" stroke-width="0.15" text-anchor="middle" fill="#000" font-family="'DejaVu Sans','Liberation Sans',sans-serif">Mean Difference</text>
<text transform="translate(444.00 1007.80) scale(0.9300 1)" font-size="10.19" font-weight="bold" stroke="#000" stroke-width="0.15" text-anchor="middle" fill="#000" font-family="'DejaVu Sans','Liberation Sans',sans-serif">IV, Fixed, 95% CI</text>
<text transform="translate(620.80 993.76) scale(0.9300 1)" font-size="10.19" font-weight="bold" stroke="#000" stroke-width="0.15" text-anchor="middle" fill="#000" font-family="'DejaVu Sans','Liberation Sans',sans-serif">Risk of Bias</text>
<text transform="translate(574.91 1007.80) scale(0.9300 1)" font-size="10.19" font-weight="bold" stroke="#000" stroke-width="0.15" text-anchor="middle" fill="#000" font-family="'DejaVu Sans','Liberation Sans',sans-serif">A</text>
<text transform="translate(588.98 1007.80) scale(0.9300 1)" font-size="10.19" font-weight="bold" stroke="#000" stroke-width="0.15" text-anchor="middle" fill="#000" font-family="'DejaVu Sans','Liberation Sans',sans-serif">B</text>
<text transform="translate(603.05 1007.80) scale(0.9300 1)" font-size="10.19" font-weight="bold" stroke="#000" stroke-width="0.15" text-anchor="middle" fill="#000" font-family="'DejaVu Sans','Liberation Sans',sans-serif">C</text>
<text transform="translate(617.12 1007.80) scale(0.9300 1)" font-size="10.19" font-weight="bold" stroke="#000" stroke-width="0.15" text-anchor="middle" fill="#000" font-family="'DejaVu Sans','Liberation Sans',sans-serif">D</text>
<text transform="translate(631.19 1007.80) scale(0.9300 1)" font-size="10.19" font-weight="bold" stroke="#000" stroke-width="0.15" text-anchor="middle" fill="#000" font-family="'DejaVu Sans','Liberation Sans',sans-serif">E</text>
<text transform="translate(645.26 1007.80) scale(0.9300 1)" font-size="10.19" font-weight="bold" stroke="#000" stroke-width="0.15" text-anchor="middle" fill="#000" font-family="'DejaVu Sans','Liberation Sans',sans-serif">F</text>
<text transform="translate(659.33 1007.80) scale(0.9300 1)" font-size="10.19" font-weight="bold" stroke="#000" stroke-width="0.15" text-anchor="middle" fill="#000" font-family="'DejaVu Sans','Liberation Sans',sans-serif">G</text>
<line x1="444.00" y1="1011.45" x2="444.00" y2="1204.47" stroke="#000" stroke-width="1.30"/>
<text transform="translate(9.00 1023.70) scale(1.0034 1)" font-size="10.19" stroke="#000" stroke-width="0.25" fill="#000" font-family="'DejaVu Sans','Liberation Sans',sans-serif">Avni et al., 2010</text>
<text transform="translate(200.40 1023.70) scale(0.9500 1)" font-size="10.19" stroke="#000" stroke-width="0.25" text-anchor="end" fill="#000" font-family="'DejaVu Sans','Liberation Sans',sans-serif">3.3%</text>
<text x="319.50" y="1023.70" font-size="10.19" stroke="#000" stroke-width="0.25" text-anchor="end" fill="#000" font-family="'DejaVu Sans','Liberation Sans',sans-serif"><tspan font-size="15.28" dy="1.17" stroke-width="0" letter-spacing="0.82">-</tspan><tspan dy="-1.17">8.97 [</tspan><tspan font-size="15.28" dy="1.17" stroke-width="0" letter-spacing="0.82">-</tspan><tspan dy="-1.17">17.66, </tspan><tspan font-size="15.28" dy="1.17" stroke-width="0" letter-spacing="0.82">-</tspan><tspan dy="-1.17">0.28]</tspan></text>
<line x1="423.73" y1="1018.27" x2="443.68" y2="1018.27" stroke="#111" stroke-width="1.13"/>
<rect x="432.83" y="1018.21" width="2.15" height="2.15" fill="#00cc00"/>
<circle cx="574.00" cy="1019.40" r="6.23" fill="#00c000"/>
<text transform="translate(575.81 1023.59) scale(0.9300 1)" font-size="10.19" font-weight="bold" stroke="#000" stroke-width="0.05" text-anchor="middle" fill="#000" font-family="'DejaVu Sans','Liberation Sans',sans-serif">+</text>
<circle cx="588.07" cy="1019.40" r="6.23" fill="#00c000"/>
<text transform="translate(589.88 1023.59) scale(0.9300 1)" font-size="10.19" font-weight="bold" stroke="#000" stroke-width="0.05" text-anchor="middle" fill="#000" font-family="'DejaVu Sans','Liberation Sans',sans-serif">+</text>
<circle cx="602.14" cy="1019.40" r="6.23" fill="#00c000"/>
<text transform="translate(603.95 1023.59) scale(0.9300 1)" font-size="10.19" font-weight="bold" stroke="#000" stroke-width="0.05" text-anchor="middle" fill="#000" font-family="'DejaVu Sans','Liberation Sans',sans-serif">+</text>
<circle cx="616.21" cy="1019.40" r="6.23" fill="#00c000"/>
<text transform="translate(618.02 1023.59) scale(0.9300 1)" font-size="10.19" font-weight="bold" stroke="#000" stroke-width="0.05" text-anchor="middle" fill="#000" font-family="'DejaVu Sans','Liberation Sans',sans-serif">+</text>
<circle cx="630.28" cy="1019.40" r="6.23" fill="#00c000"/>
<text transform="translate(632.09 1023.59) scale(0.9300 1)" font-size="10.19" font-weight="bold" stroke="#000" stroke-width="0.05" text-anchor="middle" fill="#000" font-family="'DejaVu Sans','Liberation Sans',sans-serif">+</text>
<circle cx="644.35" cy="1019.40" r="6.23" fill="#00c000"/>
<text transform="translate(646.16 1023.59) scale(0.9300 1)" font-size="10.19" font-weight="bold" stroke="#000" stroke-width="0.05" text-anchor="middle" fill="#000" font-family="'DejaVu Sans','Liberation Sans',sans-serif">+</text>
<circle cx="658.42" cy="1019.40" r="6.23" fill="#00c000"/>
<text transform="translate(660.23 1023.59) scale(0.9300 1)" font-size="10.19" font-weight="bold" stroke="#000" stroke-width="0.05" text-anchor="middle" fill="#000" font-family="'DejaVu Sans','Liberation Sans',sans-serif">+</text>
<text transform="translate(9.00 1037.82) scale(1.0110 1)" font-size="10.19" stroke="#000" stroke-width="0.25" fill="#000" font-family="'DejaVu Sans','Liberation Sans',sans-serif">Choi et al., 2019</text>
<text transform="translate(200.40 1037.82) scale(0.9500 1)" font-size="10.19" stroke="#000" stroke-width="0.25" text-anchor="end" fill="#000" font-family="'DejaVu Sans','Liberation Sans',sans-serif">5.5%</text>
<text x="319.50" y="1037.82" font-size="10.19" stroke="#000" stroke-width="0.25" text-anchor="end" fill="#000" font-family="'DejaVu Sans','Liberation Sans',sans-serif"><tspan font-size="15.28" dy="1.17" stroke-width="0" letter-spacing="0.82">-</tspan><tspan dy="-1.17">1.30 [</tspan><tspan font-size="15.28" dy="1.17" stroke-width="0" letter-spacing="0.82">-</tspan><tspan dy="-1.17">7.99, 5.39]</tspan></text>
<line x1="434.83" y1="1032.39" x2="450.19" y2="1032.39" stroke="#111" stroke-width="1.13"/>
<rect x="441.41" y="1032.10" width="2.60" height="2.60" fill="#00cc00"/>
<circle cx="574.00" cy="1033.52" r="6.23" fill="#00c000"/>
<text transform="translate(575.81 1037.71) scale(0.9300 1)" font-size="10.19" font-weight="bold" stroke="#000" stroke-width="0.05" text-anchor="middle" fill="#000" font-family="'DejaVu Sans','Liberation Sans',sans-serif">+</text>
<circle cx="588.07" cy="1033.52" r="6.23" fill="#00c000"/>
<text transform="translate(589.88 1037.71) scale(0.9300 1)" font-size="10.19" font-weight="bold" stroke="#000" stroke-width="0.05" text-anchor="middle" fill="#000" font-family="'DejaVu Sans','Liberation Sans',sans-serif">+</text>
<circle cx="602.14" cy="1033.52" r="6.23" fill="#00c000"/>
<text transform="translate(603.95 1037.71) scale(0.9300 1)" font-size="10.19" font-weight="bold" stroke="#000" stroke-width="0.05" text-anchor="middle" fill="#000" font-family="'DejaVu Sans','Liberation Sans',sans-serif">+</text>
<circle cx="616.21" cy="1033.52" r="6.23" fill="#00c000"/>
<text transform="translate(618.02 1037.71) scale(0.9300 1)" font-size="10.19" font-weight="bold" stroke="#000" stroke-width="0.05" text-anchor="middle" fill="#000" font-family="'DejaVu Sans','Liberation Sans',sans-serif">+</text>
<circle cx="630.28" cy="1033.52" r="6.23" fill="#00c000"/>
<text transform="translate(632.09 1037.71) scale(0.9300 1)" font-size="10.19" font-weight="bold" stroke="#000" stroke-width="0.05" text-anchor="middle" fill="#000" font-family="'DejaVu Sans','Liberation Sans',sans-serif">+</text>
<circle cx="644.35" cy="1033.52" r="6.23" fill="#00c000"/>
<text transform="translate(646.16 1037.71) scale(0.9300 1)" font-size="10.19" font-weight="bold" stroke="#000" stroke-width="0.05" text-anchor="middle" fill="#000" font-family="'DejaVu Sans','Liberation Sans',sans-serif">+</text>
<circle cx="658.42" cy="1033.52" r="6.23" fill="#00c000"/>
<text transform="translate(660.23 1037.71) scale(0.9300 1)" font-size="10.19" font-weight="bold" stroke="#000" stroke-width="0.05" text-anchor="middle" fill="#000" font-family="'DejaVu Sans','Liberation Sans',sans-serif">+</text>
<text transform="translate(9.00 1051.94) scale(1.0068 1)" font-size="10.19" stroke="#000" stroke-width="0.25" fill="#000" font-family="'DejaVu Sans','Liberation Sans',sans-serif">Epitropoulos et al., 2016</text>
<text transform="translate(200.40 1051.94) scale(0.9500 1)" font-size="10.19" stroke="#000" stroke-width="0.25" text-anchor="end" fill="#000" font-family="'DejaVu Sans','Liberation Sans',sans-serif">6.8%</text>
<text x="319.50" y="1051.94" font-size="10.19" stroke="#000" stroke-width="0.25" text-anchor="end" fill="#000" font-family="'DejaVu Sans','Liberation Sans',sans-serif"><tspan font-size="15.28" dy="1.17" stroke-width="0" letter-spacing="0.82">-</tspan><tspan dy="-1.17">6.50 [</tspan><tspan font-size="15.28" dy="1.17" stroke-width="0" letter-spacing="0.82">-</tspan><tspan dy="-1.17">12.56, </tspan><tspan font-size="15.28" dy="1.17" stroke-width="0" letter-spacing="0.82">-</tspan><tspan dy="-1.17">0.44]</tspan></text>
<line x1="429.58" y1="1046.51" x2="443.49" y2="1046.51" stroke="#111" stroke-width="1.13"/>
<rect x="435.29" y="1046.08" width="2.89" height="2.89" fill="#00cc00"/>
<circle cx="574.00" cy="1047.64" r="6.23" fill="#00c000"/>
<text transform="translate(575.81 1051.83) scale(0.9300 1)" font-size="10.19" font-weight="bold" stroke="#000" stroke-width="0.05" text-anchor="middle" fill="#000" font-family="'DejaVu Sans','Liberation Sans',sans-serif">+</text>
<circle cx="588.07" cy="1047.64" r="6.23" fill="#00c000"/>
<text transform="translate(589.88 1051.83) scale(0.9300 1)" font-size="10.19" font-weight="bold" stroke="#000" stroke-width="0.05" text-anchor="middle" fill="#000" font-family="'DejaVu Sans','Liberation Sans',sans-serif">+</text>
<circle cx="602.14" cy="1047.64" r="6.23" fill="#00c000"/>
<text transform="translate(603.95 1051.83) scale(0.9300 1)" font-size="10.19" font-weight="bold" stroke="#000" stroke-width="0.05" text-anchor="middle" fill="#000" font-family="'DejaVu Sans','Liberation Sans',sans-serif">+</text>
<circle cx="616.21" cy="1047.64" r="6.23" fill="#00c000"/>
<text transform="translate(618.02 1051.83) scale(0.9300 1)" font-size="10.19" font-weight="bold" stroke="#000" stroke-width="0.05" text-anchor="middle" fill="#000" font-family="'DejaVu Sans','Liberation Sans',sans-serif">+</text>
<circle cx="630.28" cy="1047.64" r="6.23" fill="#00c000"/>
<text transform="translate(632.09 1051.83) scale(0.9300 1)" font-size="10.19" font-weight="bold" stroke="#000" stroke-width="0.05" text-anchor="middle" fill="#000" font-family="'DejaVu Sans','Liberation Sans',sans-serif">+</text>
<circle cx="644.35" cy="1047.64" r="6.23" fill="#00c000"/>
<text transform="translate(646.16 1051.83) scale(0.9300 1)" font-size="10.19" font-weight="bold" stroke="#000" stroke-width="0.05" text-anchor="middle" fill="#000" font-family="'DejaVu Sans','Liberation Sans',sans-serif">+</text>
<circle cx="658.42" cy="1047.64" r="6.23" fill="#00c000"/>
<text transform="translate(660.23 1051.83) scale(0.9300 1)" font-size="10.19" font-weight="bold" stroke="#000" stroke-width="0.05" text-anchor="middle" fill="#000" font-family="'DejaVu Sans','Liberation Sans',sans-serif">+</text>
<text transform="translate(9.00 1066.06) scale(0.9874 1)" font-size="10.19" stroke="#000" stroke-width="0.25" fill="#000" font-family="'DejaVu Sans','Liberation Sans',sans-serif">Goyal et al., 2017</text>
<text transform="translate(200.40 1066.06) scale(0.9500 1)" font-size="10.19" stroke="#000" stroke-width="0.25" text-anchor="end" fill="#000" font-family="'DejaVu Sans','Liberation Sans',sans-serif">31.8%</text>
<text x="319.50" y="1066.06" font-size="10.19" stroke="#000" stroke-width="0.25" text-anchor="end" fill="#000" font-family="'DejaVu Sans','Liberation Sans',sans-serif"><tspan font-size="15.28" dy="1.17" stroke-width="0" letter-spacing="0.82">-</tspan><tspan dy="-1.17">6.00 [</tspan><tspan font-size="15.28" dy="1.17" stroke-width="0" letter-spacing="0.82">-</tspan><tspan dy="-1.17">8.79, </tspan><tspan font-size="15.28" dy="1.17" stroke-width="0" letter-spacing="0.82">-</tspan><tspan dy="-1.17">3.21]</tspan></text>
<line x1="433.91" y1="1060.63" x2="440.31" y2="1060.63" stroke="#111" stroke-width="1.13"/>
<rect x="434.18" y="1058.52" width="6.26" height="6.26" fill="#00cc00"/>
<circle cx="574.00" cy="1061.76" r="6.23" fill="#00c000"/>
<text transform="translate(575.81 1065.95) scale(0.9300 1)" font-size="10.19" font-weight="bold" stroke="#000" stroke-width="0.05" text-anchor="middle" fill="#000" font-family="'DejaVu Sans','Liberation Sans',sans-serif">+</text>
<circle cx="588.07" cy="1061.76" r="6.23" fill="#00c000"/>
<text transform="translate(589.88 1065.95) scale(0.9300 1)" font-size="10.19" font-weight="bold" stroke="#000" stroke-width="0.05" text-anchor="middle" fill="#000" font-family="'DejaVu Sans','Liberation Sans',sans-serif">+</text>
<circle cx="602.14" cy="1061.76" r="6.23" fill="#00c000"/>
<text transform="translate(603.95 1065.95) scale(0.9300 1)" font-size="10.19" font-weight="bold" stroke="#000" stroke-width="0.05" text-anchor="middle" fill="#000" font-family="'DejaVu Sans','Liberation Sans',sans-serif">+</text>
<circle cx="616.21" cy="1061.76" r="6.23" fill="#00c000"/>
<text transform="translate(618.02 1065.95) scale(0.9300 1)" font-size="10.19" font-weight="bold" stroke="#000" stroke-width="0.05" text-anchor="middle" fill="#000" font-family="'DejaVu Sans','Liberation Sans',sans-serif">+</text>
<circle cx="630.28" cy="1061.76" r="6.23" fill="#00c000"/>
<text transform="translate(632.09 1065.95) scale(0.9300 1)" font-size="10.19" font-weight="bold" stroke="#000" stroke-width="0.05" text-anchor="middle" fill="#000" font-family="'DejaVu Sans','Liberation Sans',sans-serif">+</text>
<circle cx="644.35" cy="1061.76" r="6.23" fill="#00c000"/>
<text transform="translate(646.16 1065.95) scale(0.9300 1)" font-size="10.19" font-weight="bold" stroke="#000" stroke-width="0.05" text-anchor="middle" fill="#000" font-family="'DejaVu Sans','Liberation Sans',sans-serif">+</text>
<circle cx="658.42" cy="1061.76" r="6.23" fill="#e0e000"/>
<text transform="translate(657.85 1065.95) scale(0.9300 1)" font-size="10.19" font-weight="bold" stroke="#000" stroke-width="0.05" text-anchor="middle" fill="#000" font-family="'DejaVu Sans','Liberation Sans',sans-serif">?</text>
<text transform="translate(9.00 1080.18) scale(0.9934 1)" font-size="10.19" stroke="#000" stroke-width="0.25" fill="#000" font-family="'DejaVu Sans','Liberation Sans',sans-serif">Kangari et al., 2013</text>
<text transform="translate(200.40 1080.18) scale(0.9500 1)" font-size="10.19" stroke="#000" stroke-width="0.25" text-anchor="end" fill="#000" font-family="'DejaVu Sans','Liberation Sans',sans-serif">4.6%</text>
<text x="319.50" y="1080.18" font-size="10.19" stroke="#000" stroke-width="0.25" text-anchor="end" fill="#000" font-family="'DejaVu Sans','Liberation Sans',sans-serif">1.10 [<tspan font-size="15.28" dy="1.17" stroke-width="0" letter-spacing="0.82">-</tspan><tspan dy="-1.17">6.27, 8.47]</tspan></text>
<line x1="436.80" y1="1074.75" x2="453.72" y2="1074.75" stroke="#111" stroke-width="1.13"/>
<rect x="444.27" y="1074.58" width="2.38" height="2.38" fill="#00cc00"/>
<circle cx="574.00" cy="1075.88" r="6.23" fill="#00c000"/>
<text transform="translate(575.81 1080.07) scale(0.9300 1)" font-size="10.19" font-weight="bold" stroke="#000" stroke-width="0.05" text-anchor="middle" fill="#000" font-family="'DejaVu Sans','Liberation Sans',sans-serif">+</text>
<circle cx="588.07" cy="1075.88" r="6.23" fill="#00c000"/>
<text transform="translate(589.88 1080.07) scale(0.9300 1)" font-size="10.19" font-weight="bold" stroke="#000" stroke-width="0.05" text-anchor="middle" fill="#000" font-family="'DejaVu Sans','Liberation Sans',sans-serif">+</text>
<circle cx="602.14" cy="1075.88" r="6.23" fill="#00c000"/>
<text transform="translate(603.95 1080.07) scale(0.9300 1)" font-size="10.19" font-weight="bold" stroke="#000" stroke-width="0.05" text-anchor="middle" fill="#000" font-family="'DejaVu Sans','Liberation Sans',sans-serif">+</text>
<circle cx="616.21" cy="1075.88" r="6.23" fill="#00c000"/>
<text transform="translate(618.02 1080.07) scale(0.9300 1)" font-size="10.19" font-weight="bold" stroke="#000" stroke-width="0.05" text-anchor="middle" fill="#000" font-family="'DejaVu Sans','Liberation Sans',sans-serif">+</text>
<circle cx="630.28" cy="1075.88" r="6.23" fill="#00c000"/>
<text transform="translate(632.09 1080.07) scale(0.9300 1)" font-size="10.19" font-weight="bold" stroke="#000" stroke-width="0.05" text-anchor="middle" fill="#000" font-family="'DejaVu Sans','Liberation Sans',sans-serif">+</text>
<circle cx="644.35" cy="1075.88" r="6.23" fill="#00c000"/>
<text transform="translate(646.16 1080.07) scale(0.9300 1)" font-size="10.19" font-weight="bold" stroke="#000" stroke-width="0.05" text-anchor="middle" fill="#000" font-family="'DejaVu Sans','Liberation Sans',sans-serif">+</text>
<circle cx="658.42" cy="1075.88" r="6.23" fill="#e0e000"/>
<text transform="translate(657.85 1080.07) scale(0.9300 1)" font-size="10.19" font-weight="bold" stroke="#000" stroke-width="0.05" text-anchor="middle" fill="#000" font-family="'DejaVu Sans','Liberation Sans',sans-serif">?</text>
<text transform="translate(9.00 1094.30) scale(0.9972 1)" font-size="10.19" stroke="#000" stroke-width="0.25" fill="#000" font-family="'DejaVu Sans','Liberation Sans',sans-serif">Larmo et al., 2010</text>
<text transform="translate(200.40 1094.30) scale(0.9500 1)" font-size="10.19" stroke="#000" stroke-width="0.25" text-anchor="end" fill="#000" font-family="'DejaVu Sans','Liberation Sans',sans-serif">11.2%</text>
<text x="319.50" y="1094.30" font-size="10.19" stroke="#000" stroke-width="0.25" text-anchor="end" fill="#000" font-family="'DejaVu Sans','Liberation Sans',sans-serif">1.00 [<tspan font-size="15.28" dy="1.17" stroke-width="0" letter-spacing="0.82">-</tspan><tspan dy="-1.17">3.71, 5.71]</tspan></text>
<line x1="439.74" y1="1088.87" x2="450.56" y2="1088.87" stroke="#111" stroke-width="1.13"/>
<rect x="443.49" y="1088.03" width="3.71" height="3.71" fill="#00cc00"/>
<circle cx="574.00" cy="1090.00" r="6.23" fill="#e0e000"/>
<text transform="translate(573.43 1094.19) scale(0.9300 1)" font-size="10.19" font-weight="bold" stroke="#000" stroke-width="0.05" text-anchor="middle" fill="#000" font-family="'DejaVu Sans','Liberation Sans',sans-serif">?</text>
<circle cx="588.07" cy="1090.00" r="6.23" fill="#00c000"/>
<text transform="translate(589.88 1094.19) scale(0.9300 1)" font-size="10.19" font-weight="bold" stroke="#000" stroke-width="0.05" text-anchor="middle" fill="#000" font-family="'DejaVu Sans','Liberation Sans',sans-serif">+</text>
<circle cx="602.14" cy="1090.00" r="6.23" fill="#00c000"/>
<text transform="translate(603.95 1094.19) scale(0.9300 1)" font-size="10.19" font-weight="bold" stroke="#000" stroke-width="0.05" text-anchor="middle" fill="#000" font-family="'DejaVu Sans','Liberation Sans',sans-serif">+</text>
<circle cx="616.21" cy="1090.00" r="6.23" fill="#00c000"/>
<text transform="translate(618.02 1094.19) scale(0.9300 1)" font-size="10.19" font-weight="bold" stroke="#000" stroke-width="0.05" text-anchor="middle" fill="#000" font-family="'DejaVu Sans','Liberation Sans',sans-serif">+</text>
<circle cx="630.28" cy="1090.00" r="6.23" fill="#00c000"/>
<text transform="translate(632.09 1094.19) scale(0.9300 1)" font-size="10.19" font-weight="bold" stroke="#000" stroke-width="0.05" text-anchor="middle" fill="#000" font-family="'DejaVu Sans','Liberation Sans',sans-serif">+</text>
<circle cx="644.35" cy="1090.00" r="6.23" fill="#e0e000"/>
<text transform="translate(643.78 1094.19) scale(0.9300 1)" font-size="10.19" font-weight="bold" stroke="#000" stroke-width="0.05" text-anchor="middle" fill="#000" font-family="'DejaVu Sans','Liberation Sans',sans-serif">?</text>
<circle cx="658.42" cy="1090.00" r="6.23" fill="#e0e000"/>
<text transform="translate(657.85 1094.19) scale(0.9300 1)" font-size="10.19" font-weight="bold" stroke="#000" stroke-width="0.05" text-anchor="middle" fill="#000" font-family="'DejaVu Sans','Liberation Sans',sans-serif">?</text>
<text transform="translate(9.00 1108.42) scale(0.9953 1)" font-size="10.19" stroke="#000" stroke-width="0.25" fill="#000" font-family="'DejaVu Sans','Liberation Sans',sans-serif">Maguire et al., 2018</text>
<text transform="translate(200.40 1108.42) scale(0.9500 1)" font-size="10.19" stroke="#000" stroke-width="0.25" text-anchor="end" fill="#000" font-family="'DejaVu Sans','Liberation Sans',sans-serif">26.3%</text>
<text x="319.50" y="1108.42" font-size="10.19" stroke="#000" stroke-width="0.25" text-anchor="end" fill="#000" font-family="'DejaVu Sans','Liberation Sans',sans-serif"><tspan font-size="15.28" dy="1.17" stroke-width="0" letter-spacing="0.82">-</tspan><tspan dy="-1.17">1.30 [</tspan><tspan font-size="15.28" dy="1.17" stroke-width="0" letter-spacing="0.82">-</tspan><tspan dy="-1.17">4.37, 1.77]</tspan></text>
<line x1="438.98" y1="1102.99" x2="446.03" y2="1102.99" stroke="#111" stroke-width="1.13"/>
<rect x="439.86" y="1101.16" width="5.69" height="5.69" fill="#00cc00"/>
<circle cx="574.00" cy="1104.12" r="6.23" fill="#00c000"/>
<text transform="translate(575.81 1108.31) scale(0.9300 1)" font-size="10.19" font-weight="bold" stroke="#000" stroke-width="0.05" text-anchor="middle" fill="#000" font-family="'DejaVu Sans','Liberation Sans',sans-serif">+</text>
<circle cx="588.07" cy="1104.12" r="6.23" fill="#cc0000"/>
<text transform="translate(588.86 1106.95) scale(0.7800 1)" font-size="10.19" font-weight="bold" text-anchor="middle" fill="#400" font-family="'DejaVu Sans','Liberation Sans',sans-serif">−</text>
<circle cx="602.14" cy="1104.12" r="6.23" fill="#00c000"/>
<text transform="translate(603.95 1108.31) scale(0.9300 1)" font-size="10.19" font-weight="bold" stroke="#000" stroke-width="0.05" text-anchor="middle" fill="#000" font-family="'DejaVu Sans','Liberation Sans',sans-serif">+</text>
<circle cx="616.21" cy="1104.12" r="6.23" fill="#00c000"/>
<text transform="translate(618.02 1108.31) scale(0.9300 1)" font-size="10.19" font-weight="bold" stroke="#000" stroke-width="0.05" text-anchor="middle" fill="#000" font-family="'DejaVu Sans','Liberation Sans',sans-serif">+</text>
<circle cx="630.28" cy="1104.12" r="6.23" fill="#00c000"/>
<text transform="translate(632.09 1108.31) scale(0.9300 1)" font-size="10.19" font-weight="bold" stroke="#000" stroke-width="0.05" text-anchor="middle" fill="#000" font-family="'DejaVu Sans','Liberation Sans',sans-serif">+</text>
<circle cx="644.35" cy="1104.12" r="6.23" fill="#00c000"/>
<text transform="translate(646.16 1108.31) scale(0.9300 1)" font-size="10.19" font-weight="bold" stroke="#000" stroke-width="0.05" text-anchor="middle" fill="#000" font-family="'DejaVu Sans','Liberation Sans',sans-serif">+</text>
<circle cx="658.42" cy="1104.12" r="6.23" fill="#00c000"/>
<text transform="translate(660.23 1108.31) scale(0.9300 1)" font-size="10.19" font-weight="bold" stroke="#000" stroke-width="0.05" text-anchor="middle" fill="#000" font-family="'DejaVu Sans','Liberation Sans',sans-serif">+</text>
<text transform="translate(9.00 1122.54) scale(0.9944 1)" font-size="10.19" stroke="#000" stroke-width="0.25" fill="#000" font-family="'DejaVu Sans','Liberation Sans',sans-serif">Shin et al., 2010</text>
<text transform="translate(200.40 1122.54) scale(0.9500 1)" font-size="10.19" stroke="#000" stroke-width="0.25" text-anchor="end" fill="#000" font-family="'DejaVu Sans','Liberation Sans',sans-serif">1.7%</text>
<text x="319.50" y="1122.54" font-size="10.19" stroke="#000" stroke-width="0.25" text-anchor="end" fill="#000" font-family="'DejaVu Sans','Liberation Sans',sans-serif"><tspan font-size="15.28" dy="1.17" stroke-width="0" letter-spacing="0.82">-</tspan><tspan dy="-1.17">5.36 [</tspan><tspan font-size="15.28" dy="1.17" stroke-width="0" letter-spacing="0.82">-</tspan><tspan dy="-1.17">17.47, 6.75]</tspan></text>
<line x1="423.94" y1="1117.11" x2="451.75" y2="1117.11" stroke="#111" stroke-width="1.13"/>
<rect x="436.97" y="1117.05" width="2.15" height="2.15" fill="#00cc00"/>
<circle cx="574.00" cy="1118.24" r="6.23" fill="#00c000"/>
<text transform="translate(575.81 1122.43) scale(0.9300 1)" font-size="10.19" font-weight="bold" stroke="#000" stroke-width="0.05" text-anchor="middle" fill="#000" font-family="'DejaVu Sans','Liberation Sans',sans-serif">+</text>
<circle cx="588.07" cy="1118.24" r="6.23" fill="#00c000"/>
<text transform="translate(589.88 1122.43) scale(0.9300 1)" font-size="10.19" font-weight="bold" stroke="#000" stroke-width="0.05" text-anchor="middle" fill="#000" font-family="'DejaVu Sans','Liberation Sans',sans-serif">+</text>
<circle cx="602.14" cy="1118.24" r="6.23" fill="#cc0000"/>
<text transform="translate(602.93 1121.07) scale(0.7800 1)" font-size="10.19" font-weight="bold" text-anchor="middle" fill="#400" font-family="'DejaVu Sans','Liberation Sans',sans-serif">−</text>
<circle cx="616.21" cy="1118.24" r="6.23" fill="#00c000"/>
<text transform="translate(618.02 1122.43) scale(0.9300 1)" font-size="10.19" font-weight="bold" stroke="#000" stroke-width="0.05" text-anchor="middle" fill="#000" font-family="'DejaVu Sans','Liberation Sans',sans-serif">+</text>
<circle cx="630.28" cy="1118.24" r="6.23" fill="#00c000"/>
<text transform="translate(632.09 1122.43) scale(0.9300 1)" font-size="10.19" font-weight="bold" stroke="#000" stroke-width="0.05" text-anchor="middle" fill="#000" font-family="'DejaVu Sans','Liberation Sans',sans-serif">+</text>
<circle cx="644.35" cy="1118.24" r="6.23" fill="#00c000"/>
<text transform="translate(646.16 1122.43) scale(0.9300 1)" font-size="10.19" font-weight="bold" stroke="#000" stroke-width="0.05" text-anchor="middle" fill="#000" font-family="'DejaVu Sans','Liberation Sans',sans-serif">+</text>
<circle cx="658.42" cy="1118.24" r="6.23" fill="#00c000"/>
<text transform="translate(660.23 1122.43) scale(0.9300 1)" font-size="10.19" font-weight="bold" stroke="#000" stroke-width="0.05" text-anchor="middle" fill="#000" font-family="'DejaVu Sans','Liberation Sans',sans-serif">+</text>
<text transform="translate(9.00 1136.66) scale(1.0203 1)" font-size="10.19" stroke="#000" stroke-width="0.25" fill="#000" font-family="'DejaVu Sans','Liberation Sans',sans-serif">Shokoohi-Rad et al., 2020</text>
<text transform="translate(200.40 1136.66) scale(0.9500 1)" font-size="10.19" stroke="#000" stroke-width="0.25" text-anchor="end" fill="#000" font-family="'DejaVu Sans','Liberation Sans',sans-serif">3.3%</text>
<text x="319.50" y="1136.66" font-size="10.19" stroke="#000" stroke-width="0.25" text-anchor="end" fill="#000" font-family="'DejaVu Sans','Liberation Sans',sans-serif"><tspan font-size="15.28" dy="1.17" stroke-width="0" letter-spacing="0.82">-</tspan><tspan dy="-1.17">2.35 [</tspan><tspan font-size="15.28" dy="1.17" stroke-width="0" letter-spacing="0.82">-</tspan><tspan dy="-1.17">11.07, 6.37]</tspan></text>
<line x1="431.29" y1="1131.23" x2="451.31" y2="1131.23" stroke="#111" stroke-width="1.13"/>
<rect x="440.43" y="1131.17" width="2.15" height="2.15" fill="#00cc00"/>
<circle cx="574.00" cy="1132.36" r="6.23" fill="#00c000"/>
<text transform="translate(575.81 1136.55) scale(0.9300 1)" font-size="10.19" font-weight="bold" stroke="#000" stroke-width="0.05" text-anchor="middle" fill="#000" font-family="'DejaVu Sans','Liberation Sans',sans-serif">+</text>
<circle cx="588.07" cy="1132.36" r="6.23" fill="#00c000"/>
<text transform="translate(589.88 1136.55) scale(0.9300 1)" font-size="10.19" font-weight="bold" stroke="#000" stroke-width="0.05" text-anchor="middle" fill="#000" font-family="'DejaVu Sans','Liberation Sans',sans-serif">+</text>
<circle cx="602.14" cy="1132.36" r="6.23" fill="#00c000"/>
<text transform="translate(603.95 1136.55) scale(0.9300 1)" font-size="10.19" font-weight="bold" stroke="#000" stroke-width="0.05" text-anchor="middle" fill="#000" font-family="'DejaVu Sans','Liberation Sans',sans-serif">+</text>
<circle cx="616.21" cy="1132.36" r="6.23" fill="#00c000"/>
<text transform="translate(618.02 1136.55) scale(0.9300 1)" font-size="10.19" font-weight="bold" stroke="#000" stroke-width="0.05" text-anchor="middle" fill="#000" font-family="'DejaVu Sans','Liberation Sans',sans-serif">+</text>
<circle cx="630.28" cy="1132.36" r="6.23" fill="#e0e000"/>
<text transform="translate(629.71 1136.55) scale(0.9300 1)" font-size="10.19" font-weight="bold" stroke="#000" stroke-width="0.05" text-anchor="middle" fill="#000" font-family="'DejaVu Sans','Liberation Sans',sans-serif">?</text>
<circle cx="644.35" cy="1132.36" r="6.23" fill="#00c000"/>
<text transform="translate(646.16 1136.55) scale(0.9300 1)" font-size="10.19" font-weight="bold" stroke="#000" stroke-width="0.05" text-anchor="middle" fill="#000" font-family="'DejaVu Sans','Liberation Sans',sans-serif">+</text>
<circle cx="658.42" cy="1132.36" r="6.23" fill="#00c000"/>
<text transform="translate(660.23 1136.55) scale(0.9300 1)" font-size="10.19" font-weight="bold" stroke="#000" stroke-width="0.05" text-anchor="middle" fill="#000" font-family="'DejaVu Sans','Liberation Sans',sans-serif">+</text>
<text transform="translate(9.00 1150.78) scale(0.9979 1)" font-size="10.19" stroke="#000" stroke-width="0.25" fill="#000" font-family="'DejaVu Sans','Liberation Sans',sans-serif">Xue et al., 2020 T1</text>
<text transform="translate(200.40 1150.78) scale(0.9500 1)" font-size="10.19" stroke="#000" stroke-width="0.25" text-anchor="end" fill="#000" font-family="'DejaVu Sans','Liberation Sans',sans-serif">2.5%</text>
<text x="319.50" y="1150.78" font-size="10.19" stroke="#000" stroke-width="0.25" text-anchor="end" fill="#000" font-family="'DejaVu Sans','Liberation Sans',sans-serif">10.00 [<tspan font-size="15.28" dy="1.17" stroke-width="0" letter-spacing="0.82">-</tspan><tspan dy="-1.17">0.01, 20.01]</tspan></text>
<line x1="443.99" y1="1145.35" x2="466.97" y2="1145.35" stroke="#111" stroke-width="1.13"/>
<rect x="454.60" y="1145.29" width="2.15" height="2.15" fill="#00cc00"/>
<circle cx="574.00" cy="1146.48" r="6.23" fill="#00c000"/>
<text transform="translate(575.81 1150.67) scale(0.9300 1)" font-size="10.19" font-weight="bold" stroke="#000" stroke-width="0.05" text-anchor="middle" fill="#000" font-family="'DejaVu Sans','Liberation Sans',sans-serif">+</text>
<circle cx="588.07" cy="1146.48" r="6.23" fill="#00c000"/>
<text transform="translate(589.88 1150.67) scale(0.9300 1)" font-size="10.19" font-weight="bold" stroke="#000" stroke-width="0.05" text-anchor="middle" fill="#000" font-family="'DejaVu Sans','Liberation Sans',sans-serif">+</text>
<circle cx="602.14" cy="1146.48" r="6.23" fill="#00c000"/>
<text transform="translate(603.95 1150.67) scale(0.9300 1)" font-size="10.19" font-weight="bold" stroke="#000" stroke-width="0.05" text-anchor="middle" fill="#000" font-family="'DejaVu Sans','Liberation Sans',sans-serif">+</text>
<circle cx="616.21" cy="1146.48" r="6.23" fill="#00c000"/>
<text transform="translate(618.02 1150.67) scale(0.9300 1)" font-size="10.19" font-weight="bold" stroke="#000" stroke-width="0.05" text-anchor="middle" fill="#000" font-family="'DejaVu Sans','Liberation Sans',sans-serif">+</text>
<circle cx="630.28" cy="1146.48" r="6.23" fill="#00c000"/>
<text transform="translate(632.09 1150.67) scale(0.9300 1)" font-size="10.19" font-weight="bold" stroke="#000" stroke-width="0.05" text-anchor="middle" fill="#000" font-family="'DejaVu Sans','Liberation Sans',sans-serif">+</text>
<circle cx="644.35" cy="1146.48" r="6.23" fill="#00c000"/>
<text transform="translate(646.16 1150.67) scale(0.9300 1)" font-size="10.19" font-weight="bold" stroke="#000" stroke-width="0.05" text-anchor="middle" fill="#000" font-family="'DejaVu Sans','Liberation Sans',sans-serif">+</text>
<circle cx="658.42" cy="1146.48" r="6.23" fill="#00c000"/>
<text transform="translate(660.23 1150.67) scale(0.9300 1)" font-size="10.19" font-weight="bold" stroke="#000" stroke-width="0.05" text-anchor="middle" fill="#000" font-family="'DejaVu Sans','Liberation Sans',sans-serif">+</text>
<text transform="translate(9.00 1164.90) scale(0.9979 1)" font-size="10.19" stroke="#000" stroke-width="0.25" fill="#000" font-family="'DejaVu Sans','Liberation Sans',sans-serif">Xue et al., 2020 T2</text>
<text transform="translate(200.40 1164.90) scale(0.9500 1)" font-size="10.19" stroke="#000" stroke-width="0.25" text-anchor="end" fill="#000" font-family="'DejaVu Sans','Liberation Sans',sans-serif">3.0%</text>
<text x="319.50" y="1164.90" font-size="10.19" stroke="#000" stroke-width="0.25" text-anchor="end" fill="#000" font-family="'DejaVu Sans','Liberation Sans',sans-serif">1.00 [<tspan font-size="15.28" dy="1.17" stroke-width="0" letter-spacing="0.82">-</tspan><tspan dy="-1.17">8.10, 10.10]</tspan></text>
<line x1="434.70" y1="1159.47" x2="455.59" y2="1159.47" stroke="#111" stroke-width="1.13"/>
<rect x="444.27" y="1159.41" width="2.15" height="2.15" fill="#00cc00"/>
<circle cx="574.00" cy="1160.60" r="6.23" fill="#00c000"/>
<text transform="translate(575.81 1164.79) scale(0.9300 1)" font-size="10.19" font-weight="bold" stroke="#000" stroke-width="0.05" text-anchor="middle" fill="#000" font-family="'DejaVu Sans','Liberation Sans',sans-serif">+</text>
<circle cx="588.07" cy="1160.60" r="6.23" fill="#00c000"/>
<text transform="translate(589.88 1164.79) scale(0.9300 1)" font-size="10.19" font-weight="bold" stroke="#000" stroke-width="0.05" text-anchor="middle" fill="#000" font-family="'DejaVu Sans','Liberation Sans',sans-serif">+</text>
<circle cx="602.14" cy="1160.60" r="6.23" fill="#00c000"/>
<text transform="translate(603.95 1164.79) scale(0.9300 1)" font-size="10.19" font-weight="bold" stroke="#000" stroke-width="0.05" text-anchor="middle" fill="#000" font-family="'DejaVu Sans','Liberation Sans',sans-serif">+</text>
<circle cx="616.21" cy="1160.60" r="6.23" fill="#00c000"/>
<text transform="translate(618.02 1164.79) scale(0.9300 1)" font-size="10.19" font-weight="bold" stroke="#000" stroke-width="0.05" text-anchor="middle" fill="#000" font-family="'DejaVu Sans','Liberation Sans',sans-serif">+</text>
<circle cx="630.28" cy="1160.60" r="6.23" fill="#00c000"/>
<text transform="translate(632.09 1164.79) scale(0.9300 1)" font-size="10.19" font-weight="bold" stroke="#000" stroke-width="0.05" text-anchor="middle" fill="#000" font-family="'DejaVu Sans','Liberation Sans',sans-serif">+</text>
<circle cx="644.35" cy="1160.60" r="6.23" fill="#00c000"/>
<text transform="translate(646.16 1164.79) scale(0.9300 1)" font-size="10.19" font-weight="bold" stroke="#000" stroke-width="0.05" text-anchor="middle" fill="#000" font-family="'DejaVu Sans','Liberation Sans',sans-serif">+</text>
<circle cx="658.42" cy="1160.60" r="6.23" fill="#00c000"/>
<text transform="translate(660.23 1164.79) scale(0.9300 1)" font-size="10.19" font-weight="bold" stroke="#000" stroke-width="0.05" text-anchor="middle" fill="#000" font-family="'DejaVu Sans','Liberation Sans',sans-serif">+</text>
<text transform="translate(9.00 1191.20) scale(0.9630 1)" font-size="10.19" font-weight="bold" stroke="#000" stroke-width="0.15" fill="#000" font-family="'DejaVu Sans','Liberation Sans',sans-serif">Total (95% CI)</text>
<text transform="translate(200.00 1191.20) scale(0.9300 1)" font-size="10.19" font-weight="bold" stroke="#000" stroke-width="0.15" text-anchor="end" fill="#000" font-family="'DejaVu Sans','Liberation Sans',sans-serif">100.0%</text>
<text transform="translate(319.50 1191.20) scale(0.9300 1)" font-size="10.19" font-weight="bold" stroke="#000" stroke-width="0.15" text-anchor="end" fill="#000" font-family="'DejaVu Sans','Liberation Sans',sans-serif"><tspan font-size="15.28" dy="1.17" stroke-width="0" letter-spacing="0.82">-</tspan><tspan dy="-1.17">2.79 [</tspan><tspan font-size="15.28" dy="1.17" stroke-width="0" letter-spacing="0.82">-</tspan><tspan dy="-1.17">4.36, </tspan><tspan font-size="15.28" dy="1.17" stroke-width="0" letter-spacing="0.82">-</tspan><tspan dy="-1.17">1.21]</tspan></text>
<text transform="translate(9.00 1207.40) scale(1.0060 1)" font-size="10.19" stroke="#000" stroke-width="0.25" fill="#000" font-family="'DejaVu Sans','Liberation Sans',sans-serif">Heterogeneity: Chi<tspan dy="-4.19" font-size="7.34">2</tspan><tspan dy="4.19" font-size="7.34">​</tspan> = 20.22, df = 10 (P = 0.03); I<tspan dy="-4.19" font-size="7.34">2</tspan><tspan dy="4.19" font-size="7.34">​</tspan> = 51%</text>
<text transform="translate(9.00 1221.00) scale(1.0100 1)" font-size="10.19" stroke="#000" stroke-width="0.25" fill="#000" font-family="'DejaVu Sans','Liberation Sans',sans-serif">Test for overall effect: Z = 3.46 (P = 0.0005)</text>
<line x1="329.30" y1="1201.30" x2="559.10" y2="1201.30" stroke="#000" stroke-width="1.13"/>
<line x1="329.20" y1="1198.24" x2="329.20" y2="1204.36" stroke="#000" stroke-width="1.13"/>
<text transform="translate(329.50 1213.75) scale(0.9850 1)" font-size="10.19" stroke="#000" stroke-width="0.25" fill="#000" font-family="'DejaVu Sans','Liberation Sans',sans-serif"><tspan font-size="15.28" dy="1.17" stroke-width="0" letter-spacing="0.82">-</tspan><tspan dy="-1.17">100</tspan></text>
<line x1="386.60" y1="1198.24" x2="386.60" y2="1204.36" stroke="#000" stroke-width="1.13"/>
<text transform="translate(386.60 1213.75) scale(0.9850 1)" font-size="10.19" stroke="#000" stroke-width="0.25" text-anchor="middle" fill="#000" font-family="'DejaVu Sans','Liberation Sans',sans-serif"><tspan font-size="15.28" dy="1.17" stroke-width="0" letter-spacing="0.82">-</tspan><tspan dy="-1.17">50</tspan></text>
<line x1="444.00" y1="1198.24" x2="444.00" y2="1204.36" stroke="#000" stroke-width="1.13"/>
<text transform="translate(444.00 1213.75) scale(0.9850 1)" font-size="10.19" stroke="#000" stroke-width="0.25" text-anchor="middle" fill="#000" font-family="'DejaVu Sans','Liberation Sans',sans-serif">0</text>
<line x1="501.40" y1="1198.24" x2="501.40" y2="1204.36" stroke="#000" stroke-width="1.13"/>
<text transform="translate(501.40 1213.75) scale(0.9850 1)" font-size="10.19" stroke="#000" stroke-width="0.25" text-anchor="middle" fill="#000" font-family="'DejaVu Sans','Liberation Sans',sans-serif">50</text>
<line x1="558.80" y1="1198.24" x2="558.80" y2="1204.36" stroke="#000" stroke-width="1.13"/>
<text transform="translate(558.60 1213.75) scale(0.9850 1)" font-size="10.19" stroke="#000" stroke-width="0.25" text-anchor="end" fill="#000" font-family="'DejaVu Sans','Liberation Sans',sans-serif">100</text>
<text transform="translate(441.00 1225.75) scale(0.9750 1)" font-size="10.19" stroke="#000" stroke-width="0.25" text-anchor="end" fill="#000" font-family="'DejaVu Sans','Liberation Sans',sans-serif">Favours active treatment</text>
<text x="449.21" y="1225.75" font-size="10.19" stroke="#000" stroke-width="0.25" fill="#000" font-family="'DejaVu Sans','Liberation Sans',sans-serif">Favours placebo</text>
<path d="M438.99 1188.00 L440.80 1182.00 L442.61 1188.00 L440.80 1194.00 Z" fill="#000"/>
<text transform="translate(9.00 1249.90) scale(0.9960 1)" font-size="10.19" stroke="#000" stroke-width="0.25" fill="#000" font-family="'DejaVu Sans','Liberation Sans',sans-serif">Risk of bias legend</text>
<line x1="9.20" y1="1251.88" x2="106.24" y2="1251.88" stroke="#000" stroke-width="0.96"/>
<text x="9.00" y="1264.20" font-size="10.19" stroke="#000" stroke-width="0.25" fill="#000" font-family="'DejaVu Sans','Liberation Sans',sans-serif">(<tspan font-weight="bold" letter-spacing="-0.62">A</tspan>) Random sequence generation (selection bias)</text>
<text x="9.00" y="1278.27" font-size="10.19" stroke="#000" stroke-width="0.25" fill="#000" font-family="'DejaVu Sans','Liberation Sans',sans-serif">(<tspan font-weight="bold" letter-spacing="-0.62">B</tspan>) Allocation concealment (selection bias)</text>
<text x="9.00" y="1292.34" font-size="10.19" stroke="#000" stroke-width="0.25" fill="#000" font-family="'DejaVu Sans','Liberation Sans',sans-serif">(<tspan font-weight="bold" letter-spacing="-0.62">C</tspan>) Blinding of participants and personnel (performance bias)</text>
<text x="9.00" y="1306.41" font-size="10.19" stroke="#000" stroke-width="0.25" fill="#000" font-family="'DejaVu Sans','Liberation Sans',sans-serif">(<tspan font-weight="bold" letter-spacing="-0.62">D</tspan>) Blinding of outcome assessment (detection bias)</text>
<text x="9.00" y="1320.48" font-size="10.19" stroke="#000" stroke-width="0.25" fill="#000" font-family="'DejaVu Sans','Liberation Sans',sans-serif">(<tspan font-weight="bold" letter-spacing="-0.62">E</tspan>) Incomplete outcome data (attrition bias)</text>
<text x="9.00" y="1334.55" font-size="10.19" stroke="#000" stroke-width="0.25" fill="#000" font-family="'DejaVu Sans','Liberation Sans',sans-serif">(<tspan font-weight="bold" letter-spacing="-0.62">F</tspan>) Selective reporting (reporting bias)</text>
<text x="9.00" y="1348.62" font-size="10.19" stroke="#000" stroke-width="0.25" fill="#000" font-family="'DejaVu Sans','Liberation Sans',sans-serif">(<tspan font-weight="bold" letter-spacing="-0.62">G</tspan>) Other bias</text>
<text transform="translate(342.60 1420.50) scale(0.9850 1)" font-size="21.20" text-anchor="middle" fill="#000" font-family="'Liberation Sans',sans-serif">Corneal Staining</text>
<line x1="0.00" y1="1454.00" x2="685.00" y2="1454.00" stroke="#000" stroke-width="1.30"/>
<text transform="translate(7.80 1450.80) scale(0.9300 1)" font-size="9.45" font-weight="bold" stroke="#000" stroke-width="0.15" fill="#000" font-family="'DejaVu Sans','Liberation Sans',sans-serif">Study or Subgroup</text>
<text transform="translate(168.70 1450.80) scale(0.9300 1)" font-size="9.45" font-weight="bold" stroke="#000" stroke-width="0.15" text-anchor="end" fill="#000" font-family="'DejaVu Sans','Liberation Sans',sans-serif">Weight</text>
<text transform="translate(273.20 1450.80) scale(0.9300 1)" font-size="9.45" font-weight="bold" stroke="#000" stroke-width="0.15" text-anchor="end" fill="#000" font-family="'DejaVu Sans','Liberation Sans',sans-serif">IV, Random, 95% CI</text>
<text transform="translate(221.20 1437.78) scale(0.9300 1)" font-size="9.45" font-weight="bold" stroke="#000" stroke-width="0.15" text-anchor="middle" fill="#000" font-family="'DejaVu Sans','Liberation Sans',sans-serif">Mean Difference</text>
<text transform="translate(461.10 1437.78) scale(0.9300 1)" font-size="9.45" font-weight="bold" stroke="#000" stroke-width="0.15" text-anchor="middle" fill="#000" font-family="'DejaVu Sans','Liberation Sans',sans-serif">Mean Difference</text>
<text transform="translate(461.10 1450.80) scale(0.9300 1)" font-size="9.45" font-weight="bold" stroke="#000" stroke-width="0.15" text-anchor="middle" fill="#000" font-family="'DejaVu Sans','Liberation Sans',sans-serif">IV, Random, 95% CI</text>
<text transform="translate(625.50 1437.78) scale(0.9300 1)" font-size="9.45" font-weight="bold" stroke="#000" stroke-width="0.15" text-anchor="middle" fill="#000" font-family="'DejaVu Sans','Liberation Sans',sans-serif">Risk of Bias</text>
<text transform="translate(583.14 1450.80) scale(0.9300 1)" font-size="9.45" font-weight="bold" stroke="#000" stroke-width="0.15" text-anchor="middle" fill="#000" font-family="'DejaVu Sans','Liberation Sans',sans-serif">A</text>
<text transform="translate(596.21 1450.80) scale(0.9300 1)" font-size="9.45" font-weight="bold" stroke="#000" stroke-width="0.15" text-anchor="middle" fill="#000" font-family="'DejaVu Sans','Liberation Sans',sans-serif">B</text>
<text transform="translate(609.28 1450.80) scale(0.9300 1)" font-size="9.45" font-weight="bold" stroke="#000" stroke-width="0.15" text-anchor="middle" fill="#000" font-family="'DejaVu Sans','Liberation Sans',sans-serif">C</text>
<text transform="translate(622.35 1450.80) scale(0.9300 1)" font-size="9.45" font-weight="bold" stroke="#000" stroke-width="0.15" text-anchor="middle" fill="#000" font-family="'DejaVu Sans','Liberation Sans',sans-serif">D</text>
<text transform="translate(635.42 1450.80) scale(0.9300 1)" font-size="9.45" font-weight="bold" stroke="#000" stroke-width="0.15" text-anchor="middle" fill="#000" font-family="'DejaVu Sans','Liberation Sans',sans-serif">E</text>
<text transform="translate(648.49 1450.80) scale(0.9300 1)" font-size="9.45" font-weight="bold" stroke="#000" stroke-width="0.15" text-anchor="middle" fill="#000" font-family="'DejaVu Sans','Liberation Sans',sans-serif">F</text>
<text transform="translate(661.56 1450.80) scale(0.9300 1)" font-size="9.45" font-weight="bold" stroke="#000" stroke-width="0.15" text-anchor="middle" fill="#000" font-family="'DejaVu Sans','Liberation Sans',sans-serif">G</text>
<line x1="461.10" y1="1454.00" x2="461.10" y2="1567.34" stroke="#000" stroke-width="1.21"/>
<text transform="translate(7.80 1465.70) scale(0.9827 1)" font-size="9.45" stroke="#000" stroke-width="0.25" fill="#000" font-family="'DejaVu Sans','Liberation Sans',sans-serif">Baek et al., 2016</text>
<text transform="translate(169.80 1465.70) scale(0.9500 1)" font-size="9.45" stroke="#000" stroke-width="0.25" text-anchor="end" fill="#000" font-family="'DejaVu Sans','Liberation Sans',sans-serif">20.9%</text>
<text x="273.20" y="1465.70" font-size="9.45" stroke="#000" stroke-width="0.25" text-anchor="end" fill="#000" font-family="'DejaVu Sans','Liberation Sans',sans-serif"><tspan font-size="14.18" dy="1.09" stroke-width="0" letter-spacing="0.76">-</tspan><tspan dy="-1.09">0.20 [</tspan><tspan font-size="14.18" dy="1.09" stroke-width="0" letter-spacing="0.76">-</tspan><tspan dy="-1.09">0.57, 0.17]</tspan></text>
<line x1="415.04" y1="1460.66" x2="474.84" y2="1460.66" stroke="#111" stroke-width="1.05"/>
<rect x="442.79" y="1459.25" width="4.70" height="4.70" fill="#00cc00"/>
<circle cx="582.30" cy="1461.71" r="5.78" fill="#00c000"/>
<text transform="translate(583.98 1465.60) scale(0.9300 1)" font-size="9.45" font-weight="bold" stroke="#000" stroke-width="0.05" text-anchor="middle" fill="#000" font-family="'DejaVu Sans','Liberation Sans',sans-serif">+</text>
<circle cx="595.37" cy="1461.71" r="5.78" fill="#00c000"/>
<text transform="translate(597.05 1465.60) scale(0.9300 1)" font-size="9.45" font-weight="bold" stroke="#000" stroke-width="0.05" text-anchor="middle" fill="#000" font-family="'DejaVu Sans','Liberation Sans',sans-serif">+</text>
<circle cx="608.44" cy="1461.71" r="5.78" fill="#e0e000"/>
<text transform="translate(607.91 1465.60) scale(0.9300 1)" font-size="9.45" font-weight="bold" stroke="#000" stroke-width="0.05" text-anchor="middle" fill="#000" font-family="'DejaVu Sans','Liberation Sans',sans-serif">?</text>
<circle cx="621.51" cy="1461.71" r="5.78" fill="#e0e000"/>
<text transform="translate(620.99 1465.60) scale(0.9300 1)" font-size="9.45" font-weight="bold" stroke="#000" stroke-width="0.05" text-anchor="middle" fill="#000" font-family="'DejaVu Sans','Liberation Sans',sans-serif">?</text>
<circle cx="634.58" cy="1461.71" r="5.78" fill="#e0e000"/>
<text transform="translate(634.05 1465.60) scale(0.9300 1)" font-size="9.45" font-weight="bold" stroke="#000" stroke-width="0.05" text-anchor="middle" fill="#000" font-family="'DejaVu Sans','Liberation Sans',sans-serif">?</text>
<circle cx="647.65" cy="1461.71" r="5.78" fill="#00c000"/>
<text transform="translate(649.33 1465.60) scale(0.9300 1)" font-size="9.45" font-weight="bold" stroke="#000" stroke-width="0.05" text-anchor="middle" fill="#000" font-family="'DejaVu Sans','Liberation Sans',sans-serif">+</text>
<circle cx="660.72" cy="1461.71" r="5.78" fill="#00c000"/>
<text transform="translate(662.40 1465.60) scale(0.9300 1)" font-size="9.45" font-weight="bold" stroke="#000" stroke-width="0.05" text-anchor="middle" fill="#000" font-family="'DejaVu Sans','Liberation Sans',sans-serif">+</text>
<text transform="translate(7.80 1478.68) scale(1.0110 1)" font-size="9.45" stroke="#000" stroke-width="0.25" fill="#000" font-family="'DejaVu Sans','Liberation Sans',sans-serif">Choi et al., 2019</text>
<text transform="translate(169.80 1478.68) scale(0.9500 1)" font-size="9.45" stroke="#000" stroke-width="0.25" text-anchor="end" fill="#000" font-family="'DejaVu Sans','Liberation Sans',sans-serif">21.5%</text>
<text x="273.20" y="1478.68" font-size="9.45" stroke="#000" stroke-width="0.25" text-anchor="end" fill="#000" font-family="'DejaVu Sans','Liberation Sans',sans-serif"><tspan font-size="14.18" dy="1.09" stroke-width="0" letter-spacing="0.76">-</tspan><tspan dy="-1.09">0.40 [</tspan><tspan font-size="14.18" dy="1.09" stroke-width="0" letter-spacing="0.76">-</tspan><tspan dy="-1.09">0.75, </tspan><tspan font-size="14.18" dy="1.09" stroke-width="0" letter-spacing="0.76">-</tspan><tspan dy="-1.09">0.05]</tspan></text>
<line x1="400.50" y1="1473.64" x2="457.06" y2="1473.64" stroke="#111" stroke-width="1.05"/>
<rect x="426.59" y="1472.20" width="4.77" height="4.77" fill="#00cc00"/>
<circle cx="582.30" cy="1474.69" r="5.78" fill="#00c000"/>
<text transform="translate(583.98 1478.58) scale(0.9300 1)" font-size="9.45" font-weight="bold" stroke="#000" stroke-width="0.05" text-anchor="middle" fill="#000" font-family="'DejaVu Sans','Liberation Sans',sans-serif">+</text>
<circle cx="595.37" cy="1474.69" r="5.78" fill="#00c000"/>
<text transform="translate(597.05 1478.58) scale(0.9300 1)" font-size="9.45" font-weight="bold" stroke="#000" stroke-width="0.05" text-anchor="middle" fill="#000" font-family="'DejaVu Sans','Liberation Sans',sans-serif">+</text>
<circle cx="608.44" cy="1474.69" r="5.78" fill="#00c000"/>
<text transform="translate(610.12 1478.58) scale(0.9300 1)" font-size="9.45" font-weight="bold" stroke="#000" stroke-width="0.05" text-anchor="middle" fill="#000" font-family="'DejaVu Sans','Liberation Sans',sans-serif">+</text>
<circle cx="621.51" cy="1474.69" r="5.78" fill="#00c000"/>
<text transform="translate(623.19 1478.58) scale(0.9300 1)" font-size="9.45" font-weight="bold" stroke="#000" stroke-width="0.05" text-anchor="middle" fill="#000" font-family="'DejaVu Sans','Liberation Sans',sans-serif">+</text>
<circle cx="634.58" cy="1474.69" r="5.78" fill="#00c000"/>
<text transform="translate(636.26 1478.58) scale(0.9300 1)" font-size="9.45" font-weight="bold" stroke="#000" stroke-width="0.05" text-anchor="middle" fill="#000" font-family="'DejaVu Sans','Liberation Sans',sans-serif">+</text>
<circle cx="647.65" cy="1474.69" r="5.78" fill="#00c000"/>
<text transform="translate(649.33 1478.58) scale(0.9300 1)" font-size="9.45" font-weight="bold" stroke="#000" stroke-width="0.05" text-anchor="middle" fill="#000" font-family="'DejaVu Sans','Liberation Sans',sans-serif">+</text>
<circle cx="660.72" cy="1474.69" r="5.78" fill="#00c000"/>
<text transform="translate(662.40 1478.58) scale(0.9300 1)" font-size="9.45" font-weight="bold" stroke="#000" stroke-width="0.05" text-anchor="middle" fill="#000" font-family="'DejaVu Sans','Liberation Sans',sans-serif">+</text>
<text transform="translate(7.80 1491.66) scale(0.9963 1)" font-size="9.45" stroke="#000" stroke-width="0.25" fill="#000" font-family="'DejaVu Sans','Liberation Sans',sans-serif">Inoue et al., 2017</text>
<text transform="translate(169.80 1491.66) scale(0.9500 1)" font-size="9.45" stroke="#000" stroke-width="0.25" text-anchor="end" fill="#000" font-family="'DejaVu Sans','Liberation Sans',sans-serif">14.3%</text>
<text x="273.20" y="1491.66" font-size="9.45" stroke="#000" stroke-width="0.25" text-anchor="end" fill="#000" font-family="'DejaVu Sans','Liberation Sans',sans-serif"><tspan font-size="14.18" dy="1.09" stroke-width="0" letter-spacing="0.76">-</tspan><tspan dy="-1.09">0.12 [</tspan><tspan font-size="14.18" dy="1.09" stroke-width="0" letter-spacing="0.76">-</tspan><tspan dy="-1.09">0.70, 0.46]</tspan></text>
<line x1="404.54" y1="1486.62" x2="498.27" y2="1486.62" stroke="#111" stroke-width="1.05"/>
<rect x="449.66" y="1485.62" width="3.89" height="3.89" fill="#00cc00"/>
<circle cx="582.30" cy="1487.67" r="5.78" fill="#e0e000"/>
<text transform="translate(581.77 1491.56) scale(0.9300 1)" font-size="9.45" font-weight="bold" stroke="#000" stroke-width="0.05" text-anchor="middle" fill="#000" font-family="'DejaVu Sans','Liberation Sans',sans-serif">?</text>
<circle cx="595.37" cy="1487.67" r="5.78" fill="#00c000"/>
<text transform="translate(597.05 1491.56) scale(0.9300 1)" font-size="9.45" font-weight="bold" stroke="#000" stroke-width="0.05" text-anchor="middle" fill="#000" font-family="'DejaVu Sans','Liberation Sans',sans-serif">+</text>
<circle cx="608.44" cy="1487.67" r="5.78" fill="#00c000"/>
<text transform="translate(610.12 1491.56) scale(0.9300 1)" font-size="9.45" font-weight="bold" stroke="#000" stroke-width="0.05" text-anchor="middle" fill="#000" font-family="'DejaVu Sans','Liberation Sans',sans-serif">+</text>
<circle cx="621.51" cy="1487.67" r="5.78" fill="#00c000"/>
<text transform="translate(623.19 1491.56) scale(0.9300 1)" font-size="9.45" font-weight="bold" stroke="#000" stroke-width="0.05" text-anchor="middle" fill="#000" font-family="'DejaVu Sans','Liberation Sans',sans-serif">+</text>
<circle cx="634.58" cy="1487.67" r="5.78" fill="#00c000"/>
<text transform="translate(636.26 1491.56) scale(0.9300 1)" font-size="9.45" font-weight="bold" stroke="#000" stroke-width="0.05" text-anchor="middle" fill="#000" font-family="'DejaVu Sans','Liberation Sans',sans-serif">+</text>
<circle cx="647.65" cy="1487.67" r="5.78" fill="#00c000"/>
<text transform="translate(649.33 1491.56) scale(0.9300 1)" font-size="9.45" font-weight="bold" stroke="#000" stroke-width="0.05" text-anchor="middle" fill="#000" font-family="'DejaVu Sans','Liberation Sans',sans-serif">+</text>
<circle cx="660.72" cy="1487.67" r="5.78" fill="#e0e000"/>
<text transform="translate(660.19 1491.56) scale(0.9300 1)" font-size="9.45" font-weight="bold" stroke="#000" stroke-width="0.05" text-anchor="middle" fill="#000" font-family="'DejaVu Sans','Liberation Sans',sans-serif">?</text>
<text transform="translate(7.80 1504.64) scale(0.9953 1)" font-size="9.45" stroke="#000" stroke-width="0.25" fill="#000" font-family="'DejaVu Sans','Liberation Sans',sans-serif">Maguire et al., 2018</text>
<text transform="translate(169.80 1504.64) scale(0.9500 1)" font-size="9.45" stroke="#000" stroke-width="0.25" text-anchor="end" fill="#000" font-family="'DejaVu Sans','Liberation Sans',sans-serif">22.6%</text>
<text x="273.20" y="1504.64" font-size="9.45" stroke="#000" stroke-width="0.25" text-anchor="end" fill="#000" font-family="'DejaVu Sans','Liberation Sans',sans-serif">0.40 [0.08, 0.72]</text>
<line x1="467.56" y1="1499.60" x2="519.28" y2="1499.60" stroke="#111" stroke-width="1.05"/>
<rect x="491.17" y="1498.10" width="4.89" height="4.89" fill="#00cc00"/>
<circle cx="582.30" cy="1500.65" r="5.78" fill="#00c000"/>
<text transform="translate(583.98 1504.54) scale(0.9300 1)" font-size="9.45" font-weight="bold" stroke="#000" stroke-width="0.05" text-anchor="middle" fill="#000" font-family="'DejaVu Sans','Liberation Sans',sans-serif">+</text>
<circle cx="595.37" cy="1500.65" r="5.78" fill="#cc0000"/>
<text transform="translate(596.11 1503.28) scale(0.7800 1)" font-size="9.45" font-weight="bold" text-anchor="middle" fill="#400" font-family="'DejaVu Sans','Liberation Sans',sans-serif">−</text>
<circle cx="608.44" cy="1500.65" r="5.78" fill="#00c000"/>
<text transform="translate(610.12 1504.54) scale(0.9300 1)" font-size="9.45" font-weight="bold" stroke="#000" stroke-width="0.05" text-anchor="middle" fill="#000" font-family="'DejaVu Sans','Liberation Sans',sans-serif">+</text>
<circle cx="621.51" cy="1500.65" r="5.78" fill="#00c000"/>
<text transform="translate(623.19 1504.54) scale(0.9300 1)" font-size="9.45" font-weight="bold" stroke="#000" stroke-width="0.05" text-anchor="middle" fill="#000" font-family="'DejaVu Sans','Liberation Sans',sans-serif">+</text>
<circle cx="634.58" cy="1500.65" r="5.78" fill="#00c000"/>
<text transform="translate(636.26 1504.54) scale(0.9300 1)" font-size="9.45" font-weight="bold" stroke="#000" stroke-width="0.05" text-anchor="middle" fill="#000" font-family="'DejaVu Sans','Liberation Sans',sans-serif">+</text>
<circle cx="647.65" cy="1500.65" r="5.78" fill="#00c000"/>
<text transform="translate(649.33 1504.54) scale(0.9300 1)" font-size="9.45" font-weight="bold" stroke="#000" stroke-width="0.05" text-anchor="middle" fill="#000" font-family="'DejaVu Sans','Liberation Sans',sans-serif">+</text>
<circle cx="660.72" cy="1500.65" r="5.78" fill="#00c000"/>
<text transform="translate(662.40 1504.54) scale(0.9300 1)" font-size="9.45" font-weight="bold" stroke="#000" stroke-width="0.05" text-anchor="middle" fill="#000" font-family="'DejaVu Sans','Liberation Sans',sans-serif">+</text>
<text transform="translate(7.80 1517.62) scale(0.9999 1)" font-size="9.45" stroke="#000" stroke-width="0.25" fill="#000" font-family="'DejaVu Sans','Liberation Sans',sans-serif">Szegedi et al., 2018 T1</text>
<text transform="translate(169.80 1517.62) scale(0.9500 1)" font-size="9.45" stroke="#000" stroke-width="0.25" text-anchor="end" fill="#000" font-family="'DejaVu Sans','Liberation Sans',sans-serif">10.6%</text>
<text x="273.20" y="1517.62" font-size="9.45" stroke="#000" stroke-width="0.25" text-anchor="end" fill="#000" font-family="'DejaVu Sans','Liberation Sans',sans-serif"><tspan font-size="14.18" dy="1.09" stroke-width="0" letter-spacing="0.76">-</tspan><tspan dy="-1.09">0.10 [</tspan><tspan font-size="14.18" dy="1.09" stroke-width="0" letter-spacing="0.76">-</tspan><tspan dy="-1.09">0.85, 0.65]</tspan></text>
<line x1="392.42" y1="1512.58" x2="513.62" y2="1512.58" stroke="#111" stroke-width="1.05"/>
<rect x="451.54" y="1511.85" width="3.35" height="3.35" fill="#00cc00"/>
<circle cx="582.30" cy="1513.63" r="5.78" fill="#00c000"/>
<text transform="translate(583.98 1517.52) scale(0.9300 1)" font-size="9.45" font-weight="bold" stroke="#000" stroke-width="0.05" text-anchor="middle" fill="#000" font-family="'DejaVu Sans','Liberation Sans',sans-serif">+</text>
<circle cx="595.37" cy="1513.63" r="5.78" fill="#00c000"/>
<text transform="translate(597.05 1517.52) scale(0.9300 1)" font-size="9.45" font-weight="bold" stroke="#000" stroke-width="0.05" text-anchor="middle" fill="#000" font-family="'DejaVu Sans','Liberation Sans',sans-serif">+</text>
<circle cx="608.44" cy="1513.63" r="5.78" fill="#00c000"/>
<text transform="translate(610.12 1517.52) scale(0.9300 1)" font-size="9.45" font-weight="bold" stroke="#000" stroke-width="0.05" text-anchor="middle" fill="#000" font-family="'DejaVu Sans','Liberation Sans',sans-serif">+</text>
<circle cx="621.51" cy="1513.63" r="5.78" fill="#cc0000"/>
<text transform="translate(622.25 1516.26) scale(0.7800 1)" font-size="9.45" font-weight="bold" text-anchor="middle" fill="#400" font-family="'DejaVu Sans','Liberation Sans',sans-serif">−</text>
<circle cx="634.58" cy="1513.63" r="5.78" fill="#e0e000"/>
<text transform="translate(634.05 1517.52) scale(0.9300 1)" font-size="9.45" font-weight="bold" stroke="#000" stroke-width="0.05" text-anchor="middle" fill="#000" font-family="'DejaVu Sans','Liberation Sans',sans-serif">?</text>
<circle cx="647.65" cy="1513.63" r="5.78" fill="#00c000"/>
<text transform="translate(649.33 1517.52) scale(0.9300 1)" font-size="9.45" font-weight="bold" stroke="#000" stroke-width="0.05" text-anchor="middle" fill="#000" font-family="'DejaVu Sans','Liberation Sans',sans-serif">+</text>
<circle cx="660.72" cy="1513.63" r="5.78" fill="#00c000"/>
<text transform="translate(662.40 1517.52) scale(0.9300 1)" font-size="9.45" font-weight="bold" stroke="#000" stroke-width="0.05" text-anchor="middle" fill="#000" font-family="'DejaVu Sans','Liberation Sans',sans-serif">+</text>
<text transform="translate(7.80 1530.60) scale(0.9999 1)" font-size="9.45" stroke="#000" stroke-width="0.25" fill="#000" font-family="'DejaVu Sans','Liberation Sans',sans-serif">Szegedi et al., 2018 T2</text>
<text transform="translate(169.80 1530.60) scale(0.9500 1)" font-size="9.45" stroke="#000" stroke-width="0.25" text-anchor="end" fill="#000" font-family="'DejaVu Sans','Liberation Sans',sans-serif">10.1%</text>
<text x="273.20" y="1530.60" font-size="9.45" stroke="#000" stroke-width="0.25" text-anchor="end" fill="#000" font-family="'DejaVu Sans','Liberation Sans',sans-serif">0.20 [<tspan font-size="14.18" dy="1.09" stroke-width="0" letter-spacing="0.76">-</tspan><tspan dy="-1.09">0.58, 0.98]</tspan></text>
<line x1="414.24" y1="1525.56" x2="540.28" y2="1525.56" stroke="#111" stroke-width="1.05"/>
<rect x="475.82" y="1524.87" width="3.27" height="3.27" fill="#00cc00"/>
<circle cx="582.30" cy="1526.61" r="5.78" fill="#00c000"/>
<text transform="translate(583.98 1530.50) scale(0.9300 1)" font-size="9.45" font-weight="bold" stroke="#000" stroke-width="0.05" text-anchor="middle" fill="#000" font-family="'DejaVu Sans','Liberation Sans',sans-serif">+</text>
<circle cx="595.37" cy="1526.61" r="5.78" fill="#00c000"/>
<text transform="translate(597.05 1530.50) scale(0.9300 1)" font-size="9.45" font-weight="bold" stroke="#000" stroke-width="0.05" text-anchor="middle" fill="#000" font-family="'DejaVu Sans','Liberation Sans',sans-serif">+</text>
<circle cx="608.44" cy="1526.61" r="5.78" fill="#00c000"/>
<text transform="translate(610.12 1530.50) scale(0.9300 1)" font-size="9.45" font-weight="bold" stroke="#000" stroke-width="0.05" text-anchor="middle" fill="#000" font-family="'DejaVu Sans','Liberation Sans',sans-serif">+</text>
<circle cx="621.51" cy="1526.61" r="5.78" fill="#cc0000"/>
<text transform="translate(622.25 1529.24) scale(0.7800 1)" font-size="9.45" font-weight="bold" text-anchor="middle" fill="#400" font-family="'DejaVu Sans','Liberation Sans',sans-serif">−</text>
<circle cx="634.58" cy="1526.61" r="5.78" fill="#e0e000"/>
<text transform="translate(634.05 1530.50) scale(0.9300 1)" font-size="9.45" font-weight="bold" stroke="#000" stroke-width="0.05" text-anchor="middle" fill="#000" font-family="'DejaVu Sans','Liberation Sans',sans-serif">?</text>
<circle cx="647.65" cy="1526.61" r="5.78" fill="#00c000"/>
<text transform="translate(649.33 1530.50) scale(0.9300 1)" font-size="9.45" font-weight="bold" stroke="#000" stroke-width="0.05" text-anchor="middle" fill="#000" font-family="'DejaVu Sans','Liberation Sans',sans-serif">+</text>
<circle cx="660.72" cy="1526.61" r="5.78" fill="#00c000"/>
<text transform="translate(662.40 1530.50) scale(0.9300 1)" font-size="9.45" font-weight="bold" stroke="#000" stroke-width="0.05" text-anchor="middle" fill="#000" font-family="'DejaVu Sans','Liberation Sans',sans-serif">+</text>
<text transform="translate(7.80 1555.10) scale(0.9630 1)" font-size="9.45" font-weight="bold" stroke="#000" stroke-width="0.15" fill="#000" font-family="'DejaVu Sans','Liberation Sans',sans-serif">Total (95% CI)</text>
<text transform="translate(169.40 1555.10) scale(0.9300 1)" font-size="9.45" font-weight="bold" stroke="#000" stroke-width="0.15" text-anchor="end" fill="#000" font-family="'DejaVu Sans','Liberation Sans',sans-serif">100.0%</text>
<text transform="translate(273.20 1555.10) scale(0.9300 1)" font-size="9.45" font-weight="bold" stroke="#000" stroke-width="0.15" text-anchor="end" fill="#000" font-family="'DejaVu Sans','Liberation Sans',sans-serif"><tspan font-size="14.18" dy="1.09" stroke-width="0" letter-spacing="0.76">-</tspan><tspan dy="-1.09">0.04 [</tspan><tspan font-size="14.18" dy="1.09" stroke-width="0" letter-spacing="0.76">-</tspan><tspan dy="-1.09">0.35, 0.26]</tspan></text>
<text transform="translate(7.80 1569.50) scale(1.0060 1)" font-size="9.45" stroke="#000" stroke-width="0.25" fill="#000" font-family="'DejaVu Sans','Liberation Sans',sans-serif">Heterogeneity: Tau<tspan dy="-3.89" font-size="6.80">2</tspan><tspan dy="3.89" font-size="6.80">​</tspan> = 0.08; Chi<tspan dy="-3.89" font-size="6.80">2</tspan><tspan dy="3.89" font-size="6.80">​</tspan> = 12.77, df = 5 (P = 0.03); I<tspan dy="-3.89" font-size="6.80">2</tspan><tspan dy="3.89" font-size="6.80">​</tspan> = 61%</text>
<text transform="translate(7.80 1582.80) scale(1.0100 1)" font-size="9.45" stroke="#000" stroke-width="0.25" fill="#000" font-family="'DejaVu Sans','Liberation Sans',sans-serif">Test for overall effect: Z = 0.29 (P = 0.77)</text>
<line x1="354.10" y1="1564.40" x2="568.50" y2="1564.40" stroke="#000" stroke-width="1.05"/>
<line x1="380.30" y1="1561.57" x2="380.30" y2="1567.24" stroke="#000" stroke-width="1.05"/>
<text transform="translate(380.30 1575.95) scale(0.9850 1)" font-size="9.45" stroke="#000" stroke-width="0.25" text-anchor="middle" fill="#000" font-family="'DejaVu Sans','Liberation Sans',sans-serif"><tspan font-size="14.18" dy="1.09" stroke-width="0" letter-spacing="0.76">-</tspan><tspan dy="-1.09">1</tspan></text>
<line x1="420.70" y1="1561.57" x2="420.70" y2="1567.24" stroke="#000" stroke-width="1.05"/>
<text transform="translate(420.70 1575.95) scale(0.9850 1)" font-size="9.45" stroke="#000" stroke-width="0.25" text-anchor="middle" fill="#000" font-family="'DejaVu Sans','Liberation Sans',sans-serif"><tspan font-size="14.18" dy="1.09" stroke-width="0" letter-spacing="0.76">-</tspan><tspan dy="-1.09">0.5</tspan></text>
<line x1="461.10" y1="1561.57" x2="461.10" y2="1567.24" stroke="#000" stroke-width="1.05"/>
<text transform="translate(461.10 1575.95) scale(0.9850 1)" font-size="9.45" stroke="#000" stroke-width="0.25" text-anchor="middle" fill="#000" font-family="'DejaVu Sans','Liberation Sans',sans-serif">0</text>
<line x1="501.50" y1="1561.57" x2="501.50" y2="1567.24" stroke="#000" stroke-width="1.05"/>
<text transform="translate(501.50 1575.95) scale(0.9850 1)" font-size="9.45" stroke="#000" stroke-width="0.25" text-anchor="middle" fill="#000" font-family="'DejaVu Sans','Liberation Sans',sans-serif">0.5</text>
<line x1="541.90" y1="1561.57" x2="541.90" y2="1567.24" stroke="#000" stroke-width="1.05"/>
<text transform="translate(541.90 1575.95) scale(0.9850 1)" font-size="9.45" stroke="#000" stroke-width="0.25" text-anchor="middle" fill="#000" font-family="'DejaVu Sans','Liberation Sans',sans-serif">1</text>
<text transform="translate(458.50 1587.08) scale(0.9750 1)" font-size="9.45" stroke="#000" stroke-width="0.25" text-anchor="end" fill="#000" font-family="'DejaVu Sans','Liberation Sans',sans-serif">Favours active treatment</text>
<text x="465.93" y="1587.08" font-size="9.45" stroke="#000" stroke-width="0.25" fill="#000" font-family="'DejaVu Sans','Liberation Sans',sans-serif">Favours placebo</text>
<path d="M432.82 1551.50 L457.87 1545.93 L482.11 1551.50 L457.87 1557.07 Z" fill="#000"/>
<text transform="translate(7.80 1609.40) scale(0.9960 1)" font-size="9.45" stroke="#000" stroke-width="0.25" fill="#000" font-family="'DejaVu Sans','Liberation Sans',sans-serif">Risk of bias legend</text>
<line x1="8.00" y1="1611.24" x2="98.00" y2="1611.24" stroke="#000" stroke-width="0.89"/>
<text x="7.80" y="1622.30" font-size="9.45" stroke="#000" stroke-width="0.25" fill="#000" font-family="'DejaVu Sans','Liberation Sans',sans-serif">(<tspan font-weight="bold" letter-spacing="-0.58">A</tspan>) Random sequence generation (selection bias)</text>
<text x="7.80" y="1635.30" font-size="9.45" stroke="#000" stroke-width="0.25" fill="#000" font-family="'DejaVu Sans','Liberation Sans',sans-serif">(<tspan font-weight="bold" letter-spacing="-0.58">B</tspan>) Allocation concealment (selection bias)</text>
<text x="7.80" y="1648.30" font-size="9.45" stroke="#000" stroke-width="0.25" fill="#000" font-family="'DejaVu Sans','Liberation Sans',sans-serif">(<tspan font-weight="bold" letter-spacing="-0.58">C</tspan>) Blinding of participants and personnel (performance bias)</text>
<text x="7.80" y="1661.30" font-size="9.45" stroke="#000" stroke-width="0.25" fill="#000" font-family="'DejaVu Sans','Liberation Sans',sans-serif">(<tspan font-weight="bold" letter-spacing="-0.58">D</tspan>) Blinding of outcome assessment (detection bias)</text>
<text x="7.80" y="1674.30" font-size="9.45" stroke="#000" stroke-width="0.25" fill="#000" font-family="'DejaVu Sans','Liberation Sans',sans-serif">(<tspan font-weight="bold" letter-spacing="-0.58">E</tspan>) Incomplete outcome data (attrition bias)</text>
<text x="7.80" y="1687.30" font-size="9.45" stroke="#000" stroke-width="0.25" fill="#000" font-family="'DejaVu Sans','Liberation Sans',sans-serif">(<tspan font-weight="bold" letter-spacing="-0.58">F</tspan>) Selective reporting (reporting bias)</text>
<text x="7.80" y="1700.30" font-size="9.45" stroke="#000" stroke-width="0.25" fill="#000" font-family="'DejaVu Sans','Liberation Sans',sans-serif">(<tspan font-weight="bold" letter-spacing="-0.58">G</tspan>) Other bias</text>
</svg></body></html>
